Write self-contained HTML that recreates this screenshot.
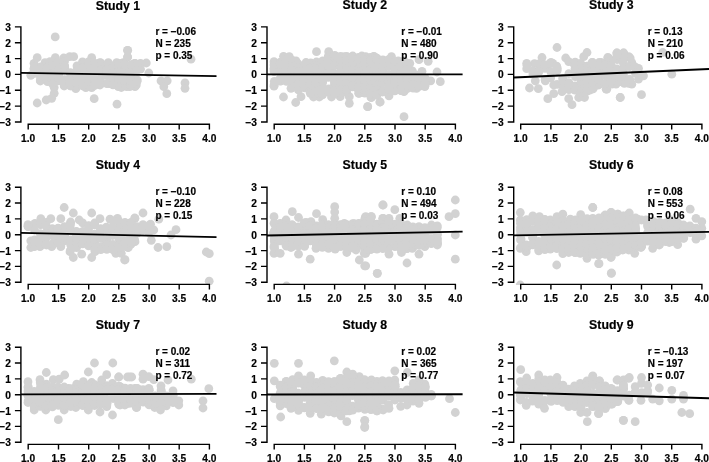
<!DOCTYPE html>
<html><head><meta charset="utf-8"><title>Studies</title><style>html,body{margin:0;padding:0;background:#fff;overflow:hidden}svg{display:block}</style></head><body>
<svg width="709" height="462" viewBox="0 0 709 462">
<style>text{font-family:"Liberation Sans",sans-serif;font-weight:bold;fill:#000;stroke:#000;stroke-width:0.18px}.t{font-size:12.3px;text-anchor:middle}.a{font-size:10.2px;text-anchor:middle}.y{font-size:10.2px;text-anchor:end}.l{font-size:10px}</style>
<rect width="709" height="462" fill="#fff"/>
<clipPath id="c0"><rect x="20.9" y="22.0" width="196" height="103.0"/></clipPath>
<g fill="#d2d2d2" clip-path="url(#c0)">
<circle cx="34.0" cy="63.3" r="4.4"/>
<circle cx="37.2" cy="57.7" r="4.4"/>
<circle cx="45.0" cy="62.7" r="4.4"/>
<circle cx="50.0" cy="61.7" r="4.4"/>
<circle cx="55.3" cy="57.7" r="4.4"/>
<circle cx="63.7" cy="58.0" r="4.4"/>
<circle cx="69.7" cy="56.7" r="4.4"/>
<circle cx="73.7" cy="56.7" r="4.4"/>
<circle cx="82.5" cy="61.8" r="4.4"/>
<circle cx="91.7" cy="57.7" r="4.4"/>
<circle cx="100.0" cy="62.7" r="4.4"/>
<circle cx="108.3" cy="62.7" r="4.4"/>
<circle cx="116.7" cy="62.7" r="4.4"/>
<circle cx="123.3" cy="62.7" r="4.4"/>
<circle cx="127.5" cy="50.3" r="4.4"/>
<circle cx="127.5" cy="57.0" r="4.4"/>
<circle cx="135.0" cy="63.3" r="4.4"/>
<circle cx="30.8" cy="75.3" r="4.4"/>
<circle cx="40.3" cy="81.0" r="4.4"/>
<circle cx="47.5" cy="81.7" r="4.4"/>
<circle cx="54.2" cy="87.5" r="4.4"/>
<circle cx="54.2" cy="93.3" r="4.4"/>
<circle cx="51.7" cy="98.3" r="4.4"/>
<circle cx="46.2" cy="100.0" r="4.4"/>
<circle cx="37.2" cy="103.0" r="4.4"/>
<circle cx="64.2" cy="86.0" r="4.4"/>
<circle cx="75.8" cy="88.7" r="4.4"/>
<circle cx="85.8" cy="87.7" r="4.4"/>
<circle cx="91.7" cy="87.7" r="4.4"/>
<circle cx="100.0" cy="85.0" r="4.4"/>
<circle cx="109.2" cy="83.7" r="4.4"/>
<circle cx="94.2" cy="98.7" r="4.4"/>
<circle cx="117.0" cy="104.2" r="4.4"/>
<circle cx="118.3" cy="86.7" r="4.4"/>
<circle cx="126.7" cy="86.7" r="4.4"/>
<circle cx="135.0" cy="86.7" r="4.4"/>
<circle cx="127.7" cy="50.3" r="4.4"/>
<circle cx="127.7" cy="57.0" r="4.4"/>
<circle cx="121.3" cy="63.3" r="4.4"/>
<circle cx="134.7" cy="63.3" r="4.4"/>
<circle cx="140.5" cy="63.3" r="4.4"/>
<circle cx="146.3" cy="63.0" r="4.4"/>
<circle cx="140.5" cy="69.2" r="4.4"/>
<circle cx="128.0" cy="69.2" r="4.4"/>
<circle cx="148.8" cy="73.0" r="4.4"/>
<circle cx="121.3" cy="70.0" r="4.4"/>
<circle cx="121.3" cy="81.7" r="4.4"/>
<circle cx="128.0" cy="81.7" r="4.4"/>
<circle cx="136.3" cy="80.0" r="4.4"/>
<circle cx="136.3" cy="85.0" r="4.4"/>
<circle cx="129.7" cy="86.7" r="4.4"/>
<circle cx="121.3" cy="87.5" r="4.4"/>
<circle cx="161.0" cy="80.8" r="4.4"/>
<circle cx="167.2" cy="80.8" r="4.4"/>
<circle cx="163.8" cy="86.7" r="4.4"/>
<circle cx="166.8" cy="93.7" r="4.4"/>
<circle cx="185.0" cy="82.8" r="4.4"/>
<circle cx="185.0" cy="88.3" r="4.4"/>
<circle cx="191.0" cy="59.2" r="4.4"/>
<circle cx="55.2" cy="36.9" r="4.4"/>
<circle cx="34.2" cy="68.3" r="4.4"/>
<circle cx="34.4" cy="73.3" r="4.4"/>
<circle cx="33.9" cy="68.9" r="4.4"/>
<circle cx="34.6" cy="66.7" r="4.4"/>
<circle cx="40.3" cy="79.9" r="4.4"/>
<circle cx="40.7" cy="71.0" r="4.4"/>
<circle cx="40.7" cy="66.9" r="4.4"/>
<circle cx="40.4" cy="73.6" r="4.4"/>
<circle cx="40.7" cy="72.3" r="4.4"/>
<circle cx="40.3" cy="68.3" r="4.4"/>
<circle cx="40.0" cy="75.4" r="4.4"/>
<circle cx="46.1" cy="72.5" r="4.4"/>
<circle cx="46.3" cy="77.5" r="4.4"/>
<circle cx="46.6" cy="71.5" r="4.4"/>
<circle cx="46.4" cy="73.5" r="4.4"/>
<circle cx="46.8" cy="68.8" r="4.4"/>
<circle cx="46.7" cy="68.1" r="4.4"/>
<circle cx="52.3" cy="67.5" r="4.4"/>
<circle cx="52.3" cy="80.1" r="4.4"/>
<circle cx="52.7" cy="62.4" r="4.4"/>
<circle cx="52.0" cy="72.6" r="4.4"/>
<circle cx="52.3" cy="73.9" r="4.4"/>
<circle cx="52.6" cy="78.8" r="4.4"/>
<circle cx="52.5" cy="84.0" r="4.4"/>
<circle cx="52.4" cy="65.6" r="4.4"/>
<circle cx="58.4" cy="80.8" r="4.4"/>
<circle cx="58.6" cy="75.9" r="4.4"/>
<circle cx="58.8" cy="73.4" r="4.4"/>
<circle cx="58.2" cy="64.1" r="4.4"/>
<circle cx="58.5" cy="67.0" r="4.4"/>
<circle cx="58.5" cy="70.8" r="4.4"/>
<circle cx="58.5" cy="77.7" r="4.4"/>
<circle cx="58.8" cy="67.0" r="4.4"/>
<circle cx="58.3" cy="62.6" r="4.4"/>
<circle cx="64.5" cy="83.1" r="4.4"/>
<circle cx="64.7" cy="66.7" r="4.4"/>
<circle cx="64.7" cy="85.0" r="4.4"/>
<circle cx="64.5" cy="61.0" r="4.4"/>
<circle cx="64.1" cy="62.0" r="4.4"/>
<circle cx="64.8" cy="68.0" r="4.4"/>
<circle cx="64.5" cy="65.9" r="4.4"/>
<circle cx="64.5" cy="69.2" r="4.4"/>
<circle cx="64.5" cy="66.2" r="4.4"/>
<circle cx="64.6" cy="79.6" r="4.4"/>
<circle cx="70.5" cy="85.9" r="4.4"/>
<circle cx="70.8" cy="79.1" r="4.4"/>
<circle cx="70.8" cy="85.8" r="4.4"/>
<circle cx="70.3" cy="78.5" r="4.4"/>
<circle cx="70.2" cy="81.6" r="4.4"/>
<circle cx="70.7" cy="74.4" r="4.4"/>
<circle cx="70.3" cy="72.7" r="4.4"/>
<circle cx="70.4" cy="84.6" r="4.4"/>
<circle cx="70.2" cy="82.4" r="4.4"/>
<circle cx="70.3" cy="79.9" r="4.4"/>
<circle cx="70.3" cy="84.0" r="4.4"/>
<circle cx="76.5" cy="71.1" r="4.4"/>
<circle cx="76.5" cy="74.0" r="4.4"/>
<circle cx="76.9" cy="75.6" r="4.4"/>
<circle cx="76.6" cy="78.6" r="4.4"/>
<circle cx="76.8" cy="77.5" r="4.4"/>
<circle cx="76.3" cy="75.7" r="4.4"/>
<circle cx="76.7" cy="73.9" r="4.4"/>
<circle cx="76.7" cy="83.0" r="4.4"/>
<circle cx="77.0" cy="65.9" r="4.4"/>
<circle cx="76.8" cy="71.4" r="4.4"/>
<circle cx="82.5" cy="64.0" r="4.4"/>
<circle cx="82.7" cy="83.0" r="4.4"/>
<circle cx="83.0" cy="82.9" r="4.4"/>
<circle cx="82.9" cy="77.9" r="4.4"/>
<circle cx="82.5" cy="67.6" r="4.4"/>
<circle cx="82.5" cy="68.4" r="4.4"/>
<circle cx="82.9" cy="74.7" r="4.4"/>
<circle cx="82.2" cy="76.1" r="4.4"/>
<circle cx="82.7" cy="85.9" r="4.4"/>
<circle cx="88.6" cy="70.5" r="4.4"/>
<circle cx="88.5" cy="61.8" r="4.4"/>
<circle cx="88.6" cy="78.6" r="4.4"/>
<circle cx="88.8" cy="75.9" r="4.4"/>
<circle cx="88.5" cy="78.9" r="4.4"/>
<circle cx="88.9" cy="64.5" r="4.4"/>
<circle cx="89.0" cy="74.1" r="4.4"/>
<circle cx="88.5" cy="81.3" r="4.4"/>
<circle cx="89.0" cy="75.0" r="4.4"/>
<circle cx="88.4" cy="76.1" r="4.4"/>
<circle cx="94.6" cy="64.7" r="4.4"/>
<circle cx="94.7" cy="85.4" r="4.4"/>
<circle cx="95.1" cy="63.3" r="4.4"/>
<circle cx="94.4" cy="75.4" r="4.4"/>
<circle cx="94.5" cy="84.8" r="4.4"/>
<circle cx="95.0" cy="74.6" r="4.4"/>
<circle cx="94.5" cy="67.5" r="4.4"/>
<circle cx="95.0" cy="80.8" r="4.4"/>
<circle cx="94.7" cy="78.0" r="4.4"/>
<circle cx="100.7" cy="62.9" r="4.4"/>
<circle cx="101.0" cy="70.7" r="4.4"/>
<circle cx="100.8" cy="77.6" r="4.4"/>
<circle cx="101.0" cy="66.6" r="4.4"/>
<circle cx="100.5" cy="65.5" r="4.4"/>
<circle cx="100.4" cy="81.8" r="4.4"/>
<circle cx="100.8" cy="71.8" r="4.4"/>
<circle cx="100.6" cy="82.5" r="4.4"/>
<circle cx="101.0" cy="69.3" r="4.4"/>
<circle cx="106.8" cy="64.5" r="4.4"/>
<circle cx="106.8" cy="83.7" r="4.4"/>
<circle cx="106.6" cy="75.2" r="4.4"/>
<circle cx="107.2" cy="71.8" r="4.4"/>
<circle cx="106.5" cy="69.7" r="4.4"/>
<circle cx="106.6" cy="75.4" r="4.4"/>
<circle cx="107.1" cy="73.3" r="4.4"/>
<circle cx="106.7" cy="69.5" r="4.4"/>
<circle cx="106.6" cy="69.9" r="4.4"/>
<circle cx="112.8" cy="83.2" r="4.4"/>
<circle cx="113.2" cy="75.1" r="4.4"/>
<circle cx="112.6" cy="74.2" r="4.4"/>
<circle cx="112.7" cy="66.0" r="4.4"/>
<circle cx="112.5" cy="68.4" r="4.4"/>
<circle cx="112.6" cy="78.1" r="4.4"/>
<circle cx="112.9" cy="73.1" r="4.4"/>
<circle cx="113.0" cy="84.8" r="4.4"/>
<circle cx="118.7" cy="73.4" r="4.4"/>
<circle cx="118.7" cy="74.9" r="4.4"/>
<circle cx="119.2" cy="78.7" r="4.4"/>
<circle cx="119.0" cy="79.3" r="4.4"/>
<circle cx="118.7" cy="83.6" r="4.4"/>
<circle cx="118.7" cy="71.4" r="4.4"/>
<circle cx="119.2" cy="67.4" r="4.4"/>
<circle cx="124.7" cy="63.7" r="4.4"/>
<circle cx="124.5" cy="68.9" r="4.4"/>
<circle cx="124.9" cy="75.0" r="4.4"/>
<circle cx="124.5" cy="78.5" r="4.4"/>
<circle cx="124.7" cy="81.0" r="4.4"/>
<circle cx="125.2" cy="77.8" r="4.4"/>
<circle cx="124.6" cy="64.3" r="4.4"/>
<circle cx="130.9" cy="84.3" r="4.4"/>
<circle cx="131.3" cy="82.5" r="4.4"/>
<circle cx="130.6" cy="78.5" r="4.4"/>
<circle cx="130.9" cy="67.5" r="4.4"/>
<circle cx="131.2" cy="81.8" r="4.4"/>
<circle cx="130.6" cy="71.2" r="4.4"/>
<circle cx="130.8" cy="77.0" r="4.4"/>
<circle cx="119.1" cy="74.1" r="4.4"/>
<circle cx="118.6" cy="75.0" r="4.4"/>
<circle cx="119.0" cy="70.2" r="4.4"/>
<circle cx="119.0" cy="77.7" r="4.4"/>
<circle cx="119.2" cy="75.3" r="4.4"/>
<circle cx="119.1" cy="78.9" r="4.4"/>
<circle cx="119.1" cy="63.9" r="4.4"/>
<circle cx="124.7" cy="71.4" r="4.4"/>
<circle cx="124.8" cy="77.0" r="4.4"/>
<circle cx="124.8" cy="71.9" r="4.4"/>
<circle cx="124.6" cy="73.5" r="4.4"/>
<circle cx="125.2" cy="80.0" r="4.4"/>
<circle cx="124.8" cy="80.0" r="4.4"/>
<circle cx="124.7" cy="64.5" r="4.4"/>
<circle cx="131.0" cy="81.7" r="4.4"/>
<circle cx="131.1" cy="79.7" r="4.4"/>
<circle cx="130.9" cy="75.3" r="4.4"/>
<circle cx="130.7" cy="85.0" r="4.4"/>
<circle cx="131.3" cy="64.7" r="4.4"/>
<circle cx="131.3" cy="80.6" r="4.4"/>
<circle cx="130.6" cy="72.5" r="4.4"/>
<circle cx="137.3" cy="80.0" r="4.4"/>
<circle cx="137.2" cy="68.5" r="4.4"/>
<circle cx="137.2" cy="64.7" r="4.4"/>
<circle cx="137.0" cy="81.6" r="4.4"/>
<circle cx="136.7" cy="70.5" r="4.4"/>
</g>
<line x1="20.9" y1="72.9" x2="216.5" y2="76.2" stroke="#000" stroke-width="1.85"/>
<path d="M20.9 26.9V122.0M20.9 122.0h-5.3M20.9 106.1h-5.3M20.9 90.2h-5.3M20.9 74.4h-5.3M20.9 58.6h-5.3M20.9 42.7h-5.3M20.9 26.9h-5.3M28.2 124.3H209.4M28.2 124.3v4.4M58.5 124.3v4.4M88.7 124.3v4.4M118.8 124.3v4.4M149.1 124.3v4.4M179.2 124.3v4.4M209.4 124.3v4.4" stroke="#000" stroke-width="1.4" fill="none" stroke-linecap="square"/>
<text class="y" x="10.9" y="126.0">−3</text>
<text class="y" x="10.9" y="110.1">−2</text>
<text class="y" x="10.9" y="94.2">−1</text>
<text class="y" x="10.9" y="78.4">0</text>
<text class="y" x="10.9" y="62.6">1</text>
<text class="y" x="10.9" y="46.7">2</text>
<text class="y" x="10.9" y="30.9">3</text>
<text class="a" x="28.2" y="141.6">1.0</text>
<text class="a" x="58.5" y="141.6">1.5</text>
<text class="a" x="88.7" y="141.6">2.0</text>
<text class="a" x="118.8" y="141.6">2.5</text>
<text class="a" x="149.1" y="141.6">3.0</text>
<text class="a" x="179.2" y="141.6">3.5</text>
<text class="a" x="209.4" y="141.6">4.0</text>
<text class="t" x="118.0" y="9.60">Study 1</text>
<text class="l" x="155.4" y="35.0">r = −0.06</text>
<text class="l" x="155.4" y="46.9">N = 235</text>
<text class="l" x="155.4" y="58.7">p = 0.35</text>
<clipPath id="c1"><rect x="267.0" y="22.0" width="196" height="103.0"/></clipPath>
<g fill="#d2d2d2" clip-path="url(#c1)">
<circle cx="274.0" cy="61.7" r="4.4"/>
<circle cx="274.0" cy="68.3" r="4.4"/>
<circle cx="283.5" cy="56.3" r="4.4"/>
<circle cx="289.3" cy="56.7" r="4.4"/>
<circle cx="296.0" cy="60.8" r="4.4"/>
<circle cx="283.5" cy="68.3" r="4.4"/>
<circle cx="306.0" cy="62.5" r="4.4"/>
<circle cx="316.5" cy="51.7" r="4.4"/>
<circle cx="322.7" cy="60.8" r="4.4"/>
<circle cx="328.7" cy="51.7" r="4.4"/>
<circle cx="336.0" cy="56.7" r="4.4"/>
<circle cx="344.3" cy="56.7" r="4.4"/>
<circle cx="352.7" cy="56.0" r="4.4"/>
<circle cx="361.8" cy="56.0" r="4.4"/>
<circle cx="373.5" cy="56.7" r="4.4"/>
<circle cx="381.0" cy="61.7" r="4.4"/>
<circle cx="274.0" cy="86.2" r="4.4"/>
<circle cx="281.0" cy="80.8" r="4.4"/>
<circle cx="283.5" cy="97.0" r="4.4"/>
<circle cx="291.0" cy="88.3" r="4.4"/>
<circle cx="295.7" cy="102.5" r="4.4"/>
<circle cx="301.0" cy="96.7" r="4.4"/>
<circle cx="313.5" cy="97.0" r="4.4"/>
<circle cx="319.3" cy="97.0" r="4.4"/>
<circle cx="331.5" cy="97.0" r="4.4"/>
<circle cx="340.2" cy="96.7" r="4.4"/>
<circle cx="349.3" cy="96.7" r="4.4"/>
<circle cx="349.3" cy="103.3" r="4.4"/>
<circle cx="359.3" cy="91.7" r="4.4"/>
<circle cx="371.0" cy="97.5" r="4.4"/>
<circle cx="367.7" cy="106.7" r="4.4"/>
<circle cx="380.2" cy="102.0" r="4.4"/>
<circle cx="381.0" cy="90.0" r="4.4"/>
<circle cx="365.7" cy="56.7" r="4.4"/>
<circle cx="374.0" cy="56.3" r="4.4"/>
<circle cx="380.7" cy="60.8" r="4.4"/>
<circle cx="391.5" cy="56.7" r="4.4"/>
<circle cx="398.2" cy="60.8" r="4.4"/>
<circle cx="404.0" cy="60.8" r="4.4"/>
<circle cx="409.8" cy="63.3" r="4.4"/>
<circle cx="419.0" cy="59.7" r="4.4"/>
<circle cx="428.2" cy="61.3" r="4.4"/>
<circle cx="422.0" cy="71.3" r="4.4"/>
<circle cx="437.0" cy="72.0" r="4.4"/>
<circle cx="412.3" cy="70.8" r="4.4"/>
<circle cx="371.5" cy="97.5" r="4.4"/>
<circle cx="367.7" cy="106.7" r="4.4"/>
<circle cx="379.8" cy="102.0" r="4.4"/>
<circle cx="389.0" cy="95.8" r="4.4"/>
<circle cx="394.8" cy="90.8" r="4.4"/>
<circle cx="404.0" cy="91.7" r="4.4"/>
<circle cx="404.0" cy="116.7" r="4.4"/>
<circle cx="416.5" cy="88.3" r="4.4"/>
<circle cx="424.8" cy="86.7" r="4.4"/>
<circle cx="430.7" cy="80.8" r="4.4"/>
<circle cx="440.3" cy="81.7" r="4.4"/>
<circle cx="412.3" cy="81.7" r="4.4"/>
<circle cx="274.2" cy="84.7" r="4.4"/>
<circle cx="274.3" cy="81.3" r="4.4"/>
<circle cx="274.3" cy="69.9" r="4.4"/>
<circle cx="274.1" cy="69.7" r="4.4"/>
<circle cx="274.1" cy="71.6" r="4.4"/>
<circle cx="274.6" cy="69.3" r="4.4"/>
<circle cx="274.0" cy="65.1" r="4.4"/>
<circle cx="280.2" cy="62.5" r="4.4"/>
<circle cx="280.2" cy="81.1" r="4.4"/>
<circle cx="280.6" cy="69.2" r="4.4"/>
<circle cx="280.0" cy="70.0" r="4.4"/>
<circle cx="279.9" cy="78.9" r="4.4"/>
<circle cx="280.2" cy="72.8" r="4.4"/>
<circle cx="280.0" cy="71.6" r="4.4"/>
<circle cx="280.4" cy="62.5" r="4.4"/>
<circle cx="280.5" cy="63.9" r="4.4"/>
<circle cx="286.5" cy="81.4" r="4.4"/>
<circle cx="286.3" cy="59.9" r="4.4"/>
<circle cx="286.6" cy="75.3" r="4.4"/>
<circle cx="286.2" cy="72.2" r="4.4"/>
<circle cx="286.6" cy="75.5" r="4.4"/>
<circle cx="286.1" cy="70.3" r="4.4"/>
<circle cx="286.1" cy="60.5" r="4.4"/>
<circle cx="286.6" cy="70.3" r="4.4"/>
<circle cx="286.1" cy="66.3" r="4.4"/>
<circle cx="292.3" cy="62.2" r="4.4"/>
<circle cx="292.4" cy="60.3" r="4.4"/>
<circle cx="292.4" cy="73.9" r="4.4"/>
<circle cx="292.3" cy="71.3" r="4.4"/>
<circle cx="292.7" cy="81.6" r="4.4"/>
<circle cx="292.6" cy="71.0" r="4.4"/>
<circle cx="292.5" cy="71.1" r="4.4"/>
<circle cx="292.5" cy="80.6" r="4.4"/>
<circle cx="292.0" cy="70.1" r="4.4"/>
<circle cx="292.1" cy="69.0" r="4.4"/>
<circle cx="292.6" cy="66.7" r="4.4"/>
<circle cx="298.4" cy="64.0" r="4.4"/>
<circle cx="298.4" cy="90.0" r="4.4"/>
<circle cx="298.5" cy="85.0" r="4.4"/>
<circle cx="298.0" cy="68.0" r="4.4"/>
<circle cx="298.5" cy="71.6" r="4.4"/>
<circle cx="298.0" cy="81.5" r="4.4"/>
<circle cx="298.5" cy="78.7" r="4.4"/>
<circle cx="298.0" cy="75.5" r="4.4"/>
<circle cx="298.1" cy="75.4" r="4.4"/>
<circle cx="298.3" cy="83.3" r="4.4"/>
<circle cx="298.1" cy="85.5" r="4.4"/>
<circle cx="298.5" cy="86.4" r="4.4"/>
<circle cx="298.6" cy="78.6" r="4.4"/>
<circle cx="298.0" cy="84.1" r="4.4"/>
<circle cx="304.7" cy="84.4" r="4.4"/>
<circle cx="304.6" cy="78.2" r="4.4"/>
<circle cx="304.5" cy="68.9" r="4.4"/>
<circle cx="304.3" cy="78.8" r="4.4"/>
<circle cx="304.7" cy="87.8" r="4.4"/>
<circle cx="304.1" cy="85.1" r="4.4"/>
<circle cx="304.4" cy="67.0" r="4.4"/>
<circle cx="304.1" cy="71.2" r="4.4"/>
<circle cx="304.5" cy="86.3" r="4.4"/>
<circle cx="304.3" cy="75.0" r="4.4"/>
<circle cx="304.1" cy="79.1" r="4.4"/>
<circle cx="304.1" cy="80.3" r="4.4"/>
<circle cx="304.1" cy="78.4" r="4.4"/>
<circle cx="310.4" cy="64.3" r="4.4"/>
<circle cx="310.4" cy="87.3" r="4.4"/>
<circle cx="310.2" cy="77.6" r="4.4"/>
<circle cx="310.7" cy="62.8" r="4.4"/>
<circle cx="310.6" cy="68.2" r="4.4"/>
<circle cx="310.5" cy="77.4" r="4.4"/>
<circle cx="310.0" cy="91.5" r="4.4"/>
<circle cx="310.1" cy="90.9" r="4.4"/>
<circle cx="310.6" cy="80.9" r="4.4"/>
<circle cx="310.2" cy="78.3" r="4.4"/>
<circle cx="310.2" cy="83.9" r="4.4"/>
<circle cx="310.4" cy="81.2" r="4.4"/>
<circle cx="310.3" cy="93.3" r="4.4"/>
<circle cx="310.8" cy="72.4" r="4.4"/>
<circle cx="310.8" cy="71.0" r="4.4"/>
<circle cx="310.4" cy="76.1" r="4.4"/>
<circle cx="316.5" cy="62.0" r="4.4"/>
<circle cx="316.5" cy="94.5" r="4.4"/>
<circle cx="316.2" cy="63.6" r="4.4"/>
<circle cx="316.5" cy="82.2" r="4.4"/>
<circle cx="316.8" cy="65.7" r="4.4"/>
<circle cx="316.9" cy="69.3" r="4.4"/>
<circle cx="316.4" cy="70.8" r="4.4"/>
<circle cx="316.2" cy="80.4" r="4.4"/>
<circle cx="316.6" cy="69.0" r="4.4"/>
<circle cx="316.4" cy="92.8" r="4.4"/>
<circle cx="316.5" cy="79.4" r="4.4"/>
<circle cx="316.1" cy="82.7" r="4.4"/>
<circle cx="316.8" cy="75.1" r="4.4"/>
<circle cx="316.1" cy="90.8" r="4.4"/>
<circle cx="316.5" cy="78.2" r="4.4"/>
<circle cx="316.4" cy="69.1" r="4.4"/>
<circle cx="316.4" cy="83.2" r="4.4"/>
<circle cx="316.1" cy="83.0" r="4.4"/>
<circle cx="322.5" cy="62.4" r="4.4"/>
<circle cx="322.5" cy="94.9" r="4.4"/>
<circle cx="322.6" cy="82.4" r="4.4"/>
<circle cx="322.5" cy="81.3" r="4.4"/>
<circle cx="322.8" cy="67.8" r="4.4"/>
<circle cx="322.3" cy="89.6" r="4.4"/>
<circle cx="322.9" cy="61.8" r="4.4"/>
<circle cx="322.8" cy="74.9" r="4.4"/>
<circle cx="322.4" cy="66.5" r="4.4"/>
<circle cx="322.3" cy="79.4" r="4.4"/>
<circle cx="322.5" cy="93.6" r="4.4"/>
<circle cx="322.6" cy="64.0" r="4.4"/>
<circle cx="322.4" cy="80.1" r="4.4"/>
<circle cx="322.9" cy="71.8" r="4.4"/>
<circle cx="322.2" cy="86.3" r="4.4"/>
<circle cx="322.2" cy="89.1" r="4.4"/>
<circle cx="322.4" cy="73.1" r="4.4"/>
<circle cx="322.3" cy="71.6" r="4.4"/>
<circle cx="322.5" cy="67.4" r="4.4"/>
<circle cx="328.6" cy="56.4" r="4.4"/>
<circle cx="328.6" cy="75.3" r="4.4"/>
<circle cx="328.7" cy="67.9" r="4.4"/>
<circle cx="328.5" cy="73.5" r="4.4"/>
<circle cx="329.0" cy="70.3" r="4.4"/>
<circle cx="328.8" cy="59.5" r="4.4"/>
<circle cx="328.5" cy="67.1" r="4.4"/>
<circle cx="328.2" cy="71.1" r="4.4"/>
<circle cx="328.3" cy="56.5" r="4.4"/>
<circle cx="328.5" cy="56.8" r="4.4"/>
<circle cx="328.7" cy="73.9" r="4.4"/>
<circle cx="328.5" cy="65.4" r="4.4"/>
<circle cx="328.8" cy="88.9" r="4.4"/>
<circle cx="328.7" cy="71.7" r="4.4"/>
<circle cx="328.3" cy="77.3" r="4.4"/>
<circle cx="328.7" cy="63.3" r="4.4"/>
<circle cx="328.9" cy="63.9" r="4.4"/>
<circle cx="328.5" cy="73.4" r="4.4"/>
<circle cx="328.7" cy="73.2" r="4.4"/>
<circle cx="328.8" cy="92.2" r="4.4"/>
<circle cx="328.2" cy="59.6" r="4.4"/>
<circle cx="328.6" cy="66.0" r="4.4"/>
<circle cx="334.6" cy="93.0" r="4.4"/>
<circle cx="334.8" cy="76.2" r="4.4"/>
<circle cx="334.7" cy="64.5" r="4.4"/>
<circle cx="334.3" cy="85.4" r="4.4"/>
<circle cx="334.4" cy="62.2" r="4.4"/>
<circle cx="334.7" cy="64.1" r="4.4"/>
<circle cx="335.0" cy="64.5" r="4.4"/>
<circle cx="334.3" cy="77.3" r="4.4"/>
<circle cx="334.9" cy="93.4" r="4.4"/>
<circle cx="334.7" cy="75.4" r="4.4"/>
<circle cx="334.7" cy="75.6" r="4.4"/>
<circle cx="334.5" cy="56.8" r="4.4"/>
<circle cx="334.2" cy="73.1" r="4.4"/>
<circle cx="334.3" cy="93.8" r="4.4"/>
<circle cx="334.8" cy="75.3" r="4.4"/>
<circle cx="334.8" cy="65.3" r="4.4"/>
<circle cx="334.8" cy="55.4" r="4.4"/>
<circle cx="334.9" cy="88.6" r="4.4"/>
<circle cx="334.5" cy="81.4" r="4.4"/>
<circle cx="334.6" cy="82.2" r="4.4"/>
<circle cx="334.6" cy="74.5" r="4.4"/>
<circle cx="335.0" cy="77.3" r="4.4"/>
<circle cx="340.6" cy="56.3" r="4.4"/>
<circle cx="340.6" cy="92.8" r="4.4"/>
<circle cx="340.6" cy="67.0" r="4.4"/>
<circle cx="340.3" cy="66.7" r="4.4"/>
<circle cx="340.8" cy="81.3" r="4.4"/>
<circle cx="340.9" cy="63.1" r="4.4"/>
<circle cx="340.9" cy="66.2" r="4.4"/>
<circle cx="340.3" cy="62.2" r="4.4"/>
<circle cx="340.7" cy="64.6" r="4.4"/>
<circle cx="340.9" cy="63.5" r="4.4"/>
<circle cx="340.5" cy="81.8" r="4.4"/>
<circle cx="340.4" cy="77.1" r="4.4"/>
<circle cx="340.5" cy="92.6" r="4.4"/>
<circle cx="340.9" cy="82.6" r="4.4"/>
<circle cx="340.5" cy="73.2" r="4.4"/>
<circle cx="340.3" cy="66.0" r="4.4"/>
<circle cx="340.6" cy="85.6" r="4.4"/>
<circle cx="340.5" cy="83.8" r="4.4"/>
<circle cx="341.0" cy="90.0" r="4.4"/>
<circle cx="340.8" cy="90.3" r="4.4"/>
<circle cx="341.0" cy="67.1" r="4.4"/>
<circle cx="340.4" cy="71.8" r="4.4"/>
<circle cx="340.4" cy="81.6" r="4.4"/>
<circle cx="346.7" cy="56.4" r="4.4"/>
<circle cx="346.8" cy="78.3" r="4.4"/>
<circle cx="346.6" cy="92.5" r="4.4"/>
<circle cx="347.0" cy="74.9" r="4.4"/>
<circle cx="347.0" cy="74.0" r="4.4"/>
<circle cx="347.1" cy="64.9" r="4.4"/>
<circle cx="346.8" cy="69.6" r="4.4"/>
<circle cx="346.4" cy="64.6" r="4.4"/>
<circle cx="347.0" cy="87.0" r="4.4"/>
<circle cx="347.0" cy="64.4" r="4.4"/>
<circle cx="346.4" cy="89.5" r="4.4"/>
<circle cx="346.3" cy="83.3" r="4.4"/>
<circle cx="346.6" cy="73.3" r="4.4"/>
<circle cx="346.6" cy="57.4" r="4.4"/>
<circle cx="346.9" cy="64.1" r="4.4"/>
<circle cx="346.6" cy="72.2" r="4.4"/>
<circle cx="346.4" cy="70.4" r="4.4"/>
<circle cx="346.4" cy="60.7" r="4.4"/>
<circle cx="346.5" cy="82.0" r="4.4"/>
<circle cx="346.6" cy="83.6" r="4.4"/>
<circle cx="346.5" cy="75.3" r="4.4"/>
<circle cx="346.5" cy="89.7" r="4.4"/>
<circle cx="352.7" cy="56.7" r="4.4"/>
<circle cx="353.0" cy="83.5" r="4.4"/>
<circle cx="352.7" cy="78.7" r="4.4"/>
<circle cx="352.7" cy="76.9" r="4.4"/>
<circle cx="353.0" cy="67.1" r="4.4"/>
<circle cx="352.8" cy="61.3" r="4.4"/>
<circle cx="352.8" cy="61.5" r="4.4"/>
<circle cx="352.6" cy="86.5" r="4.4"/>
<circle cx="352.8" cy="86.5" r="4.4"/>
<circle cx="352.8" cy="57.3" r="4.4"/>
<circle cx="353.0" cy="70.9" r="4.4"/>
<circle cx="352.7" cy="59.8" r="4.4"/>
<circle cx="352.4" cy="79.9" r="4.4"/>
<circle cx="352.4" cy="60.5" r="4.4"/>
<circle cx="352.3" cy="65.7" r="4.4"/>
<circle cx="352.5" cy="86.8" r="4.4"/>
<circle cx="352.4" cy="84.4" r="4.4"/>
<circle cx="353.1" cy="72.0" r="4.4"/>
<circle cx="352.8" cy="69.3" r="4.4"/>
<circle cx="352.5" cy="85.7" r="4.4"/>
<circle cx="352.4" cy="77.7" r="4.4"/>
<circle cx="352.5" cy="69.8" r="4.4"/>
<circle cx="358.8" cy="93.3" r="4.4"/>
<circle cx="359.1" cy="75.4" r="4.4"/>
<circle cx="358.5" cy="87.1" r="4.4"/>
<circle cx="358.5" cy="89.5" r="4.4"/>
<circle cx="358.4" cy="83.8" r="4.4"/>
<circle cx="358.5" cy="82.2" r="4.4"/>
<circle cx="359.0" cy="59.6" r="4.4"/>
<circle cx="359.1" cy="90.5" r="4.4"/>
<circle cx="359.1" cy="71.7" r="4.4"/>
<circle cx="358.5" cy="57.3" r="4.4"/>
<circle cx="358.9" cy="93.2" r="4.4"/>
<circle cx="358.6" cy="79.2" r="4.4"/>
<circle cx="358.7" cy="90.2" r="4.4"/>
<circle cx="359.0" cy="61.3" r="4.4"/>
<circle cx="359.0" cy="82.4" r="4.4"/>
<circle cx="358.6" cy="59.1" r="4.4"/>
<circle cx="359.0" cy="68.7" r="4.4"/>
<circle cx="358.9" cy="86.7" r="4.4"/>
<circle cx="358.9" cy="74.5" r="4.4"/>
<circle cx="358.8" cy="73.3" r="4.4"/>
<circle cx="358.5" cy="72.2" r="4.4"/>
<circle cx="364.8" cy="57.7" r="4.4"/>
<circle cx="364.8" cy="93.1" r="4.4"/>
<circle cx="364.4" cy="70.4" r="4.4"/>
<circle cx="365.0" cy="58.7" r="4.4"/>
<circle cx="364.9" cy="88.7" r="4.4"/>
<circle cx="364.5" cy="85.5" r="4.4"/>
<circle cx="364.9" cy="78.0" r="4.4"/>
<circle cx="365.2" cy="65.9" r="4.4"/>
<circle cx="365.2" cy="72.8" r="4.4"/>
<circle cx="364.6" cy="89.6" r="4.4"/>
<circle cx="364.6" cy="65.3" r="4.4"/>
<circle cx="364.6" cy="86.4" r="4.4"/>
<circle cx="364.7" cy="92.1" r="4.4"/>
<circle cx="364.7" cy="64.0" r="4.4"/>
<circle cx="364.9" cy="72.4" r="4.4"/>
<circle cx="364.5" cy="58.7" r="4.4"/>
<circle cx="365.1" cy="71.9" r="4.4"/>
<circle cx="364.6" cy="63.7" r="4.4"/>
<circle cx="364.7" cy="65.9" r="4.4"/>
<circle cx="364.8" cy="92.3" r="4.4"/>
<circle cx="365.0" cy="84.8" r="4.4"/>
<circle cx="365.0" cy="70.8" r="4.4"/>
<circle cx="370.8" cy="57.4" r="4.4"/>
<circle cx="370.8" cy="93.8" r="4.4"/>
<circle cx="370.8" cy="75.4" r="4.4"/>
<circle cx="370.6" cy="85.7" r="4.4"/>
<circle cx="370.7" cy="79.5" r="4.4"/>
<circle cx="371.1" cy="85.8" r="4.4"/>
<circle cx="370.6" cy="94.2" r="4.4"/>
<circle cx="371.1" cy="58.7" r="4.4"/>
<circle cx="371.0" cy="60.6" r="4.4"/>
<circle cx="371.1" cy="71.9" r="4.4"/>
<circle cx="370.7" cy="85.5" r="4.4"/>
<circle cx="370.6" cy="78.1" r="4.4"/>
<circle cx="370.6" cy="70.4" r="4.4"/>
<circle cx="371.0" cy="88.2" r="4.4"/>
<circle cx="370.8" cy="66.5" r="4.4"/>
<circle cx="371.1" cy="89.6" r="4.4"/>
<circle cx="370.5" cy="78.0" r="4.4"/>
<circle cx="370.7" cy="88.0" r="4.4"/>
<circle cx="370.5" cy="92.8" r="4.4"/>
<circle cx="371.0" cy="57.6" r="4.4"/>
<circle cx="371.2" cy="76.4" r="4.4"/>
<circle cx="376.9" cy="58.9" r="4.4"/>
<circle cx="377.2" cy="81.6" r="4.4"/>
<circle cx="376.9" cy="62.5" r="4.4"/>
<circle cx="376.5" cy="75.9" r="4.4"/>
<circle cx="377.0" cy="85.1" r="4.4"/>
<circle cx="376.8" cy="88.2" r="4.4"/>
<circle cx="376.8" cy="90.6" r="4.4"/>
<circle cx="376.9" cy="89.3" r="4.4"/>
<circle cx="376.8" cy="72.2" r="4.4"/>
<circle cx="376.9" cy="77.2" r="4.4"/>
<circle cx="377.1" cy="85.1" r="4.4"/>
<circle cx="377.0" cy="72.7" r="4.4"/>
<circle cx="376.8" cy="70.5" r="4.4"/>
<circle cx="376.9" cy="68.1" r="4.4"/>
<circle cx="376.9" cy="74.3" r="4.4"/>
<circle cx="377.0" cy="78.8" r="4.4"/>
<circle cx="376.5" cy="73.9" r="4.4"/>
<circle cx="376.9" cy="64.5" r="4.4"/>
<circle cx="376.7" cy="80.5" r="4.4"/>
<circle cx="364.8" cy="58.3" r="4.4"/>
<circle cx="364.5" cy="82.6" r="4.4"/>
<circle cx="364.9" cy="70.1" r="4.4"/>
<circle cx="364.7" cy="73.9" r="4.4"/>
<circle cx="364.9" cy="84.9" r="4.4"/>
<circle cx="364.8" cy="86.7" r="4.4"/>
<circle cx="364.7" cy="90.0" r="4.4"/>
<circle cx="365.1" cy="71.3" r="4.4"/>
<circle cx="365.0" cy="70.4" r="4.4"/>
<circle cx="364.7" cy="71.7" r="4.4"/>
<circle cx="365.0" cy="69.1" r="4.4"/>
<circle cx="365.2" cy="91.1" r="4.4"/>
<circle cx="364.4" cy="64.9" r="4.4"/>
<circle cx="364.4" cy="60.2" r="4.4"/>
<circle cx="364.5" cy="69.5" r="4.4"/>
<circle cx="364.7" cy="70.9" r="4.4"/>
<circle cx="364.5" cy="89.7" r="4.4"/>
<circle cx="365.2" cy="82.1" r="4.4"/>
<circle cx="364.6" cy="87.2" r="4.4"/>
<circle cx="364.6" cy="80.0" r="4.4"/>
<circle cx="365.0" cy="73.7" r="4.4"/>
<circle cx="370.8" cy="59.4" r="4.4"/>
<circle cx="370.8" cy="94.3" r="4.4"/>
<circle cx="370.6" cy="86.8" r="4.4"/>
<circle cx="370.4" cy="81.1" r="4.4"/>
<circle cx="370.7" cy="61.3" r="4.4"/>
<circle cx="371.0" cy="86.7" r="4.4"/>
<circle cx="370.9" cy="94.2" r="4.4"/>
<circle cx="370.8" cy="82.5" r="4.4"/>
<circle cx="370.8" cy="83.4" r="4.4"/>
<circle cx="370.8" cy="72.3" r="4.4"/>
<circle cx="370.8" cy="59.6" r="4.4"/>
<circle cx="370.8" cy="68.3" r="4.4"/>
<circle cx="371.0" cy="68.0" r="4.4"/>
<circle cx="370.5" cy="87.4" r="4.4"/>
<circle cx="370.7" cy="94.2" r="4.4"/>
<circle cx="371.2" cy="80.0" r="4.4"/>
<circle cx="370.6" cy="63.4" r="4.4"/>
<circle cx="370.8" cy="61.1" r="4.4"/>
<circle cx="370.7" cy="60.6" r="4.4"/>
<circle cx="370.6" cy="80.1" r="4.4"/>
<circle cx="371.1" cy="76.6" r="4.4"/>
<circle cx="376.9" cy="58.2" r="4.4"/>
<circle cx="376.9" cy="95.2" r="4.4"/>
<circle cx="377.0" cy="73.1" r="4.4"/>
<circle cx="376.8" cy="76.8" r="4.4"/>
<circle cx="377.0" cy="86.0" r="4.4"/>
<circle cx="376.9" cy="62.6" r="4.4"/>
<circle cx="377.2" cy="59.9" r="4.4"/>
<circle cx="377.1" cy="72.7" r="4.4"/>
<circle cx="377.2" cy="60.6" r="4.4"/>
<circle cx="377.1" cy="85.1" r="4.4"/>
<circle cx="377.0" cy="91.5" r="4.4"/>
<circle cx="376.8" cy="90.1" r="4.4"/>
<circle cx="376.8" cy="67.3" r="4.4"/>
<circle cx="377.0" cy="59.2" r="4.4"/>
<circle cx="376.8" cy="58.7" r="4.4"/>
<circle cx="377.0" cy="89.9" r="4.4"/>
<circle cx="376.8" cy="94.2" r="4.4"/>
<circle cx="377.1" cy="76.7" r="4.4"/>
<circle cx="376.9" cy="94.8" r="4.4"/>
<circle cx="382.9" cy="59.8" r="4.4"/>
<circle cx="382.8" cy="65.8" r="4.4"/>
<circle cx="382.6" cy="92.0" r="4.4"/>
<circle cx="383.3" cy="80.4" r="4.4"/>
<circle cx="383.1" cy="63.2" r="4.4"/>
<circle cx="382.7" cy="91.6" r="4.4"/>
<circle cx="382.6" cy="82.8" r="4.4"/>
<circle cx="383.0" cy="64.9" r="4.4"/>
<circle cx="382.5" cy="70.1" r="4.4"/>
<circle cx="382.5" cy="78.5" r="4.4"/>
<circle cx="382.6" cy="77.2" r="4.4"/>
<circle cx="383.2" cy="68.2" r="4.4"/>
<circle cx="383.3" cy="91.1" r="4.4"/>
<circle cx="383.0" cy="91.2" r="4.4"/>
<circle cx="382.7" cy="61.4" r="4.4"/>
<circle cx="382.8" cy="69.5" r="4.4"/>
<circle cx="383.2" cy="70.5" r="4.4"/>
<circle cx="382.9" cy="66.4" r="4.4"/>
<circle cx="389.0" cy="59.6" r="4.4"/>
<circle cx="389.0" cy="92.1" r="4.4"/>
<circle cx="388.8" cy="85.2" r="4.4"/>
<circle cx="389.2" cy="75.1" r="4.4"/>
<circle cx="389.0" cy="74.4" r="4.4"/>
<circle cx="388.8" cy="66.1" r="4.4"/>
<circle cx="389.0" cy="88.6" r="4.4"/>
<circle cx="388.7" cy="61.6" r="4.4"/>
<circle cx="388.8" cy="62.7" r="4.4"/>
<circle cx="388.7" cy="85.3" r="4.4"/>
<circle cx="389.3" cy="83.3" r="4.4"/>
<circle cx="389.2" cy="87.3" r="4.4"/>
<circle cx="388.7" cy="59.6" r="4.4"/>
<circle cx="388.6" cy="81.8" r="4.4"/>
<circle cx="388.7" cy="88.8" r="4.4"/>
<circle cx="389.2" cy="81.9" r="4.4"/>
<circle cx="388.6" cy="89.4" r="4.4"/>
<circle cx="389.0" cy="85.0" r="4.4"/>
<circle cx="395.0" cy="61.8" r="4.4"/>
<circle cx="395.0" cy="90.5" r="4.4"/>
<circle cx="395.3" cy="68.1" r="4.4"/>
<circle cx="394.7" cy="85.6" r="4.4"/>
<circle cx="394.7" cy="85.1" r="4.4"/>
<circle cx="395.2" cy="88.1" r="4.4"/>
<circle cx="394.8" cy="72.0" r="4.4"/>
<circle cx="394.8" cy="80.7" r="4.4"/>
<circle cx="395.1" cy="70.0" r="4.4"/>
<circle cx="395.0" cy="79.4" r="4.4"/>
<circle cx="394.9" cy="77.2" r="4.4"/>
<circle cx="395.2" cy="79.5" r="4.4"/>
<circle cx="395.1" cy="81.4" r="4.4"/>
<circle cx="395.1" cy="83.8" r="4.4"/>
<circle cx="395.3" cy="82.3" r="4.4"/>
<circle cx="401.0" cy="90.5" r="4.4"/>
<circle cx="401.0" cy="88.4" r="4.4"/>
<circle cx="400.9" cy="71.3" r="4.4"/>
<circle cx="400.8" cy="71.0" r="4.4"/>
<circle cx="400.7" cy="73.8" r="4.4"/>
<circle cx="401.2" cy="75.3" r="4.4"/>
<circle cx="401.2" cy="71.6" r="4.4"/>
<circle cx="401.4" cy="88.7" r="4.4"/>
<circle cx="401.2" cy="90.7" r="4.4"/>
<circle cx="400.7" cy="66.3" r="4.4"/>
<circle cx="401.1" cy="77.3" r="4.4"/>
<circle cx="401.3" cy="81.7" r="4.4"/>
<circle cx="407.1" cy="65.4" r="4.4"/>
<circle cx="407.1" cy="88.6" r="4.4"/>
<circle cx="407.1" cy="75.1" r="4.4"/>
<circle cx="406.8" cy="85.7" r="4.4"/>
<circle cx="407.4" cy="67.5" r="4.4"/>
<circle cx="406.9" cy="68.5" r="4.4"/>
<circle cx="406.8" cy="74.0" r="4.4"/>
<circle cx="407.0" cy="80.2" r="4.4"/>
<circle cx="407.3" cy="63.4" r="4.4"/>
<circle cx="406.9" cy="84.4" r="4.4"/>
<circle cx="407.0" cy="69.5" r="4.4"/>
<circle cx="413.1" cy="88.1" r="4.4"/>
<circle cx="413.1" cy="77.1" r="4.4"/>
<circle cx="413.3" cy="73.6" r="4.4"/>
<circle cx="413.2" cy="80.6" r="4.4"/>
<circle cx="413.4" cy="85.0" r="4.4"/>
<circle cx="413.3" cy="86.3" r="4.4"/>
<circle cx="413.2" cy="84.1" r="4.4"/>
<circle cx="419.2" cy="75.0" r="4.4"/>
<circle cx="419.2" cy="86.4" r="4.4"/>
<circle cx="418.8" cy="75.6" r="4.4"/>
<circle cx="418.9" cy="82.0" r="4.4"/>
<circle cx="419.2" cy="77.8" r="4.4"/>
<circle cx="419.4" cy="84.8" r="4.4"/>
<circle cx="425.2" cy="78.1" r="4.4"/>
<circle cx="425.2" cy="85.1" r="4.4"/>
<circle cx="425.5" cy="79.5" r="4.4"/>
<circle cx="424.9" cy="82.3" r="4.4"/>
<circle cx="425.0" cy="83.0" r="4.4"/>
</g>
<line x1="267.0" y1="74.3" x2="462.6" y2="74.3" stroke="#000" stroke-width="1.85"/>
<path d="M267.0 26.9V122.0M267.0 122.0h-5.3M267.0 106.1h-5.3M267.0 90.2h-5.3M267.0 74.4h-5.3M267.0 58.6h-5.3M267.0 42.7h-5.3M267.0 26.9h-5.3M274.2 124.3H455.4M274.2 124.3v4.4M304.4 124.3v4.4M334.6 124.3v4.4M364.8 124.3v4.4M395.0 124.3v4.4M425.2 124.3v4.4M455.4 124.3v4.4" stroke="#000" stroke-width="1.4" fill="none" stroke-linecap="square"/>
<text class="y" x="257.0" y="126.0">−3</text>
<text class="y" x="257.0" y="110.1">−2</text>
<text class="y" x="257.0" y="94.2">−1</text>
<text class="y" x="257.0" y="78.4">0</text>
<text class="y" x="257.0" y="62.6">1</text>
<text class="y" x="257.0" y="46.7">2</text>
<text class="y" x="257.0" y="30.9">3</text>
<text class="a" x="274.2" y="141.6">1.0</text>
<text class="a" x="304.4" y="141.6">1.5</text>
<text class="a" x="334.6" y="141.6">2.0</text>
<text class="a" x="364.8" y="141.6">2.5</text>
<text class="a" x="395.0" y="141.6">3.0</text>
<text class="a" x="425.2" y="141.6">3.5</text>
<text class="a" x="455.4" y="141.6">4.0</text>
<text class="t" x="364.8" y="9.30">Study 2</text>
<text class="l" x="401.3" y="35.0">r = −0.01</text>
<text class="l" x="401.3" y="46.9">N = 480</text>
<text class="l" x="401.3" y="58.7">p = 0.90</text>
<clipPath id="c2"><rect x="513.7" y="22.0" width="196" height="103.0"/></clipPath>
<g fill="#d2d2d2" clip-path="url(#c2)">
<circle cx="526.7" cy="63.3" r="4.4"/>
<circle cx="526.7" cy="68.7" r="4.4"/>
<circle cx="534.5" cy="63.7" r="4.4"/>
<circle cx="542.0" cy="57.5" r="4.4"/>
<circle cx="547.8" cy="65.0" r="4.4"/>
<circle cx="552.8" cy="63.3" r="4.4"/>
<circle cx="557.0" cy="47.5" r="4.4"/>
<circle cx="565.7" cy="58.0" r="4.4"/>
<circle cx="573.7" cy="63.3" r="4.4"/>
<circle cx="580.3" cy="63.3" r="4.4"/>
<circle cx="583.7" cy="56.7" r="4.4"/>
<circle cx="587.0" cy="52.5" r="4.4"/>
<circle cx="592.0" cy="62.5" r="4.4"/>
<circle cx="600.3" cy="63.3" r="4.4"/>
<circle cx="608.7" cy="58.0" r="4.4"/>
<circle cx="617.0" cy="53.0" r="4.4"/>
<circle cx="623.7" cy="53.0" r="4.4"/>
<circle cx="628.7" cy="56.7" r="4.4"/>
<circle cx="529.5" cy="88.0" r="4.4"/>
<circle cx="535.3" cy="80.8" r="4.4"/>
<circle cx="538.3" cy="88.7" r="4.4"/>
<circle cx="545.3" cy="80.8" r="4.4"/>
<circle cx="547.8" cy="98.7" r="4.4"/>
<circle cx="553.7" cy="93.7" r="4.4"/>
<circle cx="562.0" cy="91.7" r="4.4"/>
<circle cx="553.7" cy="85.0" r="4.4"/>
<circle cx="568.7" cy="98.7" r="4.4"/>
<circle cx="572.0" cy="104.7" r="4.4"/>
<circle cx="578.7" cy="97.5" r="4.4"/>
<circle cx="584.5" cy="97.5" r="4.4"/>
<circle cx="582.0" cy="90.0" r="4.4"/>
<circle cx="590.3" cy="90.0" r="4.4"/>
<circle cx="598.7" cy="85.0" r="4.4"/>
<circle cx="606.2" cy="89.2" r="4.4"/>
<circle cx="612.0" cy="84.2" r="4.4"/>
<circle cx="620.3" cy="97.5" r="4.4"/>
<circle cx="620.3" cy="81.7" r="4.4"/>
<circle cx="628.7" cy="83.3" r="4.4"/>
<circle cx="592.7" cy="62.5" r="4.4"/>
<circle cx="601.0" cy="62.5" r="4.4"/>
<circle cx="607.7" cy="57.5" r="4.4"/>
<circle cx="616.8" cy="53.0" r="4.4"/>
<circle cx="623.5" cy="53.0" r="4.4"/>
<circle cx="630.2" cy="58.0" r="4.4"/>
<circle cx="631.8" cy="62.5" r="4.4"/>
<circle cx="638.5" cy="68.3" r="4.4"/>
<circle cx="662.7" cy="52.5" r="4.4"/>
<circle cx="671.8" cy="74.2" r="4.4"/>
<circle cx="594.3" cy="86.7" r="4.4"/>
<circle cx="606.8" cy="89.2" r="4.4"/>
<circle cx="601.0" cy="83.3" r="4.4"/>
<circle cx="616.0" cy="84.2" r="4.4"/>
<circle cx="620.2" cy="97.5" r="4.4"/>
<circle cx="624.3" cy="83.3" r="4.4"/>
<circle cx="631.8" cy="84.2" r="4.4"/>
<circle cx="638.5" cy="79.2" r="4.4"/>
<circle cx="643.5" cy="75.8" r="4.4"/>
<circle cx="641.5" cy="94.7" r="4.4"/>
<circle cx="527.0" cy="65.2" r="4.4"/>
<circle cx="532.8" cy="71.0" r="4.4"/>
<circle cx="532.9" cy="74.1" r="4.4"/>
<circle cx="538.8" cy="63.9" r="4.4"/>
<circle cx="538.5" cy="71.0" r="4.4"/>
<circle cx="538.7" cy="72.2" r="4.4"/>
<circle cx="545.0" cy="68.4" r="4.4"/>
<circle cx="545.1" cy="79.7" r="4.4"/>
<circle cx="544.8" cy="67.7" r="4.4"/>
<circle cx="544.5" cy="64.7" r="4.4"/>
<circle cx="550.7" cy="77.8" r="4.4"/>
<circle cx="550.8" cy="63.3" r="4.4"/>
<circle cx="551.0" cy="72.2" r="4.4"/>
<circle cx="551.0" cy="62.3" r="4.4"/>
<circle cx="557.2" cy="70.6" r="4.4"/>
<circle cx="557.3" cy="68.2" r="4.4"/>
<circle cx="557.1" cy="84.3" r="4.4"/>
<circle cx="556.7" cy="66.1" r="4.4"/>
<circle cx="563.4" cy="82.8" r="4.4"/>
<circle cx="562.9" cy="84.8" r="4.4"/>
<circle cx="563.2" cy="79.8" r="4.4"/>
<circle cx="563.3" cy="81.9" r="4.4"/>
<circle cx="562.6" cy="78.6" r="4.4"/>
<circle cx="569.4" cy="89.3" r="4.4"/>
<circle cx="568.9" cy="73.6" r="4.4"/>
<circle cx="568.6" cy="89.5" r="4.4"/>
<circle cx="568.8" cy="82.7" r="4.4"/>
<circle cx="568.7" cy="61.6" r="4.4"/>
<circle cx="568.7" cy="84.2" r="4.4"/>
<circle cx="575.0" cy="85.9" r="4.4"/>
<circle cx="575.1" cy="68.3" r="4.4"/>
<circle cx="575.1" cy="65.1" r="4.4"/>
<circle cx="575.2" cy="62.2" r="4.4"/>
<circle cx="575.0" cy="90.2" r="4.4"/>
<circle cx="575.2" cy="70.3" r="4.4"/>
<circle cx="575.4" cy="76.7" r="4.4"/>
<circle cx="581.1" cy="92.9" r="4.4"/>
<circle cx="581.2" cy="88.3" r="4.4"/>
<circle cx="581.2" cy="78.9" r="4.4"/>
<circle cx="581.1" cy="83.7" r="4.4"/>
<circle cx="581.3" cy="70.9" r="4.4"/>
<circle cx="581.3" cy="64.7" r="4.4"/>
<circle cx="581.2" cy="81.4" r="4.4"/>
<circle cx="581.5" cy="77.2" r="4.4"/>
<circle cx="581.2" cy="76.4" r="4.4"/>
<circle cx="587.0" cy="91.1" r="4.4"/>
<circle cx="587.0" cy="66.1" r="4.4"/>
<circle cx="587.4" cy="69.1" r="4.4"/>
<circle cx="587.3" cy="78.8" r="4.4"/>
<circle cx="587.4" cy="72.1" r="4.4"/>
<circle cx="586.9" cy="84.9" r="4.4"/>
<circle cx="587.3" cy="81.5" r="4.4"/>
<circle cx="586.8" cy="89.5" r="4.4"/>
<circle cx="592.9" cy="83.1" r="4.4"/>
<circle cx="593.5" cy="66.3" r="4.4"/>
<circle cx="593.1" cy="88.8" r="4.4"/>
<circle cx="593.2" cy="75.7" r="4.4"/>
<circle cx="592.9" cy="80.4" r="4.4"/>
<circle cx="592.9" cy="82.3" r="4.4"/>
<circle cx="593.3" cy="71.1" r="4.4"/>
<circle cx="599.0" cy="69.8" r="4.4"/>
<circle cx="599.2" cy="68.7" r="4.4"/>
<circle cx="599.1" cy="81.4" r="4.4"/>
<circle cx="598.8" cy="78.4" r="4.4"/>
<circle cx="599.6" cy="71.5" r="4.4"/>
<circle cx="605.0" cy="66.1" r="4.4"/>
<circle cx="605.4" cy="72.2" r="4.4"/>
<circle cx="605.1" cy="65.1" r="4.4"/>
<circle cx="605.0" cy="71.7" r="4.4"/>
<circle cx="605.1" cy="83.8" r="4.4"/>
<circle cx="611.3" cy="60.7" r="4.4"/>
<circle cx="611.6" cy="76.4" r="4.4"/>
<circle cx="611.5" cy="69.5" r="4.4"/>
<circle cx="611.0" cy="70.2" r="4.4"/>
<circle cx="611.3" cy="66.4" r="4.4"/>
<circle cx="611.4" cy="83.1" r="4.4"/>
<circle cx="617.2" cy="72.2" r="4.4"/>
<circle cx="617.6" cy="73.8" r="4.4"/>
<circle cx="617.1" cy="82.2" r="4.4"/>
<circle cx="617.6" cy="75.8" r="4.4"/>
<circle cx="617.4" cy="70.0" r="4.4"/>
<circle cx="623.4" cy="56.5" r="4.4"/>
<circle cx="623.4" cy="68.1" r="4.4"/>
<circle cx="623.6" cy="58.5" r="4.4"/>
<circle cx="623.0" cy="75.0" r="4.4"/>
<circle cx="623.1" cy="74.6" r="4.4"/>
<circle cx="592.8" cy="75.3" r="4.4"/>
<circle cx="593.0" cy="65.6" r="4.4"/>
<circle cx="593.1" cy="73.6" r="4.4"/>
<circle cx="593.1" cy="66.2" r="4.4"/>
<circle cx="592.9" cy="63.8" r="4.4"/>
<circle cx="593.2" cy="71.4" r="4.4"/>
<circle cx="599.2" cy="83.3" r="4.4"/>
<circle cx="599.1" cy="76.5" r="4.4"/>
<circle cx="599.1" cy="62.5" r="4.4"/>
<circle cx="599.2" cy="76.4" r="4.4"/>
<circle cx="599.4" cy="64.8" r="4.4"/>
<circle cx="599.2" cy="80.0" r="4.4"/>
<circle cx="604.9" cy="68.2" r="4.4"/>
<circle cx="605.6" cy="62.6" r="4.4"/>
<circle cx="605.6" cy="76.0" r="4.4"/>
<circle cx="605.2" cy="73.4" r="4.4"/>
<circle cx="605.0" cy="64.3" r="4.4"/>
<circle cx="611.5" cy="74.5" r="4.4"/>
<circle cx="611.4" cy="66.0" r="4.4"/>
<circle cx="610.9" cy="68.5" r="4.4"/>
<circle cx="610.9" cy="81.5" r="4.4"/>
<circle cx="611.6" cy="74.4" r="4.4"/>
<circle cx="617.3" cy="57.1" r="4.4"/>
<circle cx="617.6" cy="72.0" r="4.4"/>
<circle cx="617.7" cy="59.2" r="4.4"/>
<circle cx="617.0" cy="59.5" r="4.4"/>
<circle cx="617.5" cy="70.6" r="4.4"/>
<circle cx="617.0" cy="55.7" r="4.4"/>
<circle cx="617.0" cy="69.0" r="4.4"/>
<circle cx="623.2" cy="69.5" r="4.4"/>
<circle cx="623.5" cy="76.3" r="4.4"/>
<circle cx="623.3" cy="69.4" r="4.4"/>
<circle cx="623.3" cy="57.8" r="4.4"/>
<circle cx="623.0" cy="62.2" r="4.4"/>
<circle cx="629.6" cy="79.6" r="4.4"/>
<circle cx="629.6" cy="79.3" r="4.4"/>
<circle cx="629.4" cy="66.7" r="4.4"/>
<circle cx="635.1" cy="66.8" r="4.4"/>
<circle cx="635.5" cy="73.2" r="4.4"/>
<circle cx="641.6" cy="74.9" r="4.4"/>
</g>
<line x1="513.7" y1="77.5" x2="709.3" y2="69.0" stroke="#000" stroke-width="1.85"/>
<path d="M513.7 26.9V122.0M513.7 122.0h-5.3M513.7 106.1h-5.3M513.7 90.2h-5.3M513.7 74.4h-5.3M513.7 58.6h-5.3M513.7 42.7h-5.3M513.7 26.9h-5.3M520.7 124.3H701.9M520.7 124.3v4.4M550.9 124.3v4.4M581.1 124.3v4.4M611.3 124.3v4.4M641.5 124.3v4.4M671.7 124.3v4.4M701.9 124.3v4.4" stroke="#000" stroke-width="1.4" fill="none" stroke-linecap="square"/>
<text class="y" x="503.7" y="126.0">−3</text>
<text class="y" x="503.7" y="110.1">−2</text>
<text class="y" x="503.7" y="94.2">−1</text>
<text class="y" x="503.7" y="78.4">0</text>
<text class="y" x="503.7" y="62.6">1</text>
<text class="y" x="503.7" y="46.7">2</text>
<text class="y" x="503.7" y="30.9">3</text>
<text class="a" x="520.7" y="141.6">1.0</text>
<text class="a" x="550.9" y="141.6">1.5</text>
<text class="a" x="581.1" y="141.6">2.0</text>
<text class="a" x="611.3" y="141.6">2.5</text>
<text class="a" x="641.5" y="141.6">3.0</text>
<text class="a" x="671.7" y="141.6">3.5</text>
<text class="a" x="701.9" y="141.6">4.0</text>
<text class="t" x="611.3" y="9.00">Study 3</text>
<text class="l" x="647.7" y="35.0">r = 0.13</text>
<text class="l" x="647.7" y="46.9">N = 210</text>
<text class="l" x="647.7" y="58.7">p = 0.06</text>
<clipPath id="c3"><rect x="20.9" y="182.0" width="196" height="103.0"/></clipPath>
<g fill="#d2d2d2" clip-path="url(#c3)">
<circle cx="28.0" cy="224.7" r="4.4"/>
<circle cx="35.0" cy="223.3" r="4.4"/>
<circle cx="40.8" cy="218.7" r="4.4"/>
<circle cx="50.8" cy="218.7" r="4.4"/>
<circle cx="60.8" cy="218.7" r="4.4"/>
<circle cx="64.2" cy="207.5" r="4.4"/>
<circle cx="73.3" cy="213.0" r="4.4"/>
<circle cx="79.2" cy="220.0" r="4.4"/>
<circle cx="91.7" cy="213.0" r="4.4"/>
<circle cx="100.0" cy="218.7" r="4.4"/>
<circle cx="110.0" cy="219.2" r="4.4"/>
<circle cx="117.5" cy="218.3" r="4.4"/>
<circle cx="126.7" cy="223.3" r="4.4"/>
<circle cx="135.0" cy="218.3" r="4.4"/>
<circle cx="30.8" cy="240.8" r="4.4"/>
<circle cx="30.8" cy="247.5" r="4.4"/>
<circle cx="40.0" cy="246.7" r="4.4"/>
<circle cx="51.7" cy="246.7" r="4.4"/>
<circle cx="60.8" cy="246.7" r="4.4"/>
<circle cx="70.0" cy="251.7" r="4.4"/>
<circle cx="73.3" cy="257.5" r="4.4"/>
<circle cx="81.7" cy="254.2" r="4.4"/>
<circle cx="91.7" cy="257.5" r="4.4"/>
<circle cx="95.0" cy="251.7" r="4.4"/>
<circle cx="103.3" cy="246.7" r="4.4"/>
<circle cx="115.8" cy="253.3" r="4.4"/>
<circle cx="124.7" cy="260.0" r="4.4"/>
<circle cx="128.3" cy="247.5" r="4.4"/>
<circle cx="135.0" cy="241.7" r="4.4"/>
<circle cx="121.3" cy="223.3" r="4.4"/>
<circle cx="128.0" cy="223.3" r="4.4"/>
<circle cx="134.7" cy="218.0" r="4.4"/>
<circle cx="143.0" cy="213.0" r="4.4"/>
<circle cx="150.5" cy="224.2" r="4.4"/>
<circle cx="153.8" cy="230.0" r="4.4"/>
<circle cx="158.8" cy="219.2" r="4.4"/>
<circle cx="176.0" cy="229.7" r="4.4"/>
<circle cx="171.0" cy="235.0" r="4.4"/>
<circle cx="121.3" cy="253.3" r="4.4"/>
<circle cx="125.0" cy="259.7" r="4.4"/>
<circle cx="128.0" cy="247.5" r="4.4"/>
<circle cx="134.7" cy="240.0" r="4.4"/>
<circle cx="151.3" cy="240.3" r="4.4"/>
<circle cx="158.0" cy="247.5" r="4.4"/>
<circle cx="166.8" cy="246.7" r="4.4"/>
<circle cx="206.3" cy="252.0" r="4.4"/>
<circle cx="209.3" cy="253.7" r="4.4"/>
<circle cx="209.2" cy="281.2" r="4.4"/>
<circle cx="28.2" cy="225.9" r="4.4"/>
<circle cx="28.2" cy="226.7" r="4.4"/>
<circle cx="28.0" cy="226.3" r="4.4"/>
<circle cx="34.3" cy="246.7" r="4.4"/>
<circle cx="34.6" cy="239.8" r="4.4"/>
<circle cx="34.0" cy="241.0" r="4.4"/>
<circle cx="34.5" cy="230.0" r="4.4"/>
<circle cx="34.4" cy="246.2" r="4.4"/>
<circle cx="34.3" cy="241.7" r="4.4"/>
<circle cx="40.3" cy="245.1" r="4.4"/>
<circle cx="40.2" cy="243.1" r="4.4"/>
<circle cx="40.7" cy="224.3" r="4.4"/>
<circle cx="40.6" cy="224.6" r="4.4"/>
<circle cx="40.4" cy="223.3" r="4.4"/>
<circle cx="40.3" cy="233.7" r="4.4"/>
<circle cx="40.6" cy="239.0" r="4.4"/>
<circle cx="40.0" cy="241.9" r="4.4"/>
<circle cx="46.2" cy="222.4" r="4.4"/>
<circle cx="46.8" cy="231.8" r="4.4"/>
<circle cx="46.1" cy="238.2" r="4.4"/>
<circle cx="46.5" cy="245.0" r="4.4"/>
<circle cx="46.6" cy="232.7" r="4.4"/>
<circle cx="46.2" cy="244.5" r="4.4"/>
<circle cx="46.1" cy="226.0" r="4.4"/>
<circle cx="52.3" cy="228.6" r="4.4"/>
<circle cx="52.2" cy="229.3" r="4.4"/>
<circle cx="52.6" cy="231.5" r="4.4"/>
<circle cx="52.7" cy="235.5" r="4.4"/>
<circle cx="52.8" cy="229.6" r="4.4"/>
<circle cx="52.8" cy="243.7" r="4.4"/>
<circle cx="52.6" cy="235.7" r="4.4"/>
<circle cx="52.4" cy="232.7" r="4.4"/>
<circle cx="58.3" cy="242.0" r="4.4"/>
<circle cx="58.2" cy="238.3" r="4.4"/>
<circle cx="58.7" cy="235.1" r="4.4"/>
<circle cx="58.1" cy="228.9" r="4.4"/>
<circle cx="58.8" cy="242.0" r="4.4"/>
<circle cx="58.1" cy="228.1" r="4.4"/>
<circle cx="58.1" cy="238.5" r="4.4"/>
<circle cx="58.2" cy="243.2" r="4.4"/>
<circle cx="64.5" cy="241.0" r="4.4"/>
<circle cx="64.7" cy="235.1" r="4.4"/>
<circle cx="64.4" cy="226.7" r="4.4"/>
<circle cx="64.1" cy="236.4" r="4.4"/>
<circle cx="64.8" cy="227.5" r="4.4"/>
<circle cx="64.8" cy="239.3" r="4.4"/>
<circle cx="64.3" cy="232.3" r="4.4"/>
<circle cx="64.3" cy="235.2" r="4.4"/>
<circle cx="64.8" cy="237.4" r="4.4"/>
<circle cx="70.5" cy="223.2" r="4.4"/>
<circle cx="70.9" cy="243.6" r="4.4"/>
<circle cx="70.7" cy="249.8" r="4.4"/>
<circle cx="70.5" cy="240.3" r="4.4"/>
<circle cx="70.8" cy="242.1" r="4.4"/>
<circle cx="70.8" cy="239.8" r="4.4"/>
<circle cx="70.7" cy="244.8" r="4.4"/>
<circle cx="70.8" cy="230.6" r="4.4"/>
<circle cx="70.6" cy="222.0" r="4.4"/>
<circle cx="70.3" cy="225.4" r="4.4"/>
<circle cx="76.6" cy="247.6" r="4.4"/>
<circle cx="76.2" cy="231.3" r="4.4"/>
<circle cx="76.9" cy="240.3" r="4.4"/>
<circle cx="76.7" cy="231.8" r="4.4"/>
<circle cx="76.7" cy="242.0" r="4.4"/>
<circle cx="76.6" cy="238.0" r="4.4"/>
<circle cx="76.3" cy="234.8" r="4.4"/>
<circle cx="76.2" cy="236.0" r="4.4"/>
<circle cx="76.8" cy="239.5" r="4.4"/>
<circle cx="82.9" cy="231.4" r="4.4"/>
<circle cx="82.5" cy="240.6" r="4.4"/>
<circle cx="82.6" cy="222.8" r="4.4"/>
<circle cx="82.2" cy="232.8" r="4.4"/>
<circle cx="82.7" cy="235.0" r="4.4"/>
<circle cx="82.7" cy="237.1" r="4.4"/>
<circle cx="82.8" cy="242.5" r="4.4"/>
<circle cx="82.6" cy="243.9" r="4.4"/>
<circle cx="82.9" cy="236.9" r="4.4"/>
<circle cx="88.4" cy="237.8" r="4.4"/>
<circle cx="88.6" cy="225.6" r="4.4"/>
<circle cx="88.3" cy="240.5" r="4.4"/>
<circle cx="88.7" cy="234.3" r="4.4"/>
<circle cx="88.6" cy="245.9" r="4.4"/>
<circle cx="88.9" cy="226.2" r="4.4"/>
<circle cx="89.0" cy="236.1" r="4.4"/>
<circle cx="88.4" cy="231.1" r="4.4"/>
<circle cx="88.6" cy="228.3" r="4.4"/>
<circle cx="94.7" cy="223.0" r="4.4"/>
<circle cx="94.7" cy="249.6" r="4.4"/>
<circle cx="94.7" cy="224.8" r="4.4"/>
<circle cx="95.0" cy="235.8" r="4.4"/>
<circle cx="94.5" cy="235.1" r="4.4"/>
<circle cx="94.7" cy="234.2" r="4.4"/>
<circle cx="94.7" cy="237.0" r="4.4"/>
<circle cx="95.0" cy="243.2" r="4.4"/>
<circle cx="94.6" cy="239.4" r="4.4"/>
<circle cx="94.8" cy="239.0" r="4.4"/>
<circle cx="101.1" cy="247.0" r="4.4"/>
<circle cx="100.6" cy="228.7" r="4.4"/>
<circle cx="100.8" cy="249.7" r="4.4"/>
<circle cx="100.9" cy="229.5" r="4.4"/>
<circle cx="100.6" cy="238.0" r="4.4"/>
<circle cx="100.4" cy="232.3" r="4.4"/>
<circle cx="100.4" cy="230.3" r="4.4"/>
<circle cx="101.1" cy="238.3" r="4.4"/>
<circle cx="106.9" cy="228.9" r="4.4"/>
<circle cx="107.1" cy="246.1" r="4.4"/>
<circle cx="106.5" cy="242.7" r="4.4"/>
<circle cx="106.6" cy="229.8" r="4.4"/>
<circle cx="106.4" cy="227.1" r="4.4"/>
<circle cx="107.0" cy="239.6" r="4.4"/>
<circle cx="107.1" cy="242.8" r="4.4"/>
<circle cx="106.8" cy="244.6" r="4.4"/>
<circle cx="106.8" cy="249.3" r="4.4"/>
<circle cx="113.0" cy="249.3" r="4.4"/>
<circle cx="113.0" cy="248.0" r="4.4"/>
<circle cx="112.7" cy="227.0" r="4.4"/>
<circle cx="113.0" cy="220.9" r="4.4"/>
<circle cx="112.7" cy="232.9" r="4.4"/>
<circle cx="112.9" cy="244.4" r="4.4"/>
<circle cx="112.7" cy="235.5" r="4.4"/>
<circle cx="112.6" cy="249.3" r="4.4"/>
<circle cx="118.8" cy="221.3" r="4.4"/>
<circle cx="118.7" cy="229.9" r="4.4"/>
<circle cx="118.6" cy="230.6" r="4.4"/>
<circle cx="119.2" cy="248.8" r="4.4"/>
<circle cx="118.7" cy="249.8" r="4.4"/>
<circle cx="118.5" cy="227.9" r="4.4"/>
<circle cx="119.2" cy="235.2" r="4.4"/>
<circle cx="119.2" cy="244.0" r="4.4"/>
<circle cx="118.6" cy="236.8" r="4.4"/>
<circle cx="124.9" cy="246.1" r="4.4"/>
<circle cx="125.0" cy="228.4" r="4.4"/>
<circle cx="124.7" cy="226.4" r="4.4"/>
<circle cx="124.6" cy="228.1" r="4.4"/>
<circle cx="124.5" cy="233.5" r="4.4"/>
<circle cx="124.5" cy="232.2" r="4.4"/>
<circle cx="125.3" cy="239.5" r="4.4"/>
<circle cx="125.1" cy="228.9" r="4.4"/>
<circle cx="131.0" cy="244.2" r="4.4"/>
<circle cx="131.1" cy="222.3" r="4.4"/>
<circle cx="130.9" cy="230.9" r="4.4"/>
<circle cx="130.9" cy="243.6" r="4.4"/>
<circle cx="131.2" cy="238.3" r="4.4"/>
<circle cx="119.1" cy="238.8" r="4.4"/>
<circle cx="118.8" cy="230.9" r="4.4"/>
<circle cx="118.5" cy="245.6" r="4.4"/>
<circle cx="119.2" cy="237.6" r="4.4"/>
<circle cx="118.6" cy="234.5" r="4.4"/>
<circle cx="119.1" cy="247.8" r="4.4"/>
<circle cx="118.8" cy="237.6" r="4.4"/>
<circle cx="124.9" cy="223.5" r="4.4"/>
<circle cx="125.2" cy="228.2" r="4.4"/>
<circle cx="124.6" cy="241.6" r="4.4"/>
<circle cx="125.0" cy="222.5" r="4.4"/>
<circle cx="125.0" cy="242.2" r="4.4"/>
<circle cx="125.2" cy="229.9" r="4.4"/>
<circle cx="125.0" cy="232.2" r="4.4"/>
<circle cx="130.8" cy="230.6" r="4.4"/>
<circle cx="130.8" cy="242.4" r="4.4"/>
<circle cx="131.2" cy="224.2" r="4.4"/>
<circle cx="131.1" cy="242.2" r="4.4"/>
<circle cx="131.0" cy="223.1" r="4.4"/>
<circle cx="130.8" cy="227.5" r="4.4"/>
<circle cx="136.8" cy="227.4" r="4.4"/>
<circle cx="137.2" cy="231.2" r="4.4"/>
<circle cx="137.3" cy="233.1" r="4.4"/>
<circle cx="137.4" cy="229.1" r="4.4"/>
<circle cx="137.2" cy="226.7" r="4.4"/>
<circle cx="143.0" cy="224.7" r="4.4"/>
<circle cx="143.2" cy="230.2" r="4.4"/>
<circle cx="142.6" cy="230.2" r="4.4"/>
<circle cx="142.9" cy="227.4" r="4.4"/>
<circle cx="148.9" cy="232.4" r="4.4"/>
<circle cx="148.7" cy="225.8" r="4.4"/>
</g>
<line x1="20.9" y1="232.8" x2="216.5" y2="237.2" stroke="#000" stroke-width="1.85"/>
<path d="M20.9 187.2V282.2M20.9 282.2h-5.3M20.9 266.4h-5.3M20.9 250.6h-5.3M20.9 234.7h-5.3M20.9 218.9h-5.3M20.9 203.0h-5.3M20.9 187.2h-5.3M28.2 284.4H209.4M28.2 284.4v4.4M58.5 284.4v4.4M88.7 284.4v4.4M118.8 284.4v4.4M149.1 284.4v4.4M179.2 284.4v4.4M209.4 284.4v4.4" stroke="#000" stroke-width="1.4" fill="none" stroke-linecap="square"/>
<text class="y" x="10.9" y="286.2">−3</text>
<text class="y" x="10.9" y="270.4">−2</text>
<text class="y" x="10.9" y="254.6">−1</text>
<text class="y" x="10.9" y="238.7">0</text>
<text class="y" x="10.9" y="222.9">1</text>
<text class="y" x="10.9" y="207.0">2</text>
<text class="y" x="10.9" y="191.2">3</text>
<text class="a" x="28.2" y="301.6">1.0</text>
<text class="a" x="58.5" y="301.6">1.5</text>
<text class="a" x="88.7" y="301.6">2.0</text>
<text class="a" x="118.8" y="301.6">2.5</text>
<text class="a" x="149.1" y="301.6">3.0</text>
<text class="a" x="179.2" y="301.6">3.5</text>
<text class="a" x="209.4" y="301.6">4.0</text>
<text class="t" x="118.0" y="168.85">Study 4</text>
<text class="l" x="155.4" y="195.0">r = −0.10</text>
<text class="l" x="155.4" y="206.9">N = 228</text>
<text class="l" x="155.4" y="218.7">p = 0.15</text>
<clipPath id="c4"><rect x="267.0" y="182.0" width="196" height="103.0"/></clipPath>
<g fill="#d2d2d2" clip-path="url(#c4)">
<circle cx="274.0" cy="216.7" r="4.4"/>
<circle cx="274.0" cy="223.3" r="4.4"/>
<circle cx="286.0" cy="220.0" r="4.4"/>
<circle cx="292.3" cy="211.7" r="4.4"/>
<circle cx="298.5" cy="217.5" r="4.4"/>
<circle cx="306.0" cy="222.5" r="4.4"/>
<circle cx="311.0" cy="221.7" r="4.4"/>
<circle cx="316.5" cy="213.7" r="4.4"/>
<circle cx="322.7" cy="219.7" r="4.4"/>
<circle cx="334.7" cy="206.7" r="4.4"/>
<circle cx="334.7" cy="212.0" r="4.4"/>
<circle cx="334.7" cy="218.3" r="4.4"/>
<circle cx="344.3" cy="223.3" r="4.4"/>
<circle cx="354.3" cy="223.7" r="4.4"/>
<circle cx="365.2" cy="217.5" r="4.4"/>
<circle cx="371.0" cy="216.7" r="4.4"/>
<circle cx="376.0" cy="225.0" r="4.4"/>
<circle cx="382.7" cy="205.0" r="4.4"/>
<circle cx="382.7" cy="218.3" r="4.4"/>
<circle cx="274.0" cy="253.3" r="4.4"/>
<circle cx="280.2" cy="253.3" r="4.4"/>
<circle cx="291.0" cy="247.5" r="4.4"/>
<circle cx="298.5" cy="254.2" r="4.4"/>
<circle cx="310.2" cy="259.2" r="4.4"/>
<circle cx="316.0" cy="248.3" r="4.4"/>
<circle cx="328.5" cy="248.3" r="4.4"/>
<circle cx="335.2" cy="249.2" r="4.4"/>
<circle cx="346.8" cy="252.5" r="4.4"/>
<circle cx="356.0" cy="250.0" r="4.4"/>
<circle cx="359.3" cy="260.0" r="4.4"/>
<circle cx="364.3" cy="253.3" r="4.4"/>
<circle cx="364.7" cy="265.8" r="4.4"/>
<circle cx="371.0" cy="247.5" r="4.4"/>
<circle cx="377.3" cy="248.3" r="4.4"/>
<circle cx="377.3" cy="273.3" r="4.4"/>
<circle cx="365.7" cy="216.7" r="4.4"/>
<circle cx="371.5" cy="216.7" r="4.4"/>
<circle cx="376.5" cy="225.0" r="4.4"/>
<circle cx="383.2" cy="205.0" r="4.4"/>
<circle cx="383.2" cy="218.3" r="4.4"/>
<circle cx="389.0" cy="218.3" r="4.4"/>
<circle cx="394.8" cy="209.7" r="4.4"/>
<circle cx="399.8" cy="218.3" r="4.4"/>
<circle cx="407.3" cy="225.0" r="4.4"/>
<circle cx="419.0" cy="226.7" r="4.4"/>
<circle cx="431.5" cy="225.0" r="4.4"/>
<circle cx="437.3" cy="225.8" r="4.4"/>
<circle cx="449.0" cy="216.7" r="4.4"/>
<circle cx="455.3" cy="213.7" r="4.4"/>
<circle cx="455.3" cy="200.0" r="4.4"/>
<circle cx="455.3" cy="235.0" r="4.4"/>
<circle cx="365.7" cy="253.3" r="4.4"/>
<circle cx="365.7" cy="265.8" r="4.4"/>
<circle cx="376.5" cy="246.7" r="4.4"/>
<circle cx="377.3" cy="273.3" r="4.4"/>
<circle cx="389.0" cy="254.2" r="4.4"/>
<circle cx="389.0" cy="247.5" r="4.4"/>
<circle cx="401.5" cy="252.5" r="4.4"/>
<circle cx="407.0" cy="263.0" r="4.4"/>
<circle cx="412.3" cy="248.3" r="4.4"/>
<circle cx="419.0" cy="254.2" r="4.4"/>
<circle cx="424.8" cy="246.7" r="4.4"/>
<circle cx="430.7" cy="240.8" r="4.4"/>
<circle cx="437.3" cy="245.0" r="4.4"/>
<circle cx="455.3" cy="259.2" r="4.4"/>
<circle cx="286.5" cy="286.0" r="4.4"/>
<circle cx="274.5" cy="230.5" r="4.4"/>
<circle cx="274.6" cy="248.4" r="4.4"/>
<circle cx="274.3" cy="238.8" r="4.4"/>
<circle cx="274.2" cy="240.9" r="4.4"/>
<circle cx="274.0" cy="233.6" r="4.4"/>
<circle cx="273.8" cy="232.9" r="4.4"/>
<circle cx="274.5" cy="238.4" r="4.4"/>
<circle cx="274.4" cy="245.1" r="4.4"/>
<circle cx="273.9" cy="246.9" r="4.4"/>
<circle cx="273.8" cy="232.5" r="4.4"/>
<circle cx="280.2" cy="223.4" r="4.4"/>
<circle cx="280.5" cy="232.3" r="4.4"/>
<circle cx="280.3" cy="229.5" r="4.4"/>
<circle cx="280.6" cy="232.9" r="4.4"/>
<circle cx="280.4" cy="229.6" r="4.4"/>
<circle cx="280.1" cy="231.4" r="4.4"/>
<circle cx="280.0" cy="231.9" r="4.4"/>
<circle cx="279.9" cy="240.8" r="4.4"/>
<circle cx="279.8" cy="231.5" r="4.4"/>
<circle cx="280.1" cy="231.8" r="4.4"/>
<circle cx="280.5" cy="227.4" r="4.4"/>
<circle cx="286.3" cy="223.7" r="4.4"/>
<circle cx="285.9" cy="245.1" r="4.4"/>
<circle cx="285.9" cy="235.3" r="4.4"/>
<circle cx="286.3" cy="237.7" r="4.4"/>
<circle cx="285.9" cy="225.8" r="4.4"/>
<circle cx="286.6" cy="241.6" r="4.4"/>
<circle cx="286.0" cy="237.2" r="4.4"/>
<circle cx="286.6" cy="236.2" r="4.4"/>
<circle cx="286.3" cy="230.0" r="4.4"/>
<circle cx="286.5" cy="243.3" r="4.4"/>
<circle cx="286.5" cy="246.1" r="4.4"/>
<circle cx="286.6" cy="237.1" r="4.4"/>
<circle cx="286.0" cy="233.2" r="4.4"/>
<circle cx="292.3" cy="224.8" r="4.4"/>
<circle cx="292.3" cy="245.2" r="4.4"/>
<circle cx="292.2" cy="226.7" r="4.4"/>
<circle cx="292.1" cy="232.6" r="4.4"/>
<circle cx="292.5" cy="240.0" r="4.4"/>
<circle cx="292.7" cy="237.7" r="4.4"/>
<circle cx="292.7" cy="236.7" r="4.4"/>
<circle cx="292.3" cy="237.7" r="4.4"/>
<circle cx="292.4" cy="228.9" r="4.4"/>
<circle cx="292.6" cy="239.1" r="4.4"/>
<circle cx="292.0" cy="225.0" r="4.4"/>
<circle cx="292.7" cy="237.9" r="4.4"/>
<circle cx="292.6" cy="246.4" r="4.4"/>
<circle cx="292.0" cy="237.4" r="4.4"/>
<circle cx="298.4" cy="245.5" r="4.4"/>
<circle cx="298.1" cy="243.4" r="4.4"/>
<circle cx="298.6" cy="241.7" r="4.4"/>
<circle cx="298.8" cy="232.0" r="4.4"/>
<circle cx="298.6" cy="245.6" r="4.4"/>
<circle cx="298.4" cy="245.9" r="4.4"/>
<circle cx="298.5" cy="233.4" r="4.4"/>
<circle cx="298.3" cy="226.9" r="4.4"/>
<circle cx="298.1" cy="236.1" r="4.4"/>
<circle cx="298.4" cy="231.6" r="4.4"/>
<circle cx="298.2" cy="232.8" r="4.4"/>
<circle cx="298.6" cy="238.7" r="4.4"/>
<circle cx="298.6" cy="241.4" r="4.4"/>
<circle cx="298.6" cy="228.1" r="4.4"/>
<circle cx="304.4" cy="224.6" r="4.4"/>
<circle cx="304.4" cy="245.7" r="4.4"/>
<circle cx="304.6" cy="232.9" r="4.4"/>
<circle cx="304.6" cy="246.3" r="4.4"/>
<circle cx="304.5" cy="228.6" r="4.4"/>
<circle cx="304.4" cy="233.8" r="4.4"/>
<circle cx="304.2" cy="234.3" r="4.4"/>
<circle cx="304.7" cy="229.8" r="4.4"/>
<circle cx="304.5" cy="225.3" r="4.4"/>
<circle cx="304.5" cy="237.8" r="4.4"/>
<circle cx="304.6" cy="226.3" r="4.4"/>
<circle cx="304.7" cy="239.4" r="4.4"/>
<circle cx="304.7" cy="226.9" r="4.4"/>
<circle cx="304.8" cy="224.8" r="4.4"/>
<circle cx="304.1" cy="223.0" r="4.4"/>
<circle cx="304.7" cy="233.7" r="4.4"/>
<circle cx="310.4" cy="224.4" r="4.4"/>
<circle cx="310.7" cy="234.4" r="4.4"/>
<circle cx="310.5" cy="229.1" r="4.4"/>
<circle cx="310.5" cy="229.9" r="4.4"/>
<circle cx="310.7" cy="226.2" r="4.4"/>
<circle cx="310.1" cy="224.8" r="4.4"/>
<circle cx="310.2" cy="223.1" r="4.4"/>
<circle cx="310.2" cy="240.3" r="4.4"/>
<circle cx="310.1" cy="229.6" r="4.4"/>
<circle cx="310.1" cy="228.1" r="4.4"/>
<circle cx="310.1" cy="236.4" r="4.4"/>
<circle cx="310.2" cy="232.5" r="4.4"/>
<circle cx="310.1" cy="240.8" r="4.4"/>
<circle cx="310.5" cy="225.6" r="4.4"/>
<circle cx="310.5" cy="237.2" r="4.4"/>
<circle cx="316.5" cy="246.5" r="4.4"/>
<circle cx="316.2" cy="233.3" r="4.4"/>
<circle cx="316.7" cy="245.1" r="4.4"/>
<circle cx="316.6" cy="233.3" r="4.4"/>
<circle cx="316.2" cy="237.0" r="4.4"/>
<circle cx="316.5" cy="226.5" r="4.4"/>
<circle cx="316.8" cy="232.6" r="4.4"/>
<circle cx="316.7" cy="239.4" r="4.4"/>
<circle cx="316.6" cy="225.8" r="4.4"/>
<circle cx="316.6" cy="231.4" r="4.4"/>
<circle cx="316.5" cy="239.1" r="4.4"/>
<circle cx="316.6" cy="228.2" r="4.4"/>
<circle cx="316.5" cy="239.9" r="4.4"/>
<circle cx="316.6" cy="235.2" r="4.4"/>
<circle cx="316.8" cy="244.0" r="4.4"/>
<circle cx="316.4" cy="245.9" r="4.4"/>
<circle cx="316.3" cy="228.7" r="4.4"/>
<circle cx="322.5" cy="225.2" r="4.4"/>
<circle cx="322.6" cy="238.2" r="4.4"/>
<circle cx="322.5" cy="233.5" r="4.4"/>
<circle cx="322.9" cy="227.7" r="4.4"/>
<circle cx="322.5" cy="239.6" r="4.4"/>
<circle cx="322.2" cy="232.7" r="4.4"/>
<circle cx="322.6" cy="246.2" r="4.4"/>
<circle cx="322.7" cy="227.5" r="4.4"/>
<circle cx="322.8" cy="238.1" r="4.4"/>
<circle cx="322.3" cy="247.4" r="4.4"/>
<circle cx="322.9" cy="236.2" r="4.4"/>
<circle cx="322.3" cy="236.7" r="4.4"/>
<circle cx="322.2" cy="227.9" r="4.4"/>
<circle cx="322.6" cy="243.5" r="4.4"/>
<circle cx="322.5" cy="234.6" r="4.4"/>
<circle cx="322.7" cy="226.9" r="4.4"/>
<circle cx="328.6" cy="246.4" r="4.4"/>
<circle cx="328.4" cy="224.6" r="4.4"/>
<circle cx="328.5" cy="231.8" r="4.4"/>
<circle cx="328.4" cy="247.0" r="4.4"/>
<circle cx="328.2" cy="234.9" r="4.4"/>
<circle cx="328.9" cy="235.1" r="4.4"/>
<circle cx="328.9" cy="246.3" r="4.4"/>
<circle cx="328.8" cy="233.7" r="4.4"/>
<circle cx="328.5" cy="234.8" r="4.4"/>
<circle cx="328.7" cy="228.2" r="4.4"/>
<circle cx="328.5" cy="237.8" r="4.4"/>
<circle cx="328.3" cy="247.5" r="4.4"/>
<circle cx="328.2" cy="229.9" r="4.4"/>
<circle cx="328.5" cy="243.2" r="4.4"/>
<circle cx="328.9" cy="231.4" r="4.4"/>
<circle cx="328.6" cy="242.4" r="4.4"/>
<circle cx="328.6" cy="244.2" r="4.4"/>
<circle cx="328.6" cy="232.5" r="4.4"/>
<circle cx="334.6" cy="223.5" r="4.4"/>
<circle cx="334.8" cy="240.4" r="4.4"/>
<circle cx="334.8" cy="234.2" r="4.4"/>
<circle cx="335.0" cy="233.5" r="4.4"/>
<circle cx="334.2" cy="235.2" r="4.4"/>
<circle cx="334.7" cy="239.2" r="4.4"/>
<circle cx="335.0" cy="229.5" r="4.4"/>
<circle cx="334.4" cy="234.1" r="4.4"/>
<circle cx="334.9" cy="230.2" r="4.4"/>
<circle cx="334.5" cy="243.5" r="4.4"/>
<circle cx="334.3" cy="246.5" r="4.4"/>
<circle cx="334.3" cy="233.3" r="4.4"/>
<circle cx="334.5" cy="233.3" r="4.4"/>
<circle cx="334.7" cy="238.5" r="4.4"/>
<circle cx="334.8" cy="236.9" r="4.4"/>
<circle cx="334.5" cy="239.3" r="4.4"/>
<circle cx="334.5" cy="231.7" r="4.4"/>
<circle cx="335.0" cy="226.0" r="4.4"/>
<circle cx="340.6" cy="224.7" r="4.4"/>
<circle cx="340.6" cy="246.4" r="4.4"/>
<circle cx="340.6" cy="228.7" r="4.4"/>
<circle cx="340.7" cy="246.3" r="4.4"/>
<circle cx="340.5" cy="228.7" r="4.4"/>
<circle cx="340.8" cy="228.2" r="4.4"/>
<circle cx="340.7" cy="233.0" r="4.4"/>
<circle cx="340.5" cy="240.4" r="4.4"/>
<circle cx="340.8" cy="240.9" r="4.4"/>
<circle cx="340.8" cy="242.3" r="4.4"/>
<circle cx="340.3" cy="243.1" r="4.4"/>
<circle cx="340.4" cy="245.0" r="4.4"/>
<circle cx="340.9" cy="245.0" r="4.4"/>
<circle cx="340.9" cy="226.7" r="4.4"/>
<circle cx="340.3" cy="236.6" r="4.4"/>
<circle cx="340.4" cy="235.0" r="4.4"/>
<circle cx="341.0" cy="232.2" r="4.4"/>
<circle cx="340.3" cy="232.5" r="4.4"/>
<circle cx="341.0" cy="229.0" r="4.4"/>
<circle cx="346.7" cy="246.6" r="4.4"/>
<circle cx="346.5" cy="231.1" r="4.4"/>
<circle cx="346.8" cy="241.4" r="4.4"/>
<circle cx="346.4" cy="229.8" r="4.4"/>
<circle cx="346.9" cy="243.7" r="4.4"/>
<circle cx="346.6" cy="224.7" r="4.4"/>
<circle cx="346.8" cy="242.8" r="4.4"/>
<circle cx="346.7" cy="225.8" r="4.4"/>
<circle cx="346.4" cy="235.0" r="4.4"/>
<circle cx="346.3" cy="225.5" r="4.4"/>
<circle cx="347.0" cy="236.4" r="4.4"/>
<circle cx="346.7" cy="238.3" r="4.4"/>
<circle cx="346.7" cy="235.6" r="4.4"/>
<circle cx="347.0" cy="235.3" r="4.4"/>
<circle cx="346.7" cy="227.8" r="4.4"/>
<circle cx="346.4" cy="228.3" r="4.4"/>
<circle cx="346.6" cy="238.9" r="4.4"/>
<circle cx="346.6" cy="240.5" r="4.4"/>
<circle cx="352.7" cy="223.7" r="4.4"/>
<circle cx="352.7" cy="247.9" r="4.4"/>
<circle cx="352.7" cy="234.0" r="4.4"/>
<circle cx="352.3" cy="242.8" r="4.4"/>
<circle cx="353.1" cy="244.3" r="4.4"/>
<circle cx="352.9" cy="231.3" r="4.4"/>
<circle cx="353.1" cy="230.4" r="4.4"/>
<circle cx="352.4" cy="225.6" r="4.4"/>
<circle cx="352.9" cy="231.6" r="4.4"/>
<circle cx="352.9" cy="228.4" r="4.4"/>
<circle cx="352.3" cy="239.2" r="4.4"/>
<circle cx="352.5" cy="241.4" r="4.4"/>
<circle cx="353.1" cy="244.7" r="4.4"/>
<circle cx="352.6" cy="240.5" r="4.4"/>
<circle cx="352.5" cy="231.4" r="4.4"/>
<circle cx="352.9" cy="246.1" r="4.4"/>
<circle cx="352.5" cy="234.5" r="4.4"/>
<circle cx="352.9" cy="229.8" r="4.4"/>
<circle cx="352.7" cy="230.4" r="4.4"/>
<circle cx="358.8" cy="223.3" r="4.4"/>
<circle cx="358.8" cy="233.0" r="4.4"/>
<circle cx="359.2" cy="237.2" r="4.4"/>
<circle cx="358.4" cy="226.4" r="4.4"/>
<circle cx="358.4" cy="234.5" r="4.4"/>
<circle cx="359.1" cy="244.9" r="4.4"/>
<circle cx="358.4" cy="228.7" r="4.4"/>
<circle cx="358.7" cy="235.7" r="4.4"/>
<circle cx="358.4" cy="238.8" r="4.4"/>
<circle cx="358.6" cy="235.2" r="4.4"/>
<circle cx="358.4" cy="245.8" r="4.4"/>
<circle cx="358.5" cy="241.8" r="4.4"/>
<circle cx="358.8" cy="225.5" r="4.4"/>
<circle cx="358.4" cy="235.0" r="4.4"/>
<circle cx="358.8" cy="233.7" r="4.4"/>
<circle cx="359.1" cy="240.0" r="4.4"/>
<circle cx="358.5" cy="224.2" r="4.4"/>
<circle cx="364.8" cy="224.4" r="4.4"/>
<circle cx="364.8" cy="246.4" r="4.4"/>
<circle cx="365.1" cy="224.3" r="4.4"/>
<circle cx="364.6" cy="224.3" r="4.4"/>
<circle cx="364.6" cy="241.0" r="4.4"/>
<circle cx="364.5" cy="241.5" r="4.4"/>
<circle cx="365.0" cy="240.8" r="4.4"/>
<circle cx="364.5" cy="238.8" r="4.4"/>
<circle cx="364.5" cy="227.7" r="4.4"/>
<circle cx="364.7" cy="235.4" r="4.4"/>
<circle cx="364.9" cy="239.3" r="4.4"/>
<circle cx="365.0" cy="235.4" r="4.4"/>
<circle cx="364.4" cy="238.7" r="4.4"/>
<circle cx="364.7" cy="237.7" r="4.4"/>
<circle cx="364.5" cy="242.8" r="4.4"/>
<circle cx="365.0" cy="227.9" r="4.4"/>
<circle cx="364.8" cy="239.3" r="4.4"/>
<circle cx="365.0" cy="246.5" r="4.4"/>
<circle cx="364.9" cy="226.7" r="4.4"/>
<circle cx="370.8" cy="244.3" r="4.4"/>
<circle cx="370.7" cy="233.0" r="4.4"/>
<circle cx="370.5" cy="238.5" r="4.4"/>
<circle cx="370.5" cy="226.4" r="4.4"/>
<circle cx="371.0" cy="238.5" r="4.4"/>
<circle cx="370.7" cy="241.4" r="4.4"/>
<circle cx="370.9" cy="241.2" r="4.4"/>
<circle cx="370.5" cy="237.9" r="4.4"/>
<circle cx="370.7" cy="235.5" r="4.4"/>
<circle cx="370.8" cy="229.8" r="4.4"/>
<circle cx="370.7" cy="230.6" r="4.4"/>
<circle cx="370.9" cy="234.2" r="4.4"/>
<circle cx="371.1" cy="236.3" r="4.4"/>
<circle cx="370.9" cy="234.3" r="4.4"/>
<circle cx="370.6" cy="230.8" r="4.4"/>
<circle cx="371.2" cy="232.4" r="4.4"/>
<circle cx="376.9" cy="224.1" r="4.4"/>
<circle cx="376.8" cy="225.1" r="4.4"/>
<circle cx="377.1" cy="225.6" r="4.4"/>
<circle cx="377.2" cy="238.5" r="4.4"/>
<circle cx="377.0" cy="229.7" r="4.4"/>
<circle cx="376.8" cy="244.6" r="4.4"/>
<circle cx="376.5" cy="242.6" r="4.4"/>
<circle cx="377.2" cy="225.4" r="4.4"/>
<circle cx="376.8" cy="229.7" r="4.4"/>
<circle cx="376.6" cy="236.1" r="4.4"/>
<circle cx="376.9" cy="241.6" r="4.4"/>
<circle cx="376.7" cy="225.2" r="4.4"/>
<circle cx="377.3" cy="230.5" r="4.4"/>
<circle cx="377.2" cy="240.0" r="4.4"/>
<circle cx="376.8" cy="241.9" r="4.4"/>
<circle cx="364.8" cy="249.9" r="4.4"/>
<circle cx="364.5" cy="220.0" r="4.4"/>
<circle cx="365.1" cy="245.8" r="4.4"/>
<circle cx="364.7" cy="241.2" r="4.4"/>
<circle cx="364.9" cy="223.9" r="4.4"/>
<circle cx="364.4" cy="238.0" r="4.4"/>
<circle cx="364.8" cy="222.5" r="4.4"/>
<circle cx="364.7" cy="227.3" r="4.4"/>
<circle cx="364.7" cy="230.0" r="4.4"/>
<circle cx="364.7" cy="244.9" r="4.4"/>
<circle cx="364.8" cy="236.0" r="4.4"/>
<circle cx="365.2" cy="230.5" r="4.4"/>
<circle cx="365.1" cy="222.0" r="4.4"/>
<circle cx="364.9" cy="225.2" r="4.4"/>
<circle cx="364.7" cy="229.0" r="4.4"/>
<circle cx="364.8" cy="223.6" r="4.4"/>
<circle cx="364.5" cy="233.1" r="4.4"/>
<circle cx="364.7" cy="239.1" r="4.4"/>
<circle cx="365.0" cy="223.9" r="4.4"/>
<circle cx="364.6" cy="224.0" r="4.4"/>
<circle cx="365.0" cy="233.1" r="4.4"/>
<circle cx="364.9" cy="229.4" r="4.4"/>
<circle cx="370.8" cy="247.4" r="4.4"/>
<circle cx="370.6" cy="233.0" r="4.4"/>
<circle cx="370.6" cy="231.4" r="4.4"/>
<circle cx="370.8" cy="249.4" r="4.4"/>
<circle cx="370.4" cy="231.7" r="4.4"/>
<circle cx="371.0" cy="228.2" r="4.4"/>
<circle cx="371.2" cy="239.1" r="4.4"/>
<circle cx="370.7" cy="248.5" r="4.4"/>
<circle cx="370.5" cy="225.1" r="4.4"/>
<circle cx="371.0" cy="228.3" r="4.4"/>
<circle cx="370.7" cy="219.7" r="4.4"/>
<circle cx="370.7" cy="240.6" r="4.4"/>
<circle cx="370.7" cy="228.6" r="4.4"/>
<circle cx="371.1" cy="242.8" r="4.4"/>
<circle cx="370.6" cy="249.3" r="4.4"/>
<circle cx="371.1" cy="248.8" r="4.4"/>
<circle cx="371.1" cy="240.3" r="4.4"/>
<circle cx="370.8" cy="232.4" r="4.4"/>
<circle cx="370.9" cy="221.5" r="4.4"/>
<circle cx="370.7" cy="242.8" r="4.4"/>
<circle cx="376.9" cy="249.1" r="4.4"/>
<circle cx="376.6" cy="228.4" r="4.4"/>
<circle cx="376.6" cy="227.9" r="4.4"/>
<circle cx="377.0" cy="240.1" r="4.4"/>
<circle cx="376.5" cy="227.1" r="4.4"/>
<circle cx="377.2" cy="236.3" r="4.4"/>
<circle cx="377.0" cy="224.4" r="4.4"/>
<circle cx="377.0" cy="241.9" r="4.4"/>
<circle cx="377.2" cy="230.3" r="4.4"/>
<circle cx="376.6" cy="228.7" r="4.4"/>
<circle cx="376.6" cy="235.0" r="4.4"/>
<circle cx="377.0" cy="239.9" r="4.4"/>
<circle cx="376.6" cy="238.0" r="4.4"/>
<circle cx="377.1" cy="235.2" r="4.4"/>
<circle cx="377.2" cy="240.4" r="4.4"/>
<circle cx="377.3" cy="229.7" r="4.4"/>
<circle cx="376.5" cy="238.6" r="4.4"/>
<circle cx="376.6" cy="237.5" r="4.4"/>
<circle cx="377.0" cy="224.8" r="4.4"/>
<circle cx="382.9" cy="220.6" r="4.4"/>
<circle cx="382.9" cy="247.8" r="4.4"/>
<circle cx="382.6" cy="243.3" r="4.4"/>
<circle cx="383.1" cy="224.9" r="4.4"/>
<circle cx="382.9" cy="227.7" r="4.4"/>
<circle cx="382.6" cy="227.6" r="4.4"/>
<circle cx="382.8" cy="235.3" r="4.4"/>
<circle cx="382.8" cy="244.0" r="4.4"/>
<circle cx="383.1" cy="243.1" r="4.4"/>
<circle cx="382.8" cy="244.1" r="4.4"/>
<circle cx="382.9" cy="228.6" r="4.4"/>
<circle cx="383.0" cy="227.4" r="4.4"/>
<circle cx="383.2" cy="231.2" r="4.4"/>
<circle cx="382.9" cy="244.3" r="4.4"/>
<circle cx="382.7" cy="245.7" r="4.4"/>
<circle cx="383.1" cy="238.0" r="4.4"/>
<circle cx="382.6" cy="242.5" r="4.4"/>
<circle cx="382.9" cy="238.3" r="4.4"/>
<circle cx="382.8" cy="248.7" r="4.4"/>
<circle cx="389.0" cy="220.9" r="4.4"/>
<circle cx="388.6" cy="232.8" r="4.4"/>
<circle cx="388.6" cy="235.2" r="4.4"/>
<circle cx="388.8" cy="223.5" r="4.4"/>
<circle cx="389.0" cy="223.4" r="4.4"/>
<circle cx="388.6" cy="237.1" r="4.4"/>
<circle cx="388.9" cy="240.2" r="4.4"/>
<circle cx="388.8" cy="229.5" r="4.4"/>
<circle cx="389.3" cy="235.0" r="4.4"/>
<circle cx="388.6" cy="229.0" r="4.4"/>
<circle cx="388.9" cy="221.7" r="4.4"/>
<circle cx="389.0" cy="236.3" r="4.4"/>
<circle cx="389.3" cy="222.3" r="4.4"/>
<circle cx="388.6" cy="224.3" r="4.4"/>
<circle cx="388.6" cy="221.4" r="4.4"/>
<circle cx="389.3" cy="235.6" r="4.4"/>
<circle cx="395.0" cy="246.6" r="4.4"/>
<circle cx="395.2" cy="224.1" r="4.4"/>
<circle cx="395.2" cy="240.2" r="4.4"/>
<circle cx="394.9" cy="231.5" r="4.4"/>
<circle cx="394.8" cy="229.2" r="4.4"/>
<circle cx="395.0" cy="227.7" r="4.4"/>
<circle cx="394.8" cy="239.5" r="4.4"/>
<circle cx="394.7" cy="232.6" r="4.4"/>
<circle cx="395.0" cy="230.5" r="4.4"/>
<circle cx="395.3" cy="245.0" r="4.4"/>
<circle cx="395.3" cy="240.2" r="4.4"/>
<circle cx="395.3" cy="236.1" r="4.4"/>
<circle cx="395.4" cy="237.4" r="4.4"/>
<circle cx="394.8" cy="230.5" r="4.4"/>
<circle cx="395.3" cy="231.9" r="4.4"/>
<circle cx="401.0" cy="223.7" r="4.4"/>
<circle cx="401.0" cy="249.3" r="4.4"/>
<circle cx="401.3" cy="236.9" r="4.4"/>
<circle cx="400.8" cy="226.3" r="4.4"/>
<circle cx="401.2" cy="233.3" r="4.4"/>
<circle cx="401.2" cy="241.0" r="4.4"/>
<circle cx="400.9" cy="239.4" r="4.4"/>
<circle cx="401.1" cy="228.4" r="4.4"/>
<circle cx="401.4" cy="245.5" r="4.4"/>
<circle cx="400.9" cy="237.4" r="4.4"/>
<circle cx="400.7" cy="231.8" r="4.4"/>
<circle cx="400.6" cy="238.6" r="4.4"/>
<circle cx="401.0" cy="238.1" r="4.4"/>
<circle cx="401.1" cy="225.6" r="4.4"/>
<circle cx="401.0" cy="237.6" r="4.4"/>
<circle cx="407.1" cy="225.8" r="4.4"/>
<circle cx="407.1" cy="248.3" r="4.4"/>
<circle cx="407.0" cy="233.8" r="4.4"/>
<circle cx="407.3" cy="228.8" r="4.4"/>
<circle cx="407.4" cy="245.6" r="4.4"/>
<circle cx="406.9" cy="228.1" r="4.4"/>
<circle cx="406.7" cy="248.1" r="4.4"/>
<circle cx="407.1" cy="241.9" r="4.4"/>
<circle cx="407.3" cy="233.3" r="4.4"/>
<circle cx="406.8" cy="248.6" r="4.4"/>
<circle cx="407.1" cy="230.3" r="4.4"/>
<circle cx="406.8" cy="246.0" r="4.4"/>
<circle cx="406.8" cy="233.7" r="4.4"/>
<circle cx="413.1" cy="227.7" r="4.4"/>
<circle cx="413.1" cy="247.2" r="4.4"/>
<circle cx="413.3" cy="237.5" r="4.4"/>
<circle cx="413.4" cy="236.2" r="4.4"/>
<circle cx="413.2" cy="229.6" r="4.4"/>
<circle cx="412.9" cy="226.9" r="4.4"/>
<circle cx="412.9" cy="244.8" r="4.4"/>
<circle cx="413.4" cy="243.6" r="4.4"/>
<circle cx="412.9" cy="229.8" r="4.4"/>
<circle cx="413.3" cy="238.5" r="4.4"/>
<circle cx="413.2" cy="238.9" r="4.4"/>
<circle cx="413.4" cy="239.3" r="4.4"/>
<circle cx="419.2" cy="245.4" r="4.4"/>
<circle cx="418.9" cy="236.4" r="4.4"/>
<circle cx="419.2" cy="234.1" r="4.4"/>
<circle cx="418.8" cy="239.9" r="4.4"/>
<circle cx="418.8" cy="241.3" r="4.4"/>
<circle cx="419.3" cy="244.8" r="4.4"/>
<circle cx="419.5" cy="240.1" r="4.4"/>
<circle cx="419.3" cy="235.7" r="4.4"/>
<circle cx="419.4" cy="233.1" r="4.4"/>
<circle cx="425.2" cy="245.0" r="4.4"/>
<circle cx="425.2" cy="236.0" r="4.4"/>
<circle cx="424.9" cy="243.1" r="4.4"/>
<circle cx="425.0" cy="230.8" r="4.4"/>
<circle cx="425.0" cy="234.3" r="4.4"/>
<circle cx="424.9" cy="242.2" r="4.4"/>
<circle cx="425.1" cy="239.8" r="4.4"/>
<circle cx="424.9" cy="227.6" r="4.4"/>
<circle cx="431.2" cy="228.0" r="4.4"/>
<circle cx="431.2" cy="243.5" r="4.4"/>
<circle cx="431.6" cy="228.2" r="4.4"/>
<circle cx="431.2" cy="239.3" r="4.4"/>
<circle cx="431.3" cy="240.3" r="4.4"/>
<circle cx="431.4" cy="243.3" r="4.4"/>
<circle cx="431.2" cy="230.1" r="4.4"/>
<circle cx="431.1" cy="238.7" r="4.4"/>
<circle cx="437.3" cy="227.6" r="4.4"/>
<circle cx="437.4" cy="234.5" r="4.4"/>
<circle cx="437.5" cy="238.8" r="4.4"/>
<circle cx="437.1" cy="234.5" r="4.4"/>
<circle cx="437.6" cy="243.3" r="4.4"/>
<circle cx="437.3" cy="241.4" r="4.4"/>
</g>
<line x1="267.0" y1="235.5" x2="462.6" y2="231.7" stroke="#000" stroke-width="1.85"/>
<path d="M267.0 187.2V282.2M267.0 282.2h-5.3M267.0 266.4h-5.3M267.0 250.6h-5.3M267.0 234.7h-5.3M267.0 218.9h-5.3M267.0 203.0h-5.3M267.0 187.2h-5.3M274.2 284.4H455.4M274.2 284.4v4.4M304.4 284.4v4.4M334.6 284.4v4.4M364.8 284.4v4.4M395.0 284.4v4.4M425.2 284.4v4.4M455.4 284.4v4.4" stroke="#000" stroke-width="1.4" fill="none" stroke-linecap="square"/>
<text class="y" x="257.0" y="286.2">−3</text>
<text class="y" x="257.0" y="270.4">−2</text>
<text class="y" x="257.0" y="254.6">−1</text>
<text class="y" x="257.0" y="238.7">0</text>
<text class="y" x="257.0" y="222.9">1</text>
<text class="y" x="257.0" y="207.0">2</text>
<text class="y" x="257.0" y="191.2">3</text>
<text class="a" x="274.2" y="301.6">1.0</text>
<text class="a" x="304.4" y="301.6">1.5</text>
<text class="a" x="334.6" y="301.6">2.0</text>
<text class="a" x="364.8" y="301.6">2.5</text>
<text class="a" x="395.0" y="301.6">3.0</text>
<text class="a" x="425.2" y="301.6">3.5</text>
<text class="a" x="455.4" y="301.6">4.0</text>
<text class="t" x="364.8" y="168.85">Study 5</text>
<text class="l" x="401.3" y="195.0">r = 0.10</text>
<text class="l" x="401.3" y="206.9">N = 494</text>
<text class="l" x="401.3" y="218.7">p = 0.03</text>
<clipPath id="c5"><rect x="513.7" y="182.0" width="196" height="103.0"/></clipPath>
<g fill="#d2d2d2" clip-path="url(#c5)">
<circle cx="520.3" cy="212.5" r="4.4"/>
<circle cx="520.3" cy="220.0" r="4.4"/>
<circle cx="532.8" cy="215.8" r="4.4"/>
<circle cx="539.5" cy="216.7" r="4.4"/>
<circle cx="550.3" cy="220.0" r="4.4"/>
<circle cx="557.0" cy="216.7" r="4.4"/>
<circle cx="562.8" cy="214.2" r="4.4"/>
<circle cx="570.3" cy="219.2" r="4.4"/>
<circle cx="580.7" cy="214.7" r="4.4"/>
<circle cx="592.8" cy="207.5" r="4.4"/>
<circle cx="592.8" cy="219.2" r="4.4"/>
<circle cx="604.5" cy="215.8" r="4.4"/>
<circle cx="611.2" cy="212.5" r="4.4"/>
<circle cx="617.8" cy="214.2" r="4.4"/>
<circle cx="622.8" cy="217.5" r="4.4"/>
<circle cx="628.7" cy="214.2" r="4.4"/>
<circle cx="520.3" cy="248.3" r="4.4"/>
<circle cx="526.2" cy="251.7" r="4.4"/>
<circle cx="538.7" cy="250.8" r="4.4"/>
<circle cx="550.3" cy="249.2" r="4.4"/>
<circle cx="556.7" cy="265.0" r="4.4"/>
<circle cx="562.8" cy="253.7" r="4.4"/>
<circle cx="568.7" cy="252.5" r="4.4"/>
<circle cx="580.3" cy="253.3" r="4.4"/>
<circle cx="587.0" cy="258.3" r="4.4"/>
<circle cx="598.7" cy="255.0" r="4.4"/>
<circle cx="598.7" cy="263.7" r="4.4"/>
<circle cx="611.2" cy="256.7" r="4.4"/>
<circle cx="611.5" cy="273.0" r="4.4"/>
<circle cx="605.3" cy="250.0" r="4.4"/>
<circle cx="620.3" cy="248.3" r="4.4"/>
<circle cx="628.7" cy="250.0" r="4.4"/>
<circle cx="592.7" cy="207.5" r="4.4"/>
<circle cx="592.7" cy="218.3" r="4.4"/>
<circle cx="605.2" cy="215.0" r="4.4"/>
<circle cx="611.0" cy="212.5" r="4.4"/>
<circle cx="617.7" cy="214.2" r="4.4"/>
<circle cx="629.3" cy="213.0" r="4.4"/>
<circle cx="637.7" cy="219.2" r="4.4"/>
<circle cx="646.0" cy="220.0" r="4.4"/>
<circle cx="671.0" cy="220.0" r="4.4"/>
<circle cx="677.7" cy="222.5" r="4.4"/>
<circle cx="683.5" cy="225.0" r="4.4"/>
<circle cx="690.2" cy="209.2" r="4.4"/>
<circle cx="696.0" cy="218.3" r="4.4"/>
<circle cx="701.8" cy="221.7" r="4.4"/>
<circle cx="701.8" cy="228.3" r="4.4"/>
<circle cx="598.5" cy="255.0" r="4.4"/>
<circle cx="599.0" cy="263.7" r="4.4"/>
<circle cx="611.0" cy="257.5" r="4.4"/>
<circle cx="611.3" cy="273.3" r="4.4"/>
<circle cx="622.7" cy="250.0" r="4.4"/>
<circle cx="634.7" cy="253.3" r="4.4"/>
<circle cx="641.0" cy="247.5" r="4.4"/>
<circle cx="652.7" cy="248.3" r="4.4"/>
<circle cx="659.3" cy="245.0" r="4.4"/>
<circle cx="669.3" cy="242.5" r="4.4"/>
<circle cx="677.7" cy="244.7" r="4.4"/>
<circle cx="683.5" cy="238.3" r="4.4"/>
<circle cx="696.0" cy="239.2" r="4.4"/>
<circle cx="701.8" cy="235.8" r="4.4"/>
<circle cx="520.2" cy="285.0" r="4.4"/>
<circle cx="520.7" cy="247.7" r="4.4"/>
<circle cx="520.7" cy="234.2" r="4.4"/>
<circle cx="520.9" cy="234.8" r="4.4"/>
<circle cx="520.5" cy="223.2" r="4.4"/>
<circle cx="520.6" cy="240.0" r="4.4"/>
<circle cx="520.5" cy="230.1" r="4.4"/>
<circle cx="520.5" cy="227.4" r="4.4"/>
<circle cx="521.0" cy="239.8" r="4.4"/>
<circle cx="520.9" cy="231.6" r="4.4"/>
<circle cx="520.9" cy="238.5" r="4.4"/>
<circle cx="526.7" cy="219.6" r="4.4"/>
<circle cx="526.7" cy="248.0" r="4.4"/>
<circle cx="526.5" cy="229.2" r="4.4"/>
<circle cx="527.1" cy="227.7" r="4.4"/>
<circle cx="527.1" cy="224.7" r="4.4"/>
<circle cx="526.9" cy="232.4" r="4.4"/>
<circle cx="526.4" cy="245.0" r="4.4"/>
<circle cx="526.6" cy="223.6" r="4.4"/>
<circle cx="526.8" cy="246.2" r="4.4"/>
<circle cx="526.8" cy="246.9" r="4.4"/>
<circle cx="526.6" cy="246.9" r="4.4"/>
<circle cx="526.5" cy="245.6" r="4.4"/>
<circle cx="532.8" cy="218.9" r="4.4"/>
<circle cx="533.0" cy="233.1" r="4.4"/>
<circle cx="532.4" cy="231.9" r="4.4"/>
<circle cx="532.9" cy="220.4" r="4.4"/>
<circle cx="532.7" cy="229.6" r="4.4"/>
<circle cx="532.5" cy="244.9" r="4.4"/>
<circle cx="532.7" cy="237.8" r="4.4"/>
<circle cx="533.0" cy="233.7" r="4.4"/>
<circle cx="533.1" cy="234.7" r="4.4"/>
<circle cx="532.7" cy="221.3" r="4.4"/>
<circle cx="532.8" cy="244.4" r="4.4"/>
<circle cx="532.7" cy="237.2" r="4.4"/>
<circle cx="532.6" cy="244.2" r="4.4"/>
<circle cx="538.8" cy="218.8" r="4.4"/>
<circle cx="538.8" cy="249.1" r="4.4"/>
<circle cx="538.6" cy="223.9" r="4.4"/>
<circle cx="538.8" cy="227.6" r="4.4"/>
<circle cx="538.7" cy="242.4" r="4.4"/>
<circle cx="539.1" cy="229.7" r="4.4"/>
<circle cx="538.8" cy="226.4" r="4.4"/>
<circle cx="538.8" cy="227.5" r="4.4"/>
<circle cx="538.7" cy="241.5" r="4.4"/>
<circle cx="539.1" cy="243.3" r="4.4"/>
<circle cx="539.2" cy="225.8" r="4.4"/>
<circle cx="538.9" cy="244.6" r="4.4"/>
<circle cx="538.7" cy="228.3" r="4.4"/>
<circle cx="539.1" cy="222.3" r="4.4"/>
<circle cx="539.2" cy="242.5" r="4.4"/>
<circle cx="544.9" cy="219.5" r="4.4"/>
<circle cx="544.9" cy="249.7" r="4.4"/>
<circle cx="545.0" cy="235.0" r="4.4"/>
<circle cx="544.7" cy="228.0" r="4.4"/>
<circle cx="544.5" cy="224.8" r="4.4"/>
<circle cx="545.0" cy="244.8" r="4.4"/>
<circle cx="545.1" cy="244.4" r="4.4"/>
<circle cx="544.5" cy="219.9" r="4.4"/>
<circle cx="544.7" cy="234.8" r="4.4"/>
<circle cx="544.9" cy="244.9" r="4.4"/>
<circle cx="544.6" cy="248.0" r="4.4"/>
<circle cx="544.5" cy="230.1" r="4.4"/>
<circle cx="545.0" cy="230.0" r="4.4"/>
<circle cx="545.0" cy="240.3" r="4.4"/>
<circle cx="545.1" cy="232.1" r="4.4"/>
<circle cx="544.5" cy="227.8" r="4.4"/>
<circle cx="551.1" cy="245.2" r="4.4"/>
<circle cx="551.1" cy="225.6" r="4.4"/>
<circle cx="551.1" cy="245.8" r="4.4"/>
<circle cx="550.9" cy="226.8" r="4.4"/>
<circle cx="550.6" cy="230.9" r="4.4"/>
<circle cx="550.7" cy="245.1" r="4.4"/>
<circle cx="551.2" cy="239.2" r="4.4"/>
<circle cx="550.7" cy="232.3" r="4.4"/>
<circle cx="551.2" cy="247.4" r="4.4"/>
<circle cx="550.5" cy="231.4" r="4.4"/>
<circle cx="551.0" cy="246.2" r="4.4"/>
<circle cx="550.6" cy="231.0" r="4.4"/>
<circle cx="550.8" cy="233.5" r="4.4"/>
<circle cx="551.1" cy="247.1" r="4.4"/>
<circle cx="556.9" cy="219.2" r="4.4"/>
<circle cx="556.9" cy="248.7" r="4.4"/>
<circle cx="556.9" cy="246.6" r="4.4"/>
<circle cx="556.9" cy="245.0" r="4.4"/>
<circle cx="557.0" cy="238.9" r="4.4"/>
<circle cx="556.6" cy="236.7" r="4.4"/>
<circle cx="556.8" cy="227.2" r="4.4"/>
<circle cx="556.7" cy="233.2" r="4.4"/>
<circle cx="556.7" cy="222.8" r="4.4"/>
<circle cx="556.7" cy="229.1" r="4.4"/>
<circle cx="556.9" cy="223.3" r="4.4"/>
<circle cx="556.7" cy="240.2" r="4.4"/>
<circle cx="557.0" cy="244.0" r="4.4"/>
<circle cx="556.7" cy="238.2" r="4.4"/>
<circle cx="556.9" cy="228.7" r="4.4"/>
<circle cx="556.9" cy="245.6" r="4.4"/>
<circle cx="557.1" cy="234.2" r="4.4"/>
<circle cx="563.0" cy="220.3" r="4.4"/>
<circle cx="563.0" cy="249.2" r="4.4"/>
<circle cx="563.1" cy="242.3" r="4.4"/>
<circle cx="562.9" cy="233.3" r="4.4"/>
<circle cx="563.2" cy="238.0" r="4.4"/>
<circle cx="562.7" cy="236.0" r="4.4"/>
<circle cx="562.9" cy="233.1" r="4.4"/>
<circle cx="562.6" cy="228.8" r="4.4"/>
<circle cx="562.8" cy="228.5" r="4.4"/>
<circle cx="562.8" cy="222.9" r="4.4"/>
<circle cx="563.3" cy="238.4" r="4.4"/>
<circle cx="562.7" cy="244.0" r="4.4"/>
<circle cx="563.2" cy="243.6" r="4.4"/>
<circle cx="563.1" cy="225.2" r="4.4"/>
<circle cx="562.7" cy="231.3" r="4.4"/>
<circle cx="563.3" cy="248.3" r="4.4"/>
<circle cx="562.8" cy="238.7" r="4.4"/>
<circle cx="563.2" cy="226.2" r="4.4"/>
<circle cx="569.0" cy="250.2" r="4.4"/>
<circle cx="569.2" cy="229.5" r="4.4"/>
<circle cx="568.6" cy="250.1" r="4.4"/>
<circle cx="568.9" cy="245.1" r="4.4"/>
<circle cx="569.4" cy="240.4" r="4.4"/>
<circle cx="568.7" cy="245.1" r="4.4"/>
<circle cx="568.7" cy="236.3" r="4.4"/>
<circle cx="568.6" cy="236.6" r="4.4"/>
<circle cx="569.1" cy="237.8" r="4.4"/>
<circle cx="568.8" cy="230.1" r="4.4"/>
<circle cx="568.8" cy="244.5" r="4.4"/>
<circle cx="569.4" cy="245.5" r="4.4"/>
<circle cx="569.1" cy="221.7" r="4.4"/>
<circle cx="569.1" cy="247.1" r="4.4"/>
<circle cx="568.7" cy="224.5" r="4.4"/>
<circle cx="569.3" cy="236.4" r="4.4"/>
<circle cx="569.3" cy="240.3" r="4.4"/>
<circle cx="569.1" cy="248.8" r="4.4"/>
<circle cx="575.1" cy="252.6" r="4.4"/>
<circle cx="575.3" cy="222.5" r="4.4"/>
<circle cx="575.1" cy="227.0" r="4.4"/>
<circle cx="575.0" cy="227.0" r="4.4"/>
<circle cx="574.8" cy="251.8" r="4.4"/>
<circle cx="575.3" cy="222.0" r="4.4"/>
<circle cx="574.8" cy="230.1" r="4.4"/>
<circle cx="575.0" cy="244.6" r="4.4"/>
<circle cx="574.7" cy="243.7" r="4.4"/>
<circle cx="574.9" cy="225.3" r="4.4"/>
<circle cx="575.3" cy="252.4" r="4.4"/>
<circle cx="575.4" cy="245.2" r="4.4"/>
<circle cx="574.8" cy="247.1" r="4.4"/>
<circle cx="575.4" cy="242.8" r="4.4"/>
<circle cx="575.4" cy="244.4" r="4.4"/>
<circle cx="575.1" cy="221.3" r="4.4"/>
<circle cx="575.0" cy="238.3" r="4.4"/>
<circle cx="575.5" cy="219.8" r="4.4"/>
<circle cx="581.1" cy="220.5" r="4.4"/>
<circle cx="581.1" cy="252.0" r="4.4"/>
<circle cx="580.8" cy="243.1" r="4.4"/>
<circle cx="581.2" cy="239.2" r="4.4"/>
<circle cx="581.1" cy="234.6" r="4.4"/>
<circle cx="580.8" cy="228.0" r="4.4"/>
<circle cx="580.8" cy="226.7" r="4.4"/>
<circle cx="580.8" cy="233.5" r="4.4"/>
<circle cx="581.3" cy="231.2" r="4.4"/>
<circle cx="581.4" cy="242.9" r="4.4"/>
<circle cx="581.2" cy="240.3" r="4.4"/>
<circle cx="581.4" cy="244.3" r="4.4"/>
<circle cx="580.8" cy="235.1" r="4.4"/>
<circle cx="581.2" cy="220.4" r="4.4"/>
<circle cx="581.2" cy="243.3" r="4.4"/>
<circle cx="581.2" cy="232.3" r="4.4"/>
<circle cx="580.7" cy="245.9" r="4.4"/>
<circle cx="581.4" cy="230.1" r="4.4"/>
<circle cx="581.1" cy="244.6" r="4.4"/>
<circle cx="581.3" cy="246.7" r="4.4"/>
<circle cx="587.1" cy="218.6" r="4.4"/>
<circle cx="587.0" cy="241.1" r="4.4"/>
<circle cx="587.3" cy="240.8" r="4.4"/>
<circle cx="587.1" cy="229.5" r="4.4"/>
<circle cx="587.2" cy="234.3" r="4.4"/>
<circle cx="587.4" cy="238.3" r="4.4"/>
<circle cx="586.7" cy="249.3" r="4.4"/>
<circle cx="587.5" cy="246.3" r="4.4"/>
<circle cx="587.1" cy="232.5" r="4.4"/>
<circle cx="587.3" cy="243.4" r="4.4"/>
<circle cx="587.4" cy="239.8" r="4.4"/>
<circle cx="587.1" cy="234.7" r="4.4"/>
<circle cx="587.0" cy="236.1" r="4.4"/>
<circle cx="587.2" cy="255.0" r="4.4"/>
<circle cx="587.5" cy="248.7" r="4.4"/>
<circle cx="587.3" cy="225.9" r="4.4"/>
<circle cx="587.3" cy="243.6" r="4.4"/>
<circle cx="587.4" cy="235.8" r="4.4"/>
<circle cx="587.1" cy="235.8" r="4.4"/>
<circle cx="586.8" cy="227.9" r="4.4"/>
<circle cx="593.2" cy="219.1" r="4.4"/>
<circle cx="593.2" cy="254.4" r="4.4"/>
<circle cx="593.4" cy="234.4" r="4.4"/>
<circle cx="593.0" cy="227.6" r="4.4"/>
<circle cx="592.9" cy="233.8" r="4.4"/>
<circle cx="592.9" cy="246.1" r="4.4"/>
<circle cx="592.9" cy="226.8" r="4.4"/>
<circle cx="593.1" cy="245.6" r="4.4"/>
<circle cx="593.2" cy="231.8" r="4.4"/>
<circle cx="592.9" cy="223.0" r="4.4"/>
<circle cx="593.1" cy="252.8" r="4.4"/>
<circle cx="593.3" cy="219.1" r="4.4"/>
<circle cx="593.0" cy="226.3" r="4.4"/>
<circle cx="593.4" cy="238.7" r="4.4"/>
<circle cx="593.6" cy="236.3" r="4.4"/>
<circle cx="593.0" cy="247.8" r="4.4"/>
<circle cx="593.6" cy="224.0" r="4.4"/>
<circle cx="593.2" cy="242.7" r="4.4"/>
<circle cx="593.0" cy="243.3" r="4.4"/>
<circle cx="593.3" cy="231.2" r="4.4"/>
<circle cx="593.2" cy="227.6" r="4.4"/>
<circle cx="599.2" cy="219.4" r="4.4"/>
<circle cx="599.2" cy="253.7" r="4.4"/>
<circle cx="599.0" cy="236.2" r="4.4"/>
<circle cx="599.1" cy="236.9" r="4.4"/>
<circle cx="599.5" cy="221.6" r="4.4"/>
<circle cx="599.4" cy="248.6" r="4.4"/>
<circle cx="599.2" cy="235.6" r="4.4"/>
<circle cx="599.4" cy="224.6" r="4.4"/>
<circle cx="598.8" cy="244.6" r="4.4"/>
<circle cx="598.9" cy="229.7" r="4.4"/>
<circle cx="598.9" cy="233.4" r="4.4"/>
<circle cx="599.5" cy="240.6" r="4.4"/>
<circle cx="599.5" cy="241.8" r="4.4"/>
<circle cx="598.9" cy="232.3" r="4.4"/>
<circle cx="599.2" cy="246.9" r="4.4"/>
<circle cx="598.9" cy="246.1" r="4.4"/>
<circle cx="598.9" cy="234.8" r="4.4"/>
<circle cx="598.9" cy="245.0" r="4.4"/>
<circle cx="599.1" cy="246.2" r="4.4"/>
<circle cx="599.2" cy="237.7" r="4.4"/>
<circle cx="599.2" cy="229.5" r="4.4"/>
<circle cx="605.3" cy="218.8" r="4.4"/>
<circle cx="605.3" cy="253.5" r="4.4"/>
<circle cx="605.0" cy="232.3" r="4.4"/>
<circle cx="605.1" cy="229.3" r="4.4"/>
<circle cx="605.3" cy="228.0" r="4.4"/>
<circle cx="605.6" cy="228.4" r="4.4"/>
<circle cx="605.4" cy="230.8" r="4.4"/>
<circle cx="605.3" cy="224.2" r="4.4"/>
<circle cx="605.0" cy="243.9" r="4.4"/>
<circle cx="605.1" cy="225.1" r="4.4"/>
<circle cx="605.6" cy="248.6" r="4.4"/>
<circle cx="605.4" cy="226.5" r="4.4"/>
<circle cx="605.2" cy="245.4" r="4.4"/>
<circle cx="605.3" cy="248.1" r="4.4"/>
<circle cx="605.1" cy="227.8" r="4.4"/>
<circle cx="604.9" cy="222.5" r="4.4"/>
<circle cx="605.6" cy="227.5" r="4.4"/>
<circle cx="605.4" cy="245.9" r="4.4"/>
<circle cx="605.2" cy="251.7" r="4.4"/>
<circle cx="605.7" cy="228.7" r="4.4"/>
<circle cx="604.9" cy="249.8" r="4.4"/>
<circle cx="611.3" cy="219.5" r="4.4"/>
<circle cx="611.3" cy="251.7" r="4.4"/>
<circle cx="611.2" cy="222.9" r="4.4"/>
<circle cx="611.6" cy="234.6" r="4.4"/>
<circle cx="611.4" cy="230.5" r="4.4"/>
<circle cx="611.0" cy="236.5" r="4.4"/>
<circle cx="611.4" cy="224.2" r="4.4"/>
<circle cx="611.3" cy="252.5" r="4.4"/>
<circle cx="611.7" cy="245.0" r="4.4"/>
<circle cx="611.5" cy="219.0" r="4.4"/>
<circle cx="611.2" cy="233.6" r="4.4"/>
<circle cx="611.2" cy="229.3" r="4.4"/>
<circle cx="611.2" cy="248.1" r="4.4"/>
<circle cx="610.9" cy="238.3" r="4.4"/>
<circle cx="611.4" cy="239.2" r="4.4"/>
<circle cx="611.3" cy="236.8" r="4.4"/>
<circle cx="611.3" cy="239.2" r="4.4"/>
<circle cx="611.0" cy="248.7" r="4.4"/>
<circle cx="611.7" cy="245.3" r="4.4"/>
<circle cx="617.3" cy="219.3" r="4.4"/>
<circle cx="617.3" cy="249.7" r="4.4"/>
<circle cx="617.5" cy="237.8" r="4.4"/>
<circle cx="617.6" cy="233.4" r="4.4"/>
<circle cx="617.4" cy="243.4" r="4.4"/>
<circle cx="617.7" cy="226.1" r="4.4"/>
<circle cx="617.4" cy="234.9" r="4.4"/>
<circle cx="617.5" cy="225.2" r="4.4"/>
<circle cx="617.6" cy="239.4" r="4.4"/>
<circle cx="617.5" cy="239.8" r="4.4"/>
<circle cx="617.5" cy="237.5" r="4.4"/>
<circle cx="617.0" cy="249.2" r="4.4"/>
<circle cx="617.2" cy="221.1" r="4.4"/>
<circle cx="617.5" cy="228.6" r="4.4"/>
<circle cx="617.6" cy="243.2" r="4.4"/>
<circle cx="617.4" cy="246.7" r="4.4"/>
<circle cx="617.2" cy="235.6" r="4.4"/>
<circle cx="617.0" cy="232.3" r="4.4"/>
<circle cx="617.3" cy="233.0" r="4.4"/>
<circle cx="623.4" cy="219.4" r="4.4"/>
<circle cx="623.4" cy="248.2" r="4.4"/>
<circle cx="623.3" cy="222.0" r="4.4"/>
<circle cx="623.7" cy="225.5" r="4.4"/>
<circle cx="623.1" cy="227.5" r="4.4"/>
<circle cx="623.2" cy="231.0" r="4.4"/>
<circle cx="623.3" cy="224.3" r="4.4"/>
<circle cx="623.1" cy="247.3" r="4.4"/>
<circle cx="623.2" cy="236.9" r="4.4"/>
<circle cx="623.5" cy="243.0" r="4.4"/>
<circle cx="623.3" cy="226.1" r="4.4"/>
<circle cx="623.2" cy="226.0" r="4.4"/>
<circle cx="623.1" cy="244.1" r="4.4"/>
<circle cx="623.5" cy="230.7" r="4.4"/>
<circle cx="623.5" cy="222.6" r="4.4"/>
<circle cx="623.0" cy="224.6" r="4.4"/>
<circle cx="623.4" cy="248.4" r="4.4"/>
<circle cx="623.0" cy="240.3" r="4.4"/>
<circle cx="593.2" cy="219.6" r="4.4"/>
<circle cx="593.1" cy="249.3" r="4.4"/>
<circle cx="592.9" cy="239.0" r="4.4"/>
<circle cx="593.5" cy="224.5" r="4.4"/>
<circle cx="592.9" cy="232.2" r="4.4"/>
<circle cx="593.3" cy="231.2" r="4.4"/>
<circle cx="593.3" cy="230.8" r="4.4"/>
<circle cx="593.5" cy="234.6" r="4.4"/>
<circle cx="592.9" cy="236.3" r="4.4"/>
<circle cx="592.8" cy="252.8" r="4.4"/>
<circle cx="592.9" cy="227.7" r="4.4"/>
<circle cx="593.5" cy="245.5" r="4.4"/>
<circle cx="593.2" cy="235.7" r="4.4"/>
<circle cx="593.4" cy="221.1" r="4.4"/>
<circle cx="593.5" cy="243.1" r="4.4"/>
<circle cx="593.0" cy="221.4" r="4.4"/>
<circle cx="592.9" cy="224.5" r="4.4"/>
<circle cx="593.0" cy="241.4" r="4.4"/>
<circle cx="593.4" cy="247.6" r="4.4"/>
<circle cx="593.4" cy="239.4" r="4.4"/>
<circle cx="599.2" cy="218.5" r="4.4"/>
<circle cx="599.2" cy="253.1" r="4.4"/>
<circle cx="599.1" cy="241.8" r="4.4"/>
<circle cx="599.6" cy="224.2" r="4.4"/>
<circle cx="599.3" cy="234.0" r="4.4"/>
<circle cx="599.1" cy="225.3" r="4.4"/>
<circle cx="599.0" cy="227.7" r="4.4"/>
<circle cx="599.6" cy="239.8" r="4.4"/>
<circle cx="599.2" cy="230.4" r="4.4"/>
<circle cx="599.2" cy="228.1" r="4.4"/>
<circle cx="599.1" cy="234.9" r="4.4"/>
<circle cx="598.9" cy="217.8" r="4.4"/>
<circle cx="598.9" cy="220.4" r="4.4"/>
<circle cx="599.4" cy="243.3" r="4.4"/>
<circle cx="599.4" cy="229.0" r="4.4"/>
<circle cx="599.3" cy="235.6" r="4.4"/>
<circle cx="599.5" cy="233.7" r="4.4"/>
<circle cx="599.5" cy="237.0" r="4.4"/>
<circle cx="599.4" cy="235.6" r="4.4"/>
<circle cx="599.3" cy="228.2" r="4.4"/>
<circle cx="598.8" cy="237.9" r="4.4"/>
<circle cx="599.3" cy="243.7" r="4.4"/>
<circle cx="605.3" cy="254.2" r="4.4"/>
<circle cx="605.4" cy="237.7" r="4.4"/>
<circle cx="605.5" cy="236.0" r="4.4"/>
<circle cx="605.2" cy="227.5" r="4.4"/>
<circle cx="605.1" cy="234.9" r="4.4"/>
<circle cx="605.3" cy="230.3" r="4.4"/>
<circle cx="604.9" cy="232.4" r="4.4"/>
<circle cx="605.1" cy="254.2" r="4.4"/>
<circle cx="605.6" cy="225.9" r="4.4"/>
<circle cx="605.2" cy="224.8" r="4.4"/>
<circle cx="605.4" cy="229.8" r="4.4"/>
<circle cx="605.1" cy="249.9" r="4.4"/>
<circle cx="605.3" cy="245.4" r="4.4"/>
<circle cx="605.6" cy="233.8" r="4.4"/>
<circle cx="605.3" cy="233.7" r="4.4"/>
<circle cx="605.5" cy="246.3" r="4.4"/>
<circle cx="605.4" cy="253.0" r="4.4"/>
<circle cx="605.0" cy="251.5" r="4.4"/>
<circle cx="604.9" cy="253.5" r="4.4"/>
<circle cx="604.9" cy="236.8" r="4.4"/>
<circle cx="605.1" cy="250.7" r="4.4"/>
<circle cx="611.3" cy="254.6" r="4.4"/>
<circle cx="611.5" cy="239.7" r="4.4"/>
<circle cx="611.0" cy="222.5" r="4.4"/>
<circle cx="611.4" cy="249.9" r="4.4"/>
<circle cx="611.6" cy="237.3" r="4.4"/>
<circle cx="611.7" cy="223.6" r="4.4"/>
<circle cx="610.9" cy="222.0" r="4.4"/>
<circle cx="611.4" cy="223.9" r="4.4"/>
<circle cx="611.3" cy="220.8" r="4.4"/>
<circle cx="611.7" cy="217.7" r="4.4"/>
<circle cx="611.7" cy="230.7" r="4.4"/>
<circle cx="611.7" cy="235.4" r="4.4"/>
<circle cx="611.1" cy="234.9" r="4.4"/>
<circle cx="611.0" cy="248.3" r="4.4"/>
<circle cx="610.9" cy="235.0" r="4.4"/>
<circle cx="611.0" cy="240.0" r="4.4"/>
<circle cx="611.5" cy="220.4" r="4.4"/>
<circle cx="611.2" cy="239.4" r="4.4"/>
<circle cx="611.2" cy="249.0" r="4.4"/>
<circle cx="611.5" cy="233.9" r="4.4"/>
<circle cx="611.3" cy="224.6" r="4.4"/>
<circle cx="617.3" cy="217.6" r="4.4"/>
<circle cx="617.3" cy="251.2" r="4.4"/>
<circle cx="617.0" cy="233.2" r="4.4"/>
<circle cx="617.5" cy="241.3" r="4.4"/>
<circle cx="617.3" cy="238.8" r="4.4"/>
<circle cx="617.6" cy="221.9" r="4.4"/>
<circle cx="617.5" cy="245.0" r="4.4"/>
<circle cx="617.1" cy="237.7" r="4.4"/>
<circle cx="617.2" cy="233.9" r="4.4"/>
<circle cx="617.1" cy="252.0" r="4.4"/>
<circle cx="617.6" cy="247.5" r="4.4"/>
<circle cx="617.4" cy="234.2" r="4.4"/>
<circle cx="617.4" cy="241.1" r="4.4"/>
<circle cx="617.0" cy="247.2" r="4.4"/>
<circle cx="617.6" cy="228.1" r="4.4"/>
<circle cx="617.1" cy="240.4" r="4.4"/>
<circle cx="617.6" cy="242.7" r="4.4"/>
<circle cx="617.4" cy="247.9" r="4.4"/>
<circle cx="617.5" cy="230.6" r="4.4"/>
<circle cx="617.2" cy="241.5" r="4.4"/>
<circle cx="623.4" cy="215.9" r="4.4"/>
<circle cx="623.4" cy="249.5" r="4.4"/>
<circle cx="623.5" cy="242.8" r="4.4"/>
<circle cx="623.0" cy="230.3" r="4.4"/>
<circle cx="623.5" cy="248.2" r="4.4"/>
<circle cx="623.8" cy="216.1" r="4.4"/>
<circle cx="623.1" cy="237.4" r="4.4"/>
<circle cx="623.2" cy="234.4" r="4.4"/>
<circle cx="623.4" cy="232.1" r="4.4"/>
<circle cx="623.0" cy="237.1" r="4.4"/>
<circle cx="623.7" cy="234.7" r="4.4"/>
<circle cx="623.6" cy="231.1" r="4.4"/>
<circle cx="623.1" cy="237.3" r="4.4"/>
<circle cx="623.1" cy="233.2" r="4.4"/>
<circle cx="623.4" cy="237.5" r="4.4"/>
<circle cx="623.4" cy="241.0" r="4.4"/>
<circle cx="623.5" cy="232.8" r="4.4"/>
<circle cx="623.5" cy="230.9" r="4.4"/>
<circle cx="629.4" cy="246.9" r="4.4"/>
<circle cx="629.3" cy="230.5" r="4.4"/>
<circle cx="629.6" cy="230.5" r="4.4"/>
<circle cx="629.6" cy="225.9" r="4.4"/>
<circle cx="629.2" cy="228.2" r="4.4"/>
<circle cx="629.7" cy="217.0" r="4.4"/>
<circle cx="629.7" cy="234.8" r="4.4"/>
<circle cx="629.1" cy="237.8" r="4.4"/>
<circle cx="629.5" cy="225.0" r="4.4"/>
<circle cx="629.1" cy="246.5" r="4.4"/>
<circle cx="629.1" cy="240.4" r="4.4"/>
<circle cx="629.1" cy="245.8" r="4.4"/>
<circle cx="629.4" cy="219.6" r="4.4"/>
<circle cx="629.6" cy="228.6" r="4.4"/>
<circle cx="629.7" cy="246.5" r="4.4"/>
<circle cx="629.8" cy="234.4" r="4.4"/>
<circle cx="635.5" cy="246.8" r="4.4"/>
<circle cx="635.6" cy="233.1" r="4.4"/>
<circle cx="635.8" cy="246.0" r="4.4"/>
<circle cx="635.4" cy="231.1" r="4.4"/>
<circle cx="635.4" cy="241.8" r="4.4"/>
<circle cx="635.3" cy="223.5" r="4.4"/>
<circle cx="635.4" cy="241.8" r="4.4"/>
<circle cx="635.7" cy="228.7" r="4.4"/>
<circle cx="635.6" cy="221.2" r="4.4"/>
<circle cx="635.3" cy="226.4" r="4.4"/>
<circle cx="635.8" cy="243.8" r="4.4"/>
<circle cx="635.1" cy="234.3" r="4.4"/>
<circle cx="635.6" cy="244.9" r="4.4"/>
<circle cx="635.6" cy="218.0" r="4.4"/>
<circle cx="635.9" cy="237.1" r="4.4"/>
<circle cx="641.5" cy="220.0" r="4.4"/>
<circle cx="641.5" cy="246.5" r="4.4"/>
<circle cx="641.4" cy="245.6" r="4.4"/>
<circle cx="641.1" cy="239.7" r="4.4"/>
<circle cx="641.8" cy="242.5" r="4.4"/>
<circle cx="641.6" cy="245.7" r="4.4"/>
<circle cx="641.9" cy="241.6" r="4.4"/>
<circle cx="641.8" cy="243.4" r="4.4"/>
<circle cx="641.9" cy="236.8" r="4.4"/>
<circle cx="641.3" cy="245.9" r="4.4"/>
<circle cx="641.9" cy="244.3" r="4.4"/>
<circle cx="641.7" cy="236.4" r="4.4"/>
<circle cx="641.3" cy="242.4" r="4.4"/>
<circle cx="641.6" cy="236.5" r="4.4"/>
<circle cx="647.5" cy="221.7" r="4.4"/>
<circle cx="647.5" cy="220.6" r="4.4"/>
<circle cx="647.2" cy="240.4" r="4.4"/>
<circle cx="647.6" cy="223.0" r="4.4"/>
<circle cx="647.5" cy="241.1" r="4.4"/>
<circle cx="647.6" cy="225.5" r="4.4"/>
<circle cx="647.5" cy="232.9" r="4.4"/>
<circle cx="647.2" cy="240.7" r="4.4"/>
<circle cx="647.5" cy="222.2" r="4.4"/>
<circle cx="647.5" cy="235.9" r="4.4"/>
<circle cx="647.8" cy="226.8" r="4.4"/>
<circle cx="647.4" cy="239.7" r="4.4"/>
<circle cx="653.6" cy="221.7" r="4.4"/>
<circle cx="653.6" cy="243.6" r="4.4"/>
<circle cx="653.7" cy="227.5" r="4.4"/>
<circle cx="654.0" cy="231.3" r="4.4"/>
<circle cx="653.4" cy="233.3" r="4.4"/>
<circle cx="654.0" cy="228.1" r="4.4"/>
<circle cx="653.9" cy="237.7" r="4.4"/>
<circle cx="653.3" cy="226.7" r="4.4"/>
<circle cx="654.0" cy="238.9" r="4.4"/>
<circle cx="653.9" cy="229.1" r="4.4"/>
<circle cx="653.3" cy="233.6" r="4.4"/>
<circle cx="653.7" cy="224.0" r="4.4"/>
<circle cx="659.6" cy="244.1" r="4.4"/>
<circle cx="659.7" cy="222.3" r="4.4"/>
<circle cx="659.6" cy="227.7" r="4.4"/>
<circle cx="659.9" cy="229.5" r="4.4"/>
<circle cx="659.5" cy="240.0" r="4.4"/>
<circle cx="659.2" cy="235.0" r="4.4"/>
<circle cx="659.4" cy="225.7" r="4.4"/>
<circle cx="659.7" cy="223.1" r="4.4"/>
<circle cx="659.4" cy="242.9" r="4.4"/>
<circle cx="665.7" cy="223.0" r="4.4"/>
<circle cx="665.7" cy="241.6" r="4.4"/>
<circle cx="665.3" cy="231.4" r="4.4"/>
<circle cx="665.7" cy="231.0" r="4.4"/>
<circle cx="665.4" cy="232.9" r="4.4"/>
<circle cx="665.8" cy="239.2" r="4.4"/>
<circle cx="665.3" cy="238.7" r="4.4"/>
<circle cx="665.7" cy="234.5" r="4.4"/>
<circle cx="665.7" cy="224.9" r="4.4"/>
<circle cx="671.7" cy="223.6" r="4.4"/>
<circle cx="671.7" cy="239.3" r="4.4"/>
<circle cx="671.8" cy="230.4" r="4.4"/>
<circle cx="671.7" cy="230.5" r="4.4"/>
<circle cx="672.0" cy="233.9" r="4.4"/>
<circle cx="672.0" cy="241.7" r="4.4"/>
<circle cx="672.0" cy="231.3" r="4.4"/>
<circle cx="671.5" cy="229.9" r="4.4"/>
<circle cx="677.7" cy="239.2" r="4.4"/>
<circle cx="678.0" cy="239.2" r="4.4"/>
<circle cx="677.7" cy="229.0" r="4.4"/>
<circle cx="677.5" cy="234.6" r="4.4"/>
<circle cx="678.0" cy="233.3" r="4.4"/>
<circle cx="683.8" cy="227.1" r="4.4"/>
<circle cx="683.8" cy="238.0" r="4.4"/>
<circle cx="683.9" cy="231.3" r="4.4"/>
<circle cx="683.6" cy="225.9" r="4.4"/>
<circle cx="683.5" cy="232.5" r="4.4"/>
<circle cx="683.4" cy="233.6" r="4.4"/>
<circle cx="689.8" cy="225.9" r="4.4"/>
<circle cx="690.1" cy="229.7" r="4.4"/>
<circle cx="690.2" cy="227.1" r="4.4"/>
<circle cx="690.2" cy="232.6" r="4.4"/>
<circle cx="695.9" cy="235.0" r="4.4"/>
<circle cx="696.0" cy="234.1" r="4.4"/>
<circle cx="696.0" cy="228.2" r="4.4"/>
<circle cx="695.6" cy="232.1" r="4.4"/>
</g>
<line x1="513.7" y1="235.4" x2="709.3" y2="231.8" stroke="#000" stroke-width="1.85"/>
<path d="M513.7 187.2V282.2M513.7 282.2h-5.3M513.7 266.4h-5.3M513.7 250.6h-5.3M513.7 234.7h-5.3M513.7 218.9h-5.3M513.7 203.0h-5.3M513.7 187.2h-5.3M520.7 284.4H701.9M520.7 284.4v4.4M550.9 284.4v4.4M581.1 284.4v4.4M611.3 284.4v4.4M641.5 284.4v4.4M671.7 284.4v4.4M701.9 284.4v4.4" stroke="#000" stroke-width="1.4" fill="none" stroke-linecap="square"/>
<text class="y" x="503.7" y="286.2">−3</text>
<text class="y" x="503.7" y="270.4">−2</text>
<text class="y" x="503.7" y="254.6">−1</text>
<text class="y" x="503.7" y="238.7">0</text>
<text class="y" x="503.7" y="222.9">1</text>
<text class="y" x="503.7" y="207.0">2</text>
<text class="y" x="503.7" y="191.2">3</text>
<text class="a" x="520.7" y="301.6">1.0</text>
<text class="a" x="550.9" y="301.6">1.5</text>
<text class="a" x="581.1" y="301.6">2.0</text>
<text class="a" x="611.3" y="301.6">2.5</text>
<text class="a" x="641.5" y="301.6">3.0</text>
<text class="a" x="671.7" y="301.6">3.5</text>
<text class="a" x="701.9" y="301.6">4.0</text>
<text class="t" x="611.3" y="168.85">Study 6</text>
<text class="l" x="647.7" y="195.0">r = 0.08</text>
<text class="l" x="647.7" y="206.9">N = 553</text>
<text class="l" x="647.7" y="218.7">p = 0.06</text>
<clipPath id="c6"><rect x="20.9" y="342.0" width="196" height="103.0"/></clipPath>
<g fill="#d2d2d2" clip-path="url(#c6)">
<circle cx="28.0" cy="381.7" r="4.4"/>
<circle cx="28.0" cy="387.5" r="4.4"/>
<circle cx="40.0" cy="379.7" r="4.4"/>
<circle cx="46.3" cy="372.5" r="4.4"/>
<circle cx="53.3" cy="379.7" r="4.4"/>
<circle cx="59.2" cy="379.2" r="4.4"/>
<circle cx="64.7" cy="375.0" r="4.4"/>
<circle cx="68.3" cy="388.3" r="4.4"/>
<circle cx="76.7" cy="384.2" r="4.4"/>
<circle cx="83.3" cy="381.7" r="4.4"/>
<circle cx="88.3" cy="372.0" r="4.4"/>
<circle cx="91.7" cy="382.5" r="4.4"/>
<circle cx="94.5" cy="363.0" r="4.4"/>
<circle cx="101.7" cy="380.0" r="4.4"/>
<circle cx="106.7" cy="374.7" r="4.4"/>
<circle cx="112.8" cy="363.0" r="4.4"/>
<circle cx="112.5" cy="383.3" r="4.4"/>
<circle cx="118.7" cy="377.0" r="4.4"/>
<circle cx="120.0" cy="386.7" r="4.4"/>
<circle cx="127.5" cy="377.0" r="4.4"/>
<circle cx="131.7" cy="377.0" r="4.4"/>
<circle cx="135.0" cy="388.3" r="4.4"/>
<circle cx="28.0" cy="402.5" r="4.4"/>
<circle cx="34.2" cy="410.0" r="4.4"/>
<circle cx="45.8" cy="410.0" r="4.4"/>
<circle cx="52.5" cy="405.8" r="4.4"/>
<circle cx="58.3" cy="419.7" r="4.4"/>
<circle cx="64.2" cy="410.0" r="4.4"/>
<circle cx="75.8" cy="407.5" r="4.4"/>
<circle cx="88.3" cy="410.0" r="4.4"/>
<circle cx="100.0" cy="412.0" r="4.4"/>
<circle cx="112.5" cy="415.0" r="4.4"/>
<circle cx="106.7" cy="406.7" r="4.4"/>
<circle cx="120.0" cy="405.0" r="4.4"/>
<circle cx="128.3" cy="403.3" r="4.4"/>
<circle cx="136.7" cy="407.5" r="4.4"/>
<circle cx="118.8" cy="377.0" r="4.4"/>
<circle cx="129.7" cy="377.0" r="4.4"/>
<circle cx="119.7" cy="386.7" r="4.4"/>
<circle cx="130.5" cy="388.3" r="4.4"/>
<circle cx="137.2" cy="388.3" r="4.4"/>
<circle cx="143.0" cy="374.2" r="4.4"/>
<circle cx="143.0" cy="379.2" r="4.4"/>
<circle cx="148.8" cy="376.7" r="4.4"/>
<circle cx="148.8" cy="388.3" r="4.4"/>
<circle cx="153.8" cy="379.7" r="4.4"/>
<circle cx="161.0" cy="385.8" r="4.4"/>
<circle cx="168.0" cy="380.0" r="4.4"/>
<circle cx="173.0" cy="390.8" r="4.4"/>
<circle cx="191.3" cy="379.2" r="4.4"/>
<circle cx="208.8" cy="388.7" r="4.4"/>
<circle cx="124.7" cy="404.2" r="4.4"/>
<circle cx="136.3" cy="407.5" r="4.4"/>
<circle cx="148.8" cy="402.5" r="4.4"/>
<circle cx="154.7" cy="407.5" r="4.4"/>
<circle cx="160.5" cy="410.0" r="4.4"/>
<circle cx="166.3" cy="405.8" r="4.4"/>
<circle cx="173.0" cy="402.5" r="4.4"/>
<circle cx="178.8" cy="400.8" r="4.4"/>
<circle cx="178.8" cy="405.0" r="4.4"/>
<circle cx="203.0" cy="400.8" r="4.4"/>
<circle cx="203.0" cy="408.0" r="4.4"/>
<circle cx="28.2" cy="386.6" r="4.4"/>
<circle cx="28.2" cy="400.6" r="4.4"/>
<circle cx="28.3" cy="391.9" r="4.4"/>
<circle cx="27.9" cy="395.2" r="4.4"/>
<circle cx="27.9" cy="391.1" r="4.4"/>
<circle cx="28.2" cy="394.5" r="4.4"/>
<circle cx="28.0" cy="395.0" r="4.4"/>
<circle cx="34.2" cy="391.3" r="4.4"/>
<circle cx="34.6" cy="398.5" r="4.4"/>
<circle cx="34.1" cy="395.2" r="4.4"/>
<circle cx="34.1" cy="398.5" r="4.4"/>
<circle cx="34.5" cy="399.3" r="4.4"/>
<circle cx="34.4" cy="400.9" r="4.4"/>
<circle cx="34.2" cy="407.0" r="4.4"/>
<circle cx="40.3" cy="382.6" r="4.4"/>
<circle cx="40.3" cy="405.8" r="4.4"/>
<circle cx="40.4" cy="387.2" r="4.4"/>
<circle cx="40.3" cy="398.8" r="4.4"/>
<circle cx="40.5" cy="389.5" r="4.4"/>
<circle cx="40.4" cy="395.5" r="4.4"/>
<circle cx="40.2" cy="406.4" r="4.4"/>
<circle cx="40.7" cy="383.6" r="4.4"/>
<circle cx="40.5" cy="402.7" r="4.4"/>
<circle cx="40.1" cy="402.0" r="4.4"/>
<circle cx="46.4" cy="384.2" r="4.4"/>
<circle cx="46.2" cy="386.0" r="4.4"/>
<circle cx="46.4" cy="390.5" r="4.4"/>
<circle cx="46.7" cy="400.2" r="4.4"/>
<circle cx="46.0" cy="397.4" r="4.4"/>
<circle cx="46.8" cy="390.7" r="4.4"/>
<circle cx="46.3" cy="398.6" r="4.4"/>
<circle cx="46.5" cy="387.6" r="4.4"/>
<circle cx="46.1" cy="406.0" r="4.4"/>
<circle cx="46.1" cy="396.6" r="4.4"/>
<circle cx="52.4" cy="406.9" r="4.4"/>
<circle cx="52.4" cy="404.6" r="4.4"/>
<circle cx="52.7" cy="400.3" r="4.4"/>
<circle cx="52.2" cy="403.4" r="4.4"/>
<circle cx="52.7" cy="386.9" r="4.4"/>
<circle cx="52.8" cy="399.8" r="4.4"/>
<circle cx="52.2" cy="398.6" r="4.4"/>
<circle cx="52.2" cy="400.1" r="4.4"/>
<circle cx="52.2" cy="396.3" r="4.4"/>
<circle cx="52.3" cy="405.4" r="4.4"/>
<circle cx="52.5" cy="395.3" r="4.4"/>
<circle cx="52.4" cy="390.6" r="4.4"/>
<circle cx="58.5" cy="405.3" r="4.4"/>
<circle cx="58.7" cy="398.8" r="4.4"/>
<circle cx="58.1" cy="387.1" r="4.4"/>
<circle cx="58.6" cy="401.3" r="4.4"/>
<circle cx="58.2" cy="398.5" r="4.4"/>
<circle cx="58.2" cy="396.4" r="4.4"/>
<circle cx="58.1" cy="393.2" r="4.4"/>
<circle cx="58.2" cy="397.8" r="4.4"/>
<circle cx="58.1" cy="402.6" r="4.4"/>
<circle cx="58.7" cy="400.7" r="4.4"/>
<circle cx="58.3" cy="390.7" r="4.4"/>
<circle cx="58.3" cy="391.3" r="4.4"/>
<circle cx="64.5" cy="388.0" r="4.4"/>
<circle cx="64.2" cy="387.0" r="4.4"/>
<circle cx="64.2" cy="398.8" r="4.4"/>
<circle cx="64.8" cy="393.0" r="4.4"/>
<circle cx="64.2" cy="402.4" r="4.4"/>
<circle cx="64.5" cy="399.8" r="4.4"/>
<circle cx="64.1" cy="403.3" r="4.4"/>
<circle cx="64.5" cy="405.3" r="4.4"/>
<circle cx="64.6" cy="394.4" r="4.4"/>
<circle cx="64.2" cy="396.1" r="4.4"/>
<circle cx="64.7" cy="405.0" r="4.4"/>
<circle cx="64.4" cy="393.6" r="4.4"/>
<circle cx="70.8" cy="406.5" r="4.4"/>
<circle cx="70.5" cy="397.4" r="4.4"/>
<circle cx="70.4" cy="392.0" r="4.4"/>
<circle cx="70.4" cy="399.6" r="4.4"/>
<circle cx="70.3" cy="398.1" r="4.4"/>
<circle cx="70.5" cy="390.7" r="4.4"/>
<circle cx="70.9" cy="388.6" r="4.4"/>
<circle cx="70.3" cy="394.0" r="4.4"/>
<circle cx="70.3" cy="402.0" r="4.4"/>
<circle cx="70.9" cy="400.9" r="4.4"/>
<circle cx="70.7" cy="402.7" r="4.4"/>
<circle cx="76.6" cy="387.7" r="4.4"/>
<circle cx="76.8" cy="388.6" r="4.4"/>
<circle cx="76.3" cy="397.1" r="4.4"/>
<circle cx="76.8" cy="387.0" r="4.4"/>
<circle cx="76.9" cy="389.2" r="4.4"/>
<circle cx="76.9" cy="390.0" r="4.4"/>
<circle cx="76.7" cy="402.5" r="4.4"/>
<circle cx="76.3" cy="399.3" r="4.4"/>
<circle cx="76.9" cy="401.1" r="4.4"/>
<circle cx="76.8" cy="398.8" r="4.4"/>
<circle cx="77.0" cy="392.4" r="4.4"/>
<circle cx="76.6" cy="392.6" r="4.4"/>
<circle cx="82.6" cy="386.8" r="4.4"/>
<circle cx="82.6" cy="388.9" r="4.4"/>
<circle cx="82.9" cy="405.7" r="4.4"/>
<circle cx="82.9" cy="392.2" r="4.4"/>
<circle cx="82.4" cy="398.1" r="4.4"/>
<circle cx="82.4" cy="403.5" r="4.4"/>
<circle cx="82.5" cy="390.0" r="4.4"/>
<circle cx="82.3" cy="392.5" r="4.4"/>
<circle cx="82.6" cy="403.9" r="4.4"/>
<circle cx="82.7" cy="391.6" r="4.4"/>
<circle cx="82.9" cy="404.6" r="4.4"/>
<circle cx="82.6" cy="390.7" r="4.4"/>
<circle cx="82.2" cy="384.9" r="4.4"/>
<circle cx="82.6" cy="394.0" r="4.4"/>
<circle cx="88.7" cy="386.3" r="4.4"/>
<circle cx="88.7" cy="407.5" r="4.4"/>
<circle cx="88.5" cy="394.6" r="4.4"/>
<circle cx="88.9" cy="395.1" r="4.4"/>
<circle cx="88.4" cy="406.3" r="4.4"/>
<circle cx="88.5" cy="404.2" r="4.4"/>
<circle cx="88.7" cy="398.1" r="4.4"/>
<circle cx="88.9" cy="385.0" r="4.4"/>
<circle cx="88.7" cy="405.5" r="4.4"/>
<circle cx="88.7" cy="391.0" r="4.4"/>
<circle cx="88.6" cy="395.3" r="4.4"/>
<circle cx="89.0" cy="385.6" r="4.4"/>
<circle cx="88.8" cy="394.2" r="4.4"/>
<circle cx="89.0" cy="395.7" r="4.4"/>
<circle cx="88.3" cy="399.3" r="4.4"/>
<circle cx="88.6" cy="392.0" r="4.4"/>
<circle cx="94.7" cy="384.7" r="4.4"/>
<circle cx="94.4" cy="401.1" r="4.4"/>
<circle cx="94.4" cy="393.7" r="4.4"/>
<circle cx="94.6" cy="401.3" r="4.4"/>
<circle cx="95.0" cy="399.1" r="4.4"/>
<circle cx="94.7" cy="402.2" r="4.4"/>
<circle cx="94.6" cy="405.5" r="4.4"/>
<circle cx="94.9" cy="399.6" r="4.4"/>
<circle cx="94.3" cy="404.8" r="4.4"/>
<circle cx="94.3" cy="386.8" r="4.4"/>
<circle cx="94.6" cy="393.2" r="4.4"/>
<circle cx="94.3" cy="388.4" r="4.4"/>
<circle cx="95.1" cy="388.5" r="4.4"/>
<circle cx="94.4" cy="402.9" r="4.4"/>
<circle cx="94.9" cy="396.4" r="4.4"/>
<circle cx="100.7" cy="385.7" r="4.4"/>
<circle cx="101.0" cy="399.6" r="4.4"/>
<circle cx="101.1" cy="396.5" r="4.4"/>
<circle cx="100.8" cy="402.3" r="4.4"/>
<circle cx="100.4" cy="395.5" r="4.4"/>
<circle cx="100.9" cy="392.8" r="4.4"/>
<circle cx="101.1" cy="393.5" r="4.4"/>
<circle cx="100.8" cy="398.5" r="4.4"/>
<circle cx="101.0" cy="398.1" r="4.4"/>
<circle cx="100.4" cy="393.0" r="4.4"/>
<circle cx="100.6" cy="403.8" r="4.4"/>
<circle cx="100.8" cy="388.7" r="4.4"/>
<circle cx="100.4" cy="403.7" r="4.4"/>
<circle cx="100.8" cy="393.4" r="4.4"/>
<circle cx="100.5" cy="397.2" r="4.4"/>
<circle cx="106.8" cy="385.6" r="4.4"/>
<circle cx="106.8" cy="405.6" r="4.4"/>
<circle cx="106.6" cy="400.5" r="4.4"/>
<circle cx="106.6" cy="390.5" r="4.4"/>
<circle cx="106.4" cy="396.2" r="4.4"/>
<circle cx="107.0" cy="396.2" r="4.4"/>
<circle cx="106.8" cy="397.7" r="4.4"/>
<circle cx="107.1" cy="400.0" r="4.4"/>
<circle cx="106.5" cy="405.7" r="4.4"/>
<circle cx="106.8" cy="400.2" r="4.4"/>
<circle cx="107.0" cy="387.4" r="4.4"/>
<circle cx="106.9" cy="387.7" r="4.4"/>
<circle cx="107.2" cy="402.9" r="4.4"/>
<circle cx="106.9" cy="386.7" r="4.4"/>
<circle cx="106.6" cy="390.1" r="4.4"/>
<circle cx="112.8" cy="385.2" r="4.4"/>
<circle cx="112.6" cy="389.1" r="4.4"/>
<circle cx="113.1" cy="397.3" r="4.4"/>
<circle cx="113.1" cy="398.5" r="4.4"/>
<circle cx="112.6" cy="392.2" r="4.4"/>
<circle cx="112.6" cy="389.5" r="4.4"/>
<circle cx="112.8" cy="390.8" r="4.4"/>
<circle cx="112.6" cy="396.7" r="4.4"/>
<circle cx="112.8" cy="390.2" r="4.4"/>
<circle cx="112.7" cy="396.3" r="4.4"/>
<circle cx="112.7" cy="395.3" r="4.4"/>
<circle cx="112.8" cy="395.8" r="4.4"/>
<circle cx="112.8" cy="389.9" r="4.4"/>
<circle cx="118.8" cy="386.3" r="4.4"/>
<circle cx="118.8" cy="404.3" r="4.4"/>
<circle cx="118.5" cy="395.2" r="4.4"/>
<circle cx="118.9" cy="393.5" r="4.4"/>
<circle cx="118.9" cy="400.3" r="4.4"/>
<circle cx="119.0" cy="395.3" r="4.4"/>
<circle cx="118.7" cy="400.6" r="4.4"/>
<circle cx="119.2" cy="390.2" r="4.4"/>
<circle cx="119.0" cy="402.2" r="4.4"/>
<circle cx="119.2" cy="399.1" r="4.4"/>
<circle cx="119.1" cy="387.0" r="4.4"/>
<circle cx="118.6" cy="386.7" r="4.4"/>
<circle cx="125.0" cy="400.1" r="4.4"/>
<circle cx="125.0" cy="404.0" r="4.4"/>
<circle cx="124.7" cy="389.2" r="4.4"/>
<circle cx="124.8" cy="399.4" r="4.4"/>
<circle cx="124.6" cy="396.5" r="4.4"/>
<circle cx="125.0" cy="400.3" r="4.4"/>
<circle cx="125.0" cy="388.2" r="4.4"/>
<circle cx="124.5" cy="392.4" r="4.4"/>
<circle cx="125.1" cy="388.5" r="4.4"/>
<circle cx="131.1" cy="395.1" r="4.4"/>
<circle cx="130.7" cy="394.4" r="4.4"/>
<circle cx="131.1" cy="401.1" r="4.4"/>
<circle cx="130.7" cy="398.8" r="4.4"/>
<circle cx="130.9" cy="395.3" r="4.4"/>
<circle cx="131.1" cy="390.9" r="4.4"/>
<circle cx="131.1" cy="401.5" r="4.4"/>
<circle cx="130.6" cy="389.4" r="4.4"/>
<circle cx="118.8" cy="389.4" r="4.4"/>
<circle cx="118.8" cy="403.6" r="4.4"/>
<circle cx="118.5" cy="389.6" r="4.4"/>
<circle cx="119.0" cy="401.4" r="4.4"/>
<circle cx="119.0" cy="398.3" r="4.4"/>
<circle cx="118.9" cy="393.7" r="4.4"/>
<circle cx="118.8" cy="391.1" r="4.4"/>
<circle cx="119.2" cy="392.8" r="4.4"/>
<circle cx="118.6" cy="397.0" r="4.4"/>
<circle cx="118.5" cy="394.0" r="4.4"/>
<circle cx="119.2" cy="399.6" r="4.4"/>
<circle cx="118.6" cy="391.0" r="4.4"/>
<circle cx="124.9" cy="389.3" r="4.4"/>
<circle cx="124.9" cy="403.7" r="4.4"/>
<circle cx="125.3" cy="398.1" r="4.4"/>
<circle cx="124.9" cy="405.0" r="4.4"/>
<circle cx="124.7" cy="404.5" r="4.4"/>
<circle cx="125.2" cy="389.5" r="4.4"/>
<circle cx="124.5" cy="394.9" r="4.4"/>
<circle cx="124.9" cy="396.6" r="4.4"/>
<circle cx="124.6" cy="390.9" r="4.4"/>
<circle cx="124.8" cy="398.2" r="4.4"/>
<circle cx="130.9" cy="403.1" r="4.4"/>
<circle cx="131.3" cy="398.4" r="4.4"/>
<circle cx="131.1" cy="393.7" r="4.4"/>
<circle cx="130.8" cy="401.1" r="4.4"/>
<circle cx="130.8" cy="393.4" r="4.4"/>
<circle cx="130.8" cy="396.5" r="4.4"/>
<circle cx="130.6" cy="391.7" r="4.4"/>
<circle cx="130.6" cy="399.0" r="4.4"/>
<circle cx="131.3" cy="399.4" r="4.4"/>
<circle cx="137.0" cy="389.8" r="4.4"/>
<circle cx="137.0" cy="404.1" r="4.4"/>
<circle cx="137.3" cy="392.1" r="4.4"/>
<circle cx="137.1" cy="388.8" r="4.4"/>
<circle cx="137.0" cy="388.7" r="4.4"/>
<circle cx="137.2" cy="396.4" r="4.4"/>
<circle cx="136.9" cy="394.7" r="4.4"/>
<circle cx="136.8" cy="396.9" r="4.4"/>
<circle cx="136.7" cy="401.3" r="4.4"/>
<circle cx="143.0" cy="389.6" r="4.4"/>
<circle cx="143.1" cy="402.1" r="4.4"/>
<circle cx="142.9" cy="396.3" r="4.4"/>
<circle cx="142.7" cy="390.9" r="4.4"/>
<circle cx="142.7" cy="394.8" r="4.4"/>
<circle cx="143.0" cy="400.8" r="4.4"/>
<circle cx="143.4" cy="399.8" r="4.4"/>
<circle cx="142.8" cy="393.6" r="4.4"/>
<circle cx="149.1" cy="389.4" r="4.4"/>
<circle cx="149.1" cy="404.9" r="4.4"/>
<circle cx="149.1" cy="398.5" r="4.4"/>
<circle cx="149.0" cy="390.2" r="4.4"/>
<circle cx="149.0" cy="390.5" r="4.4"/>
<circle cx="148.9" cy="401.5" r="4.4"/>
<circle cx="149.4" cy="402.3" r="4.4"/>
<circle cx="148.8" cy="399.4" r="4.4"/>
<circle cx="154.9" cy="398.2" r="4.4"/>
<circle cx="155.0" cy="402.5" r="4.4"/>
<circle cx="155.4" cy="402.8" r="4.4"/>
<circle cx="154.7" cy="398.1" r="4.4"/>
<circle cx="155.3" cy="396.0" r="4.4"/>
<circle cx="155.2" cy="403.3" r="4.4"/>
<circle cx="161.1" cy="389.9" r="4.4"/>
<circle cx="161.4" cy="391.5" r="4.4"/>
<circle cx="160.8" cy="401.8" r="4.4"/>
<circle cx="160.9" cy="395.5" r="4.4"/>
<circle cx="161.5" cy="394.9" r="4.4"/>
<circle cx="161.3" cy="394.6" r="4.4"/>
<circle cx="167.2" cy="402.8" r="4.4"/>
<circle cx="167.3" cy="398.7" r="4.4"/>
<circle cx="167.0" cy="396.1" r="4.4"/>
<circle cx="167.3" cy="400.2" r="4.4"/>
<circle cx="166.8" cy="396.2" r="4.4"/>
<circle cx="173.2" cy="402.1" r="4.4"/>
<circle cx="173.3" cy="395.4" r="4.4"/>
<circle cx="173.2" cy="401.0" r="4.4"/>
</g>
<line x1="20.9" y1="394.3" x2="216.5" y2="393.8" stroke="#000" stroke-width="1.85"/>
<path d="M20.9 347.2V442.3M20.9 442.3h-5.3M20.9 426.4h-5.3M20.9 410.6h-5.3M20.9 394.7h-5.3M20.9 378.9h-5.3M20.9 363.0h-5.3M20.9 347.2h-5.3M28.2 444.4H209.4M28.2 444.4v4.4M58.5 444.4v4.4M88.7 444.4v4.4M118.8 444.4v4.4M149.1 444.4v4.4M179.2 444.4v4.4M209.4 444.4v4.4" stroke="#000" stroke-width="1.4" fill="none" stroke-linecap="square"/>
<text class="y" x="10.9" y="446.3">−3</text>
<text class="y" x="10.9" y="430.4">−2</text>
<text class="y" x="10.9" y="414.6">−1</text>
<text class="y" x="10.9" y="398.7">0</text>
<text class="y" x="10.9" y="382.9">1</text>
<text class="y" x="10.9" y="367.0">2</text>
<text class="y" x="10.9" y="351.2">3</text>
<text class="a" x="28.2" y="461.6">1.0</text>
<text class="a" x="58.5" y="461.6">1.5</text>
<text class="a" x="88.7" y="461.6">2.0</text>
<text class="a" x="118.8" y="461.6">2.5</text>
<text class="a" x="149.1" y="461.6">3.0</text>
<text class="a" x="179.2" y="461.6">3.5</text>
<text class="a" x="209.4" y="461.6">4.0</text>
<text class="t" x="118.0" y="328.85">Study 7</text>
<text class="l" x="155.4" y="355.0">r = 0.02</text>
<text class="l" x="155.4" y="366.9">N = 311</text>
<text class="l" x="155.4" y="378.7">p = 0.72</text>
<clipPath id="c7"><rect x="267.0" y="342.0" width="196" height="103.0"/></clipPath>
<g fill="#d2d2d2" clip-path="url(#c7)">
<circle cx="274.3" cy="363.3" r="4.4"/>
<circle cx="274.3" cy="380.8" r="4.4"/>
<circle cx="286.0" cy="381.7" r="4.4"/>
<circle cx="292.7" cy="379.7" r="4.4"/>
<circle cx="298.5" cy="363.3" r="4.4"/>
<circle cx="298.5" cy="375.8" r="4.4"/>
<circle cx="304.3" cy="380.0" r="4.4"/>
<circle cx="310.7" cy="375.8" r="4.4"/>
<circle cx="322.7" cy="380.3" r="4.4"/>
<circle cx="334.3" cy="360.8" r="4.4"/>
<circle cx="334.3" cy="381.7" r="4.4"/>
<circle cx="340.2" cy="378.7" r="4.4"/>
<circle cx="346.8" cy="372.0" r="4.4"/>
<circle cx="352.7" cy="374.2" r="4.4"/>
<circle cx="359.3" cy="376.7" r="4.4"/>
<circle cx="371.0" cy="380.3" r="4.4"/>
<circle cx="382.7" cy="380.8" r="4.4"/>
<circle cx="274.3" cy="398.7" r="4.4"/>
<circle cx="280.2" cy="405.8" r="4.4"/>
<circle cx="280.7" cy="417.0" r="4.4"/>
<circle cx="291.0" cy="408.3" r="4.4"/>
<circle cx="298.5" cy="410.3" r="4.4"/>
<circle cx="310.2" cy="413.3" r="4.4"/>
<circle cx="321.3" cy="414.2" r="4.4"/>
<circle cx="316.0" cy="405.0" r="4.4"/>
<circle cx="327.7" cy="406.7" r="4.4"/>
<circle cx="334.3" cy="413.0" r="4.4"/>
<circle cx="341.0" cy="415.8" r="4.4"/>
<circle cx="346.8" cy="421.7" r="4.4"/>
<circle cx="349.3" cy="410.8" r="4.4"/>
<circle cx="354.3" cy="407.5" r="4.4"/>
<circle cx="364.7" cy="420.3" r="4.4"/>
<circle cx="364.7" cy="427.5" r="4.4"/>
<circle cx="371.0" cy="409.7" r="4.4"/>
<circle cx="376.8" cy="410.8" r="4.4"/>
<circle cx="382.7" cy="409.2" r="4.4"/>
<circle cx="364.8" cy="380.8" r="4.4"/>
<circle cx="371.5" cy="380.0" r="4.4"/>
<circle cx="382.3" cy="380.8" r="4.4"/>
<circle cx="389.0" cy="380.8" r="4.4"/>
<circle cx="394.8" cy="370.8" r="4.4"/>
<circle cx="394.8" cy="380.0" r="4.4"/>
<circle cx="394.8" cy="386.7" r="4.4"/>
<circle cx="400.7" cy="392.5" r="4.4"/>
<circle cx="407.3" cy="372.5" r="4.4"/>
<circle cx="413.2" cy="383.3" r="4.4"/>
<circle cx="419.0" cy="380.0" r="4.4"/>
<circle cx="424.8" cy="384.2" r="4.4"/>
<circle cx="424.8" cy="390.8" r="4.4"/>
<circle cx="431.5" cy="395.8" r="4.4"/>
<circle cx="449.5" cy="398.7" r="4.4"/>
<circle cx="364.8" cy="420.8" r="4.4"/>
<circle cx="364.8" cy="426.7" r="4.4"/>
<circle cx="370.7" cy="409.2" r="4.4"/>
<circle cx="377.0" cy="410.8" r="4.4"/>
<circle cx="383.2" cy="410.0" r="4.4"/>
<circle cx="389.0" cy="408.3" r="4.4"/>
<circle cx="394.8" cy="400.0" r="4.4"/>
<circle cx="400.7" cy="406.3" r="4.4"/>
<circle cx="407.0" cy="405.0" r="4.4"/>
<circle cx="419.0" cy="403.3" r="4.4"/>
<circle cx="455.3" cy="412.5" r="4.4"/>
<circle cx="280.2" cy="403.3" r="4.4"/>
<circle cx="280.6" cy="399.3" r="4.4"/>
<circle cx="280.0" cy="396.8" r="4.4"/>
<circle cx="280.2" cy="386.6" r="4.4"/>
<circle cx="280.2" cy="385.1" r="4.4"/>
<circle cx="279.9" cy="399.5" r="4.4"/>
<circle cx="280.1" cy="393.4" r="4.4"/>
<circle cx="280.2" cy="395.1" r="4.4"/>
<circle cx="286.3" cy="381.4" r="4.4"/>
<circle cx="286.3" cy="403.7" r="4.4"/>
<circle cx="286.2" cy="399.0" r="4.4"/>
<circle cx="286.4" cy="388.8" r="4.4"/>
<circle cx="286.3" cy="385.9" r="4.4"/>
<circle cx="285.9" cy="388.8" r="4.4"/>
<circle cx="286.6" cy="390.9" r="4.4"/>
<circle cx="286.6" cy="387.1" r="4.4"/>
<circle cx="286.3" cy="394.1" r="4.4"/>
<circle cx="292.3" cy="406.5" r="4.4"/>
<circle cx="292.5" cy="398.2" r="4.4"/>
<circle cx="292.0" cy="390.1" r="4.4"/>
<circle cx="292.7" cy="388.0" r="4.4"/>
<circle cx="292.1" cy="401.1" r="4.4"/>
<circle cx="292.0" cy="383.7" r="4.4"/>
<circle cx="292.0" cy="381.6" r="4.4"/>
<circle cx="292.6" cy="391.8" r="4.4"/>
<circle cx="292.1" cy="393.3" r="4.4"/>
<circle cx="292.2" cy="394.2" r="4.4"/>
<circle cx="298.4" cy="381.0" r="4.4"/>
<circle cx="298.7" cy="396.1" r="4.4"/>
<circle cx="298.1" cy="399.5" r="4.4"/>
<circle cx="298.5" cy="404.5" r="4.4"/>
<circle cx="298.6" cy="401.8" r="4.4"/>
<circle cx="298.2" cy="393.1" r="4.4"/>
<circle cx="298.2" cy="395.9" r="4.4"/>
<circle cx="298.1" cy="400.2" r="4.4"/>
<circle cx="298.3" cy="405.0" r="4.4"/>
<circle cx="298.4" cy="383.1" r="4.4"/>
<circle cx="298.2" cy="398.2" r="4.4"/>
<circle cx="298.0" cy="398.3" r="4.4"/>
<circle cx="304.4" cy="381.2" r="4.4"/>
<circle cx="304.4" cy="407.9" r="4.4"/>
<circle cx="304.8" cy="397.4" r="4.4"/>
<circle cx="304.1" cy="396.5" r="4.4"/>
<circle cx="304.3" cy="395.3" r="4.4"/>
<circle cx="304.3" cy="385.5" r="4.4"/>
<circle cx="304.7" cy="395.4" r="4.4"/>
<circle cx="304.2" cy="394.3" r="4.4"/>
<circle cx="304.8" cy="396.7" r="4.4"/>
<circle cx="304.6" cy="392.2" r="4.4"/>
<circle cx="304.1" cy="393.5" r="4.4"/>
<circle cx="304.1" cy="407.4" r="4.4"/>
<circle cx="304.5" cy="392.0" r="4.4"/>
<circle cx="304.1" cy="380.6" r="4.4"/>
<circle cx="310.4" cy="379.5" r="4.4"/>
<circle cx="310.4" cy="409.8" r="4.4"/>
<circle cx="310.6" cy="394.9" r="4.4"/>
<circle cx="310.4" cy="391.5" r="4.4"/>
<circle cx="310.3" cy="380.3" r="4.4"/>
<circle cx="310.4" cy="395.9" r="4.4"/>
<circle cx="310.1" cy="403.1" r="4.4"/>
<circle cx="310.5" cy="391.4" r="4.4"/>
<circle cx="310.4" cy="406.9" r="4.4"/>
<circle cx="310.1" cy="396.4" r="4.4"/>
<circle cx="310.4" cy="390.2" r="4.4"/>
<circle cx="310.2" cy="392.2" r="4.4"/>
<circle cx="310.5" cy="386.3" r="4.4"/>
<circle cx="310.0" cy="393.9" r="4.4"/>
<circle cx="310.8" cy="393.4" r="4.4"/>
<circle cx="310.5" cy="396.4" r="4.4"/>
<circle cx="316.5" cy="382.3" r="4.4"/>
<circle cx="316.5" cy="406.0" r="4.4"/>
<circle cx="316.8" cy="397.8" r="4.4"/>
<circle cx="316.2" cy="385.4" r="4.4"/>
<circle cx="316.3" cy="401.9" r="4.4"/>
<circle cx="316.6" cy="386.7" r="4.4"/>
<circle cx="316.8" cy="406.1" r="4.4"/>
<circle cx="316.6" cy="392.4" r="4.4"/>
<circle cx="316.5" cy="387.1" r="4.4"/>
<circle cx="316.5" cy="405.8" r="4.4"/>
<circle cx="316.1" cy="400.9" r="4.4"/>
<circle cx="316.7" cy="387.2" r="4.4"/>
<circle cx="316.2" cy="393.9" r="4.4"/>
<circle cx="316.7" cy="408.6" r="4.4"/>
<circle cx="316.7" cy="394.1" r="4.4"/>
<circle cx="322.5" cy="383.8" r="4.4"/>
<circle cx="322.5" cy="410.9" r="4.4"/>
<circle cx="322.9" cy="406.7" r="4.4"/>
<circle cx="322.3" cy="401.7" r="4.4"/>
<circle cx="322.8" cy="403.0" r="4.4"/>
<circle cx="322.4" cy="381.7" r="4.4"/>
<circle cx="322.4" cy="400.9" r="4.4"/>
<circle cx="322.9" cy="384.9" r="4.4"/>
<circle cx="322.2" cy="386.6" r="4.4"/>
<circle cx="322.2" cy="382.6" r="4.4"/>
<circle cx="322.5" cy="385.0" r="4.4"/>
<circle cx="322.6" cy="401.5" r="4.4"/>
<circle cx="322.8" cy="394.3" r="4.4"/>
<circle cx="322.2" cy="390.6" r="4.4"/>
<circle cx="322.9" cy="388.0" r="4.4"/>
<circle cx="322.4" cy="407.9" r="4.4"/>
<circle cx="328.6" cy="381.6" r="4.4"/>
<circle cx="328.4" cy="391.6" r="4.4"/>
<circle cx="328.4" cy="406.0" r="4.4"/>
<circle cx="328.7" cy="389.9" r="4.4"/>
<circle cx="328.4" cy="395.4" r="4.4"/>
<circle cx="328.5" cy="401.5" r="4.4"/>
<circle cx="328.5" cy="404.5" r="4.4"/>
<circle cx="328.3" cy="397.4" r="4.4"/>
<circle cx="328.4" cy="390.4" r="4.4"/>
<circle cx="328.2" cy="405.7" r="4.4"/>
<circle cx="328.7" cy="411.8" r="4.4"/>
<circle cx="328.8" cy="401.4" r="4.4"/>
<circle cx="328.9" cy="385.5" r="4.4"/>
<circle cx="328.7" cy="392.0" r="4.4"/>
<circle cx="328.9" cy="398.4" r="4.4"/>
<circle cx="334.6" cy="412.0" r="4.4"/>
<circle cx="334.8" cy="388.6" r="4.4"/>
<circle cx="334.2" cy="400.2" r="4.4"/>
<circle cx="334.7" cy="409.5" r="4.4"/>
<circle cx="334.5" cy="383.7" r="4.4"/>
<circle cx="334.9" cy="412.3" r="4.4"/>
<circle cx="334.9" cy="388.6" r="4.4"/>
<circle cx="334.6" cy="381.6" r="4.4"/>
<circle cx="334.7" cy="383.9" r="4.4"/>
<circle cx="334.6" cy="393.5" r="4.4"/>
<circle cx="334.6" cy="395.6" r="4.4"/>
<circle cx="334.4" cy="406.1" r="4.4"/>
<circle cx="334.6" cy="391.2" r="4.4"/>
<circle cx="334.7" cy="398.3" r="4.4"/>
<circle cx="334.2" cy="405.4" r="4.4"/>
<circle cx="334.5" cy="405.3" r="4.4"/>
<circle cx="334.8" cy="407.6" r="4.4"/>
<circle cx="340.6" cy="378.4" r="4.4"/>
<circle cx="340.6" cy="412.8" r="4.4"/>
<circle cx="340.7" cy="390.4" r="4.4"/>
<circle cx="341.0" cy="404.3" r="4.4"/>
<circle cx="340.8" cy="399.9" r="4.4"/>
<circle cx="341.0" cy="408.7" r="4.4"/>
<circle cx="340.8" cy="393.8" r="4.4"/>
<circle cx="340.4" cy="386.2" r="4.4"/>
<circle cx="340.5" cy="396.3" r="4.4"/>
<circle cx="340.9" cy="387.0" r="4.4"/>
<circle cx="340.5" cy="406.6" r="4.4"/>
<circle cx="340.4" cy="392.2" r="4.4"/>
<circle cx="340.8" cy="392.0" r="4.4"/>
<circle cx="340.3" cy="404.8" r="4.4"/>
<circle cx="340.4" cy="387.0" r="4.4"/>
<circle cx="340.7" cy="386.1" r="4.4"/>
<circle cx="340.5" cy="405.8" r="4.4"/>
<circle cx="340.9" cy="379.5" r="4.4"/>
<circle cx="340.4" cy="394.0" r="4.4"/>
<circle cx="340.9" cy="401.6" r="4.4"/>
<circle cx="346.7" cy="410.8" r="4.4"/>
<circle cx="346.6" cy="383.3" r="4.4"/>
<circle cx="346.6" cy="382.2" r="4.4"/>
<circle cx="346.7" cy="380.4" r="4.4"/>
<circle cx="346.6" cy="384.0" r="4.4"/>
<circle cx="346.4" cy="386.9" r="4.4"/>
<circle cx="346.4" cy="410.6" r="4.4"/>
<circle cx="346.5" cy="400.5" r="4.4"/>
<circle cx="347.0" cy="386.2" r="4.4"/>
<circle cx="346.4" cy="385.1" r="4.4"/>
<circle cx="346.9" cy="396.8" r="4.4"/>
<circle cx="346.4" cy="396.4" r="4.4"/>
<circle cx="346.9" cy="377.6" r="4.4"/>
<circle cx="346.8" cy="392.2" r="4.4"/>
<circle cx="346.5" cy="395.6" r="4.4"/>
<circle cx="347.0" cy="403.2" r="4.4"/>
<circle cx="346.3" cy="381.5" r="4.4"/>
<circle cx="346.7" cy="400.4" r="4.4"/>
<circle cx="346.7" cy="392.9" r="4.4"/>
<circle cx="352.4" cy="406.1" r="4.4"/>
<circle cx="352.4" cy="385.8" r="4.4"/>
<circle cx="352.9" cy="385.3" r="4.4"/>
<circle cx="352.8" cy="383.3" r="4.4"/>
<circle cx="352.5" cy="409.4" r="4.4"/>
<circle cx="352.3" cy="390.8" r="4.4"/>
<circle cx="352.4" cy="385.3" r="4.4"/>
<circle cx="352.5" cy="395.6" r="4.4"/>
<circle cx="352.5" cy="376.9" r="4.4"/>
<circle cx="352.7" cy="406.9" r="4.4"/>
<circle cx="352.5" cy="382.6" r="4.4"/>
<circle cx="352.9" cy="385.4" r="4.4"/>
<circle cx="353.0" cy="391.2" r="4.4"/>
<circle cx="352.8" cy="385.4" r="4.4"/>
<circle cx="352.7" cy="410.2" r="4.4"/>
<circle cx="352.8" cy="391.4" r="4.4"/>
<circle cx="358.8" cy="379.4" r="4.4"/>
<circle cx="358.9" cy="383.3" r="4.4"/>
<circle cx="359.1" cy="380.2" r="4.4"/>
<circle cx="358.7" cy="381.1" r="4.4"/>
<circle cx="358.5" cy="382.3" r="4.4"/>
<circle cx="358.5" cy="399.4" r="4.4"/>
<circle cx="358.9" cy="394.9" r="4.4"/>
<circle cx="358.8" cy="403.4" r="4.4"/>
<circle cx="358.8" cy="400.2" r="4.4"/>
<circle cx="359.2" cy="392.8" r="4.4"/>
<circle cx="358.5" cy="408.2" r="4.4"/>
<circle cx="359.0" cy="395.7" r="4.4"/>
<circle cx="359.0" cy="405.7" r="4.4"/>
<circle cx="358.5" cy="388.1" r="4.4"/>
<circle cx="358.8" cy="387.1" r="4.4"/>
<circle cx="358.7" cy="382.2" r="4.4"/>
<circle cx="359.1" cy="386.3" r="4.4"/>
<circle cx="364.7" cy="383.1" r="4.4"/>
<circle cx="364.8" cy="385.3" r="4.4"/>
<circle cx="364.5" cy="379.7" r="4.4"/>
<circle cx="365.2" cy="386.2" r="4.4"/>
<circle cx="364.6" cy="391.8" r="4.4"/>
<circle cx="364.9" cy="409.3" r="4.4"/>
<circle cx="364.7" cy="404.0" r="4.4"/>
<circle cx="364.7" cy="399.2" r="4.4"/>
<circle cx="364.8" cy="387.2" r="4.4"/>
<circle cx="365.0" cy="394.8" r="4.4"/>
<circle cx="364.8" cy="407.4" r="4.4"/>
<circle cx="365.0" cy="390.0" r="4.4"/>
<circle cx="364.9" cy="405.2" r="4.4"/>
<circle cx="365.0" cy="383.9" r="4.4"/>
<circle cx="370.8" cy="381.0" r="4.4"/>
<circle cx="370.8" cy="407.2" r="4.4"/>
<circle cx="370.5" cy="396.4" r="4.4"/>
<circle cx="371.2" cy="387.8" r="4.4"/>
<circle cx="371.2" cy="393.0" r="4.4"/>
<circle cx="371.2" cy="392.9" r="4.4"/>
<circle cx="370.6" cy="385.4" r="4.4"/>
<circle cx="370.6" cy="385.5" r="4.4"/>
<circle cx="370.7" cy="400.5" r="4.4"/>
<circle cx="370.9" cy="391.1" r="4.4"/>
<circle cx="370.9" cy="390.2" r="4.4"/>
<circle cx="370.8" cy="390.3" r="4.4"/>
<circle cx="370.9" cy="391.9" r="4.4"/>
<circle cx="371.0" cy="387.1" r="4.4"/>
<circle cx="376.9" cy="381.3" r="4.4"/>
<circle cx="376.9" cy="407.6" r="4.4"/>
<circle cx="376.9" cy="399.4" r="4.4"/>
<circle cx="377.0" cy="405.8" r="4.4"/>
<circle cx="376.5" cy="401.4" r="4.4"/>
<circle cx="376.9" cy="391.2" r="4.4"/>
<circle cx="376.9" cy="398.8" r="4.4"/>
<circle cx="376.8" cy="384.2" r="4.4"/>
<circle cx="376.7" cy="388.5" r="4.4"/>
<circle cx="376.9" cy="400.0" r="4.4"/>
<circle cx="376.9" cy="398.8" r="4.4"/>
<circle cx="376.5" cy="406.7" r="4.4"/>
<circle cx="376.7" cy="402.7" r="4.4"/>
<circle cx="364.8" cy="406.3" r="4.4"/>
<circle cx="364.8" cy="403.3" r="4.4"/>
<circle cx="364.5" cy="390.0" r="4.4"/>
<circle cx="364.5" cy="385.1" r="4.4"/>
<circle cx="364.6" cy="399.8" r="4.4"/>
<circle cx="364.8" cy="405.5" r="4.4"/>
<circle cx="364.5" cy="383.1" r="4.4"/>
<circle cx="365.1" cy="395.5" r="4.4"/>
<circle cx="365.2" cy="394.8" r="4.4"/>
<circle cx="364.8" cy="382.4" r="4.4"/>
<circle cx="365.2" cy="387.0" r="4.4"/>
<circle cx="365.1" cy="392.7" r="4.4"/>
<circle cx="364.9" cy="402.1" r="4.4"/>
<circle cx="370.8" cy="383.8" r="4.4"/>
<circle cx="370.8" cy="407.7" r="4.4"/>
<circle cx="370.7" cy="389.1" r="4.4"/>
<circle cx="370.5" cy="386.8" r="4.4"/>
<circle cx="370.8" cy="398.1" r="4.4"/>
<circle cx="371.0" cy="385.3" r="4.4"/>
<circle cx="370.7" cy="395.1" r="4.4"/>
<circle cx="370.9" cy="391.9" r="4.4"/>
<circle cx="370.9" cy="405.8" r="4.4"/>
<circle cx="371.0" cy="403.0" r="4.4"/>
<circle cx="371.2" cy="402.6" r="4.4"/>
<circle cx="370.9" cy="394.0" r="4.4"/>
<circle cx="370.9" cy="392.0" r="4.4"/>
<circle cx="376.9" cy="407.9" r="4.4"/>
<circle cx="376.6" cy="393.9" r="4.4"/>
<circle cx="377.1" cy="390.0" r="4.4"/>
<circle cx="376.8" cy="399.6" r="4.4"/>
<circle cx="377.0" cy="386.3" r="4.4"/>
<circle cx="376.8" cy="394.3" r="4.4"/>
<circle cx="376.8" cy="396.6" r="4.4"/>
<circle cx="376.6" cy="399.6" r="4.4"/>
<circle cx="377.2" cy="391.5" r="4.4"/>
<circle cx="377.1" cy="404.3" r="4.4"/>
<circle cx="376.6" cy="386.5" r="4.4"/>
<circle cx="377.0" cy="402.6" r="4.4"/>
<circle cx="382.9" cy="382.3" r="4.4"/>
<circle cx="383.2" cy="392.2" r="4.4"/>
<circle cx="383.2" cy="393.1" r="4.4"/>
<circle cx="383.0" cy="400.2" r="4.4"/>
<circle cx="383.1" cy="397.4" r="4.4"/>
<circle cx="382.7" cy="395.1" r="4.4"/>
<circle cx="383.1" cy="389.2" r="4.4"/>
<circle cx="383.3" cy="390.0" r="4.4"/>
<circle cx="382.8" cy="386.3" r="4.4"/>
<circle cx="382.9" cy="399.0" r="4.4"/>
<circle cx="383.3" cy="391.1" r="4.4"/>
<circle cx="389.2" cy="385.5" r="4.4"/>
<circle cx="389.0" cy="385.3" r="4.4"/>
<circle cx="388.6" cy="390.0" r="4.4"/>
<circle cx="388.7" cy="389.6" r="4.4"/>
<circle cx="389.1" cy="395.9" r="4.4"/>
<circle cx="389.1" cy="391.4" r="4.4"/>
<circle cx="389.2" cy="390.6" r="4.4"/>
<circle cx="389.1" cy="382.5" r="4.4"/>
<circle cx="388.6" cy="404.6" r="4.4"/>
<circle cx="395.0" cy="384.3" r="4.4"/>
<circle cx="395.0" cy="399.1" r="4.4"/>
<circle cx="395.1" cy="398.3" r="4.4"/>
<circle cx="394.8" cy="393.2" r="4.4"/>
<circle cx="395.2" cy="398.6" r="4.4"/>
<circle cx="395.3" cy="393.6" r="4.4"/>
<circle cx="394.7" cy="391.7" r="4.4"/>
<circle cx="395.3" cy="386.2" r="4.4"/>
<circle cx="401.0" cy="393.9" r="4.4"/>
<circle cx="401.3" cy="398.2" r="4.4"/>
<circle cx="401.3" cy="397.9" r="4.4"/>
<circle cx="400.9" cy="393.4" r="4.4"/>
<circle cx="407.1" cy="389.9" r="4.4"/>
<circle cx="406.9" cy="392.9" r="4.4"/>
<circle cx="407.1" cy="391.8" r="4.4"/>
<circle cx="406.7" cy="397.1" r="4.4"/>
<circle cx="406.8" cy="398.7" r="4.4"/>
<circle cx="413.1" cy="401.1" r="4.4"/>
<circle cx="413.3" cy="389.9" r="4.4"/>
<circle cx="413.2" cy="387.4" r="4.4"/>
<circle cx="413.4" cy="398.6" r="4.4"/>
<circle cx="419.2" cy="385.1" r="4.4"/>
<circle cx="419.2" cy="399.5" r="4.4"/>
<circle cx="419.5" cy="388.1" r="4.4"/>
<circle cx="418.9" cy="392.9" r="4.4"/>
<circle cx="419.3" cy="387.2" r="4.4"/>
<circle cx="425.2" cy="386.3" r="4.4"/>
<circle cx="425.5" cy="397.4" r="4.4"/>
<circle cx="425.3" cy="387.7" r="4.4"/>
<circle cx="424.8" cy="395.1" r="4.4"/>
<circle cx="431.2" cy="394.3" r="4.4"/>
<circle cx="431.2" cy="395.9" r="4.4"/>
</g>
<line x1="267.0" y1="394.5" x2="462.6" y2="394.2" stroke="#000" stroke-width="1.85"/>
<path d="M267.0 347.2V442.3M267.0 442.3h-5.3M267.0 426.4h-5.3M267.0 410.6h-5.3M267.0 394.7h-5.3M267.0 378.9h-5.3M267.0 363.0h-5.3M267.0 347.2h-5.3M274.2 444.4H455.4M274.2 444.4v4.4M304.4 444.4v4.4M334.6 444.4v4.4M364.8 444.4v4.4M395.0 444.4v4.4M425.2 444.4v4.4M455.4 444.4v4.4" stroke="#000" stroke-width="1.4" fill="none" stroke-linecap="square"/>
<text class="y" x="257.0" y="446.3">−3</text>
<text class="y" x="257.0" y="430.4">−2</text>
<text class="y" x="257.0" y="414.6">−1</text>
<text class="y" x="257.0" y="398.7">0</text>
<text class="y" x="257.0" y="382.9">1</text>
<text class="y" x="257.0" y="367.0">2</text>
<text class="y" x="257.0" y="351.2">3</text>
<text class="a" x="274.2" y="461.6">1.0</text>
<text class="a" x="304.4" y="461.6">1.5</text>
<text class="a" x="334.6" y="461.6">2.0</text>
<text class="a" x="364.8" y="461.6">2.5</text>
<text class="a" x="395.0" y="461.6">3.0</text>
<text class="a" x="425.2" y="461.6">3.5</text>
<text class="a" x="455.4" y="461.6">4.0</text>
<text class="t" x="364.8" y="328.85">Study 8</text>
<text class="l" x="401.3" y="355.0">r = 0.02</text>
<text class="l" x="401.3" y="366.9">N = 365</text>
<text class="l" x="401.3" y="378.7">p = 0.77</text>
<clipPath id="c8"><rect x="513.7" y="342.0" width="196" height="103.0"/></clipPath>
<g fill="#d2d2d2" clip-path="url(#c8)">
<circle cx="520.7" cy="369.7" r="4.4"/>
<circle cx="520.3" cy="381.7" r="4.4"/>
<circle cx="526.7" cy="378.0" r="4.4"/>
<circle cx="538.7" cy="375.0" r="4.4"/>
<circle cx="532.8" cy="383.3" r="4.4"/>
<circle cx="550.3" cy="380.0" r="4.4"/>
<circle cx="557.0" cy="377.5" r="4.4"/>
<circle cx="562.8" cy="385.8" r="4.4"/>
<circle cx="568.7" cy="389.2" r="4.4"/>
<circle cx="574.5" cy="385.8" r="4.4"/>
<circle cx="580.3" cy="383.3" r="4.4"/>
<circle cx="587.0" cy="380.8" r="4.4"/>
<circle cx="592.8" cy="375.8" r="4.4"/>
<circle cx="599.5" cy="380.8" r="4.4"/>
<circle cx="605.3" cy="386.7" r="4.4"/>
<circle cx="612.0" cy="389.2" r="4.4"/>
<circle cx="617.0" cy="380.0" r="4.4"/>
<circle cx="622.8" cy="380.8" r="4.4"/>
<circle cx="622.8" cy="388.3" r="4.4"/>
<circle cx="628.7" cy="378.3" r="4.4"/>
<circle cx="520.3" cy="400.0" r="4.4"/>
<circle cx="526.2" cy="405.3" r="4.4"/>
<circle cx="538.7" cy="404.2" r="4.4"/>
<circle cx="544.5" cy="408.3" r="4.4"/>
<circle cx="551.2" cy="401.3" r="4.4"/>
<circle cx="562.0" cy="400.0" r="4.4"/>
<circle cx="568.7" cy="406.7" r="4.4"/>
<circle cx="580.7" cy="412.5" r="4.4"/>
<circle cx="587.0" cy="412.5" r="4.4"/>
<circle cx="587.3" cy="421.7" r="4.4"/>
<circle cx="592.8" cy="406.7" r="4.4"/>
<circle cx="598.7" cy="413.7" r="4.4"/>
<circle cx="605.3" cy="408.3" r="4.4"/>
<circle cx="612.0" cy="404.2" r="4.4"/>
<circle cx="617.8" cy="401.7" r="4.4"/>
<circle cx="623.3" cy="420.3" r="4.4"/>
<circle cx="628.7" cy="400.0" r="4.4"/>
<circle cx="592.7" cy="376.7" r="4.4"/>
<circle cx="599.3" cy="380.8" r="4.4"/>
<circle cx="605.2" cy="385.8" r="4.4"/>
<circle cx="611.0" cy="388.3" r="4.4"/>
<circle cx="617.7" cy="380.0" r="4.4"/>
<circle cx="623.5" cy="380.0" r="4.4"/>
<circle cx="629.3" cy="377.5" r="4.4"/>
<circle cx="623.5" cy="388.3" r="4.4"/>
<circle cx="635.2" cy="386.7" r="4.4"/>
<circle cx="641.5" cy="377.5" r="4.4"/>
<circle cx="641.5" cy="383.3" r="4.4"/>
<circle cx="647.7" cy="385.0" r="4.4"/>
<circle cx="647.7" cy="390.8" r="4.4"/>
<circle cx="659.3" cy="388.0" r="4.4"/>
<circle cx="671.8" cy="390.3" r="4.4"/>
<circle cx="683.5" cy="395.3" r="4.4"/>
<circle cx="598.5" cy="413.3" r="4.4"/>
<circle cx="605.2" cy="408.3" r="4.4"/>
<circle cx="611.0" cy="404.2" r="4.4"/>
<circle cx="616.8" cy="401.7" r="4.4"/>
<circle cx="623.5" cy="420.3" r="4.4"/>
<circle cx="629.0" cy="400.3" r="4.4"/>
<circle cx="635.2" cy="421.7" r="4.4"/>
<circle cx="641.0" cy="400.3" r="4.4"/>
<circle cx="652.7" cy="399.2" r="4.4"/>
<circle cx="659.3" cy="400.8" r="4.4"/>
<circle cx="671.8" cy="399.2" r="4.4"/>
<circle cx="683.5" cy="399.2" r="4.4"/>
<circle cx="681.8" cy="412.5" r="4.4"/>
<circle cx="689.7" cy="413.7" r="4.4"/>
<circle cx="520.7" cy="391.1" r="4.4"/>
<circle cx="521.0" cy="389.9" r="4.4"/>
<circle cx="520.8" cy="398.5" r="4.4"/>
<circle cx="520.3" cy="395.0" r="4.4"/>
<circle cx="520.7" cy="382.5" r="4.4"/>
<circle cx="526.4" cy="402.5" r="4.4"/>
<circle cx="526.8" cy="391.5" r="4.4"/>
<circle cx="526.9" cy="393.7" r="4.4"/>
<circle cx="526.4" cy="383.1" r="4.4"/>
<circle cx="526.9" cy="388.7" r="4.4"/>
<circle cx="526.6" cy="388.7" r="4.4"/>
<circle cx="532.5" cy="393.5" r="4.4"/>
<circle cx="532.8" cy="400.5" r="4.4"/>
<circle cx="532.4" cy="394.8" r="4.4"/>
<circle cx="532.5" cy="401.2" r="4.4"/>
<circle cx="532.8" cy="387.5" r="4.4"/>
<circle cx="533.1" cy="388.7" r="4.4"/>
<circle cx="532.4" cy="391.9" r="4.4"/>
<circle cx="538.8" cy="378.6" r="4.4"/>
<circle cx="539.2" cy="392.1" r="4.4"/>
<circle cx="538.9" cy="382.0" r="4.4"/>
<circle cx="538.5" cy="395.7" r="4.4"/>
<circle cx="538.9" cy="385.4" r="4.4"/>
<circle cx="539.2" cy="387.9" r="4.4"/>
<circle cx="538.9" cy="402.8" r="4.4"/>
<circle cx="538.5" cy="395.1" r="4.4"/>
<circle cx="545.2" cy="401.0" r="4.4"/>
<circle cx="544.6" cy="400.5" r="4.4"/>
<circle cx="544.8" cy="388.4" r="4.4"/>
<circle cx="545.0" cy="388.7" r="4.4"/>
<circle cx="544.5" cy="381.9" r="4.4"/>
<circle cx="544.9" cy="379.9" r="4.4"/>
<circle cx="545.2" cy="381.5" r="4.4"/>
<circle cx="550.9" cy="381.4" r="4.4"/>
<circle cx="550.8" cy="392.8" r="4.4"/>
<circle cx="550.8" cy="392.3" r="4.4"/>
<circle cx="550.6" cy="399.2" r="4.4"/>
<circle cx="551.1" cy="387.4" r="4.4"/>
<circle cx="550.5" cy="387.3" r="4.4"/>
<circle cx="550.9" cy="393.2" r="4.4"/>
<circle cx="557.3" cy="385.4" r="4.4"/>
<circle cx="556.9" cy="394.0" r="4.4"/>
<circle cx="556.7" cy="382.1" r="4.4"/>
<circle cx="557.2" cy="400.7" r="4.4"/>
<circle cx="557.3" cy="390.9" r="4.4"/>
<circle cx="556.7" cy="394.0" r="4.4"/>
<circle cx="557.0" cy="382.5" r="4.4"/>
<circle cx="563.0" cy="385.2" r="4.4"/>
<circle cx="563.0" cy="391.6" r="4.4"/>
<circle cx="562.7" cy="397.5" r="4.4"/>
<circle cx="563.1" cy="402.4" r="4.4"/>
<circle cx="562.6" cy="399.2" r="4.4"/>
<circle cx="563.2" cy="397.7" r="4.4"/>
<circle cx="563.2" cy="400.0" r="4.4"/>
<circle cx="562.7" cy="400.6" r="4.4"/>
<circle cx="569.1" cy="391.9" r="4.4"/>
<circle cx="568.8" cy="402.7" r="4.4"/>
<circle cx="569.0" cy="401.0" r="4.4"/>
<circle cx="569.1" cy="397.4" r="4.4"/>
<circle cx="569.0" cy="394.0" r="4.4"/>
<circle cx="569.4" cy="399.6" r="4.4"/>
<circle cx="575.1" cy="404.3" r="4.4"/>
<circle cx="575.1" cy="404.4" r="4.4"/>
<circle cx="575.1" cy="390.1" r="4.4"/>
<circle cx="575.2" cy="399.1" r="4.4"/>
<circle cx="575.1" cy="395.0" r="4.4"/>
<circle cx="575.2" cy="392.6" r="4.4"/>
<circle cx="575.0" cy="406.6" r="4.4"/>
<circle cx="581.1" cy="406.9" r="4.4"/>
<circle cx="581.0" cy="405.3" r="4.4"/>
<circle cx="581.4" cy="401.3" r="4.4"/>
<circle cx="581.3" cy="391.3" r="4.4"/>
<circle cx="581.2" cy="399.2" r="4.4"/>
<circle cx="580.8" cy="391.9" r="4.4"/>
<circle cx="580.9" cy="387.2" r="4.4"/>
<circle cx="580.8" cy="391.4" r="4.4"/>
<circle cx="586.8" cy="391.2" r="4.4"/>
<circle cx="587.4" cy="397.4" r="4.4"/>
<circle cx="586.7" cy="385.6" r="4.4"/>
<circle cx="587.5" cy="391.4" r="4.4"/>
<circle cx="586.8" cy="393.9" r="4.4"/>
<circle cx="587.4" cy="390.9" r="4.4"/>
<circle cx="586.9" cy="402.5" r="4.4"/>
<circle cx="586.8" cy="396.7" r="4.4"/>
<circle cx="593.4" cy="399.4" r="4.4"/>
<circle cx="593.1" cy="380.0" r="4.4"/>
<circle cx="593.3" cy="396.7" r="4.4"/>
<circle cx="593.2" cy="394.6" r="4.4"/>
<circle cx="592.9" cy="402.7" r="4.4"/>
<circle cx="592.8" cy="404.2" r="4.4"/>
<circle cx="592.8" cy="406.4" r="4.4"/>
<circle cx="599.0" cy="395.2" r="4.4"/>
<circle cx="599.1" cy="397.9" r="4.4"/>
<circle cx="599.4" cy="402.8" r="4.4"/>
<circle cx="599.1" cy="398.8" r="4.4"/>
<circle cx="599.0" cy="393.7" r="4.4"/>
<circle cx="599.1" cy="385.7" r="4.4"/>
<circle cx="605.1" cy="389.9" r="4.4"/>
<circle cx="605.3" cy="397.9" r="4.4"/>
<circle cx="605.2" cy="390.7" r="4.4"/>
<circle cx="605.1" cy="397.2" r="4.4"/>
<circle cx="611.0" cy="394.1" r="4.4"/>
<circle cx="611.3" cy="392.4" r="4.4"/>
<circle cx="611.4" cy="392.4" r="4.4"/>
<circle cx="611.5" cy="397.1" r="4.4"/>
<circle cx="617.3" cy="395.5" r="4.4"/>
<circle cx="617.6" cy="398.1" r="4.4"/>
<circle cx="617.4" cy="390.6" r="4.4"/>
<circle cx="617.2" cy="400.1" r="4.4"/>
<circle cx="623.4" cy="384.7" r="4.4"/>
<circle cx="623.1" cy="396.1" r="4.4"/>
<circle cx="623.1" cy="393.5" r="4.4"/>
<circle cx="623.7" cy="388.8" r="4.4"/>
<circle cx="593.1" cy="384.9" r="4.4"/>
<circle cx="593.1" cy="393.6" r="4.4"/>
<circle cx="592.9" cy="405.8" r="4.4"/>
<circle cx="593.3" cy="393.4" r="4.4"/>
<circle cx="599.4" cy="396.1" r="4.4"/>
<circle cx="599.0" cy="386.3" r="4.4"/>
<circle cx="599.4" cy="404.6" r="4.4"/>
<circle cx="599.0" cy="406.7" r="4.4"/>
<circle cx="605.6" cy="387.5" r="4.4"/>
<circle cx="604.9" cy="389.9" r="4.4"/>
<circle cx="605.4" cy="402.2" r="4.4"/>
<circle cx="611.1" cy="392.3" r="4.4"/>
<circle cx="611.2" cy="398.4" r="4.4"/>
<circle cx="617.0" cy="392.8" r="4.4"/>
<circle cx="623.5" cy="385.7" r="4.4"/>
<circle cx="629.3" cy="395.1" r="4.4"/>
<circle cx="635.2" cy="391.8" r="4.4"/>
<circle cx="641.8" cy="392.7" r="4.4"/>
<circle cx="647.4" cy="392.9" r="4.4"/>
</g>
<line x1="513.7" y1="392.5" x2="709.3" y2="398.3" stroke="#000" stroke-width="1.85"/>
<path d="M513.7 347.2V442.3M513.7 442.3h-5.3M513.7 426.4h-5.3M513.7 410.6h-5.3M513.7 394.7h-5.3M513.7 378.9h-5.3M513.7 363.0h-5.3M513.7 347.2h-5.3M520.7 444.4H701.9M520.7 444.4v4.4M550.9 444.4v4.4M581.1 444.4v4.4M611.3 444.4v4.4M641.5 444.4v4.4M671.7 444.4v4.4M701.9 444.4v4.4" stroke="#000" stroke-width="1.4" fill="none" stroke-linecap="square"/>
<text class="y" x="503.7" y="446.3">−3</text>
<text class="y" x="503.7" y="430.4">−2</text>
<text class="y" x="503.7" y="414.6">−1</text>
<text class="y" x="503.7" y="398.7">0</text>
<text class="y" x="503.7" y="382.9">1</text>
<text class="y" x="503.7" y="367.0">2</text>
<text class="y" x="503.7" y="351.2">3</text>
<text class="a" x="520.7" y="461.6">1.0</text>
<text class="a" x="550.9" y="461.6">1.5</text>
<text class="a" x="581.1" y="461.6">2.0</text>
<text class="a" x="611.3" y="461.6">2.5</text>
<text class="a" x="641.5" y="461.6">3.0</text>
<text class="a" x="671.7" y="461.6">3.5</text>
<text class="a" x="701.9" y="461.6">4.0</text>
<text class="t" x="611.3" y="328.85">Study 9</text>
<text class="l" x="647.7" y="355.0">r = −0.13</text>
<text class="l" x="647.7" y="366.9">N = 197</text>
<text class="l" x="647.7" y="378.7">p = 0.07</text>
</svg>
</body></html>
